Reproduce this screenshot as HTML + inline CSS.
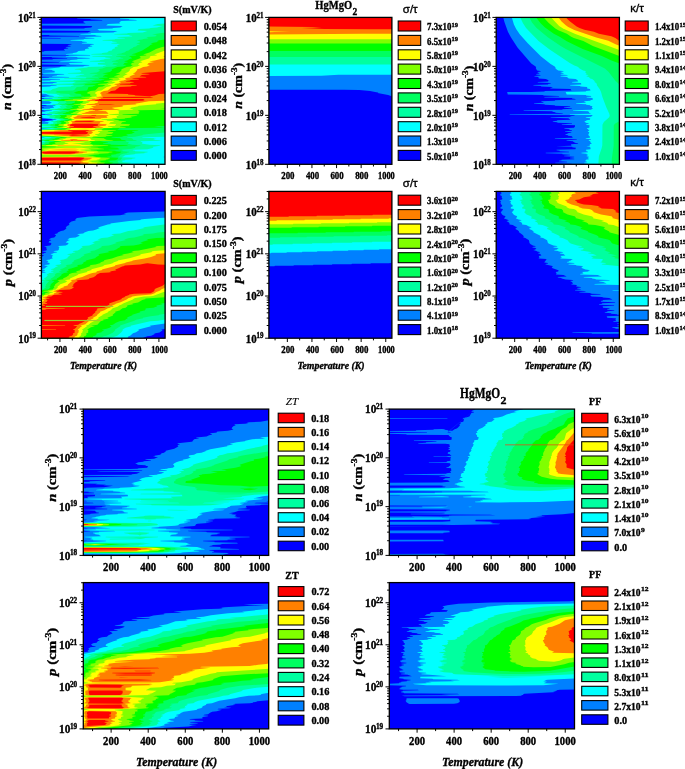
<!DOCTYPE html>
<html><head><meta charset="utf-8"><style>
html,body{margin:0;padding:0;background:#fff;}
svg{display:block;}
text{font-family:'Liberation Serif','DejaVu Serif',serif;font-weight:bold;fill:#000;stroke:#000;stroke-width:0.35px;}
</style></head><body>
<svg width="685" height="769" viewBox="0 0 685 769">
<rect x="41.2" y="17.4" width="123.8" height="146.9" fill="#0000FF"/>
<path fill="#0080FF" d="M41.2 17.4 165 17.4 165 164.3 41.2 164.3 41.2 120.98 48.3 120.68 48.35 120.18 52.38 119.68 52.36 119.18 42.82 118.68 42.45 118.17 41.2 118.11 41.2 114.81 45.33 114.66 44.84 114.16 41.2 114.02 41.2 110.82 43.45 110.65 43.77 110.15 41.2 110.08 41.2 107.86 43.68 107.65 44.01 107.14 41.2 106.72 41.2 106.1 46.74 105.64 46.18 105.14 41.2 105.01 41.2 102.73 41.96 102.63 41.2 102.32 41.2 98.7 44.17 98.62 44.14 98.12 41.2 98 41.2 96.78 45.39 96.62 45.37 96.11 41.2 95.65 41.2 77.7 48.87 77.56 49.11 77.06 41.2 76.84 41.2 74.69 43.05 74.56 43.42 74.05 41.2 74.01 41.2 66.85 60.36 66.53 60.77 66.03 66.15 65.53 66.51 65.03 41.28 64.53 41.79 64.03 41.2 63.97 41.2 62.96 58.67 62.52 59.08 62.02 42.2 61.79 41.2 61.78 41.2 59.83 52.41 59.51 52.99 59.01 66.99 58.51 67.42 58.01 51.52 57.51 52.08 57.01 41.2 56.9 41.2 55.78 64.76 55.61 68.47 55.5 68.8 55 41.2 54.74 41.2 51.81 44.04 51.49 44.41 50.99 64.79 50.49 64.99 49.99 63.8 49.49 64.03 48.99 67.82 48.48 68.32 47.98 65.61 47.48 65.97 46.98 70.4 46.48 70.76 45.98 67.45 45.48 68.2 44.98 71.24 44.47 71.57 43.97 41.2 43.67 41.2 38.58 60.4 38.46 60.9 37.96 41.2 37.84 41.2 36.69 76.79 36.52 78.77 36.45 79.12 35.95 49.18 35.45 49.39 34.95 41.2 34.92 41.2 32.78 87.86 32.44 90.98 30.94 41.2 30.52 41.2 28.71 84.46 28.43 84.69 27.93 91.33 27.43 92.24 25.92 41.2 25.47 41.2 23.84 85.32 23.42 85.31 22.92 83.51 22.41 83.61 20.91 102.14 20.41 102.36 19.91 90.55 19.41 90.59 18.9 77.3 18.4 77.13 17.9 41.2 17.83Z"/>
<path fill="#00FFFF" d="M84.4 17.4 165 17.4 165 156.7 163.61 156.78 163.61 157.28 165 157.32 165 160.76 164.16 160.79 164.15 161.29 165 161.37 165 164.3 41.2 164.3 41.2 137.98 45.8 137.73 41.2 137.16 41.2 128.7 52.02 128.2 41.2 128.06 41.2 126.28 41.61 126.2 41.2 126.18 41.2 123.91 47.92 123.69 48.77 122.19 44.94 121.68 45.19 121.18 52.84 120.68 52.85 120.18 56.4 119.68 56.42 119.18 42.63 117.67 42 117.17 43.24 116.67 41.2 115.98 41.2 115.08 52.12 114.66 51.86 114.16 41.2 113.72 41.2 112.79 41.95 112.66 42 112.16 45.18 111.66 45.47 111.16 51.68 110.65 52.28 110.15 41.2 109.8 41.2 108.95 49.46 108.65 50.28 108.15 53.83 107.65 54.2 107.14 52.84 106.64 52.94 106.14 55.65 105.64 55.34 105.14 41.2 104.65 41.2 104.08 51.13 103.63 49.83 103.13 51.97 102.63 49.1 101.13 41.2 100.96 41.2 98.94 52.54 98.62 52.49 98.12 41.2 97.66 41.2 97.09 53.76 96.62 53.82 96.11 48.62 95.61 48.61 95.11 46.58 94.61 46.7 94.11 41.2 93.77 41.2 86.98 50.42 86.59 50.75 86.09 56.4 85.59 56.77 85.08 41.2 84.81 41.2 83.8 52.61 83.58 53.42 83.08 56.38 82.58 57.1 82.08 41.2 81.82 41.2 80.77 50.23 80.57 50.7 80.07 59.87 79.57 60.17 79.07 41.2 78.58 41.23 78.07 69 77.56 69.23 77.06 52.06 76.56 52.31 76.06 56.84 75.56 57.22 75.06 63.76 74.56 64.45 74.05 42.86 73.55 43.29 73.05 54.13 72.55 55.24 72.05 54.17 71.55 55.12 71.05 51.92 70.54 52.74 70.04 44.49 69.54 45 69.04 59.41 67.54 59.94 67.04 83.38 66.53 83.92 66.03 88.97 65.53 89.46 65.03 69.82 64.53 70.22 64.03 68.63 63.53 69.07 63.02 82.18 62.52 82.59 62.02 60.01 61.52 60.6 61.02 70.01 60.52 70.47 60.02 77.28 59.51 77.56 59.01 89.48 58.51 89.76 58.01 77.11 57.51 77.35 57.01 65.58 56.51 66.03 56.01 89.97 55.5 90.26 55 65.71 54.5 66.06 54 72.69 53.5 73.02 53 76.32 52.5 78.55 50.99 84.83 50.49 85.39 49.99 84.9 49.49 85.48 48.99 88.68 48.48 89.25 47.98 87.62 47.48 88.16 46.98 91.97 46.48 92.53 45.98 89.86 45.48 90.45 44.98 93.53 44.47 94.06 43.97 81.61 43.47 82.16 42.97 86.65 42.47 87.15 41.97 81.79 41.47 82.35 40.96 70.39 40.46 70.88 39.96 83.55 39.46 84.09 38.96 94.09 38.46 94.52 37.96 85 37.45 85.51 36.95 101.03 36.45 101.64 35.95 95.3 35.45 95.75 34.95 80.24 34.45 80.69 33.95 90.75 33.44 91.34 32.94 113.32 32.44 117.49 30.94 98.26 30.44 99.15 29.93 97.33 29.43 98.13 28.93 112.36 28.43 113.13 27.93 120.27 27.43 122.62 25.92 106.2 25.42 107.89 23.92 119.53 23.42 120.19 22.92 119.07 22.41 121.18 20.91 136.25 20.41 136.92 19.91 128.68 19.41 129.29 18.9 119.88 18.4 120.34 17.9Z"/>
<path fill="#00FFA0" d="M157.74 23.92 165 23.53 165 136.87 142.95 137.3 141.82 137.73 142.95 137.84 156.71 138.23 153.52 138.73 155.07 139.23 152.74 139.73 161.41 140.23 159.32 140.74 140.77 141.24 140.55 141.74 142.64 142.24 141.92 143.24 142.54 143.74 149.49 144.75 159.49 145.25 160.45 145.75 152.95 146.75 152.64 147.25 153.72 147.75 147.52 149.26 133.77 149.76 132.44 150.26 135.01 150.76 134.93 151.26 147.62 151.77 147.61 152.27 144.51 152.77 144.38 153.27 135.34 153.77 134.49 154.27 124.87 155.28 124.04 156.28 122.46 156.78 122.51 157.28 135.34 157.78 135.32 158.28 131.91 158.78 131.86 159.29 125.4 159.75 125.08 160.29 122.18 160.79 121.99 161.29 122.78 161.79 122.53 162.29 130.73 162.8 130.59 163.3 127.61 163.8 127.47 164.3 41.2 164.3 41.2 143.78 42.03 143.24 41.71 142.74 42.07 142.24 44.55 141.74 45.09 141.24 41.2 141.02 41.2 139.18 43.75 138.73 43.73 138.23 52.01 137.73 50.59 137.23 41.2 136.92 41.2 129.31 51.73 129 55.38 128.2 41.2 127.88 41.2 127.02 51.22 126.7 51.76 126.2 41.2 125.74 41.2 125.08 42.61 124.19 53.17 123.69 53.48 122.19 51.07 121.68 51.09 121.18 56.88 120.68 56.94 120.18 60.42 119.68 60.55 119.18 54.21 118.68 54.15 118.17 49.64 117.67 49.3 117.17 50.1 116.67 49.67 116.17 47.46 115.67 46.79 115.17 58.49 114.66 58.6 114.16 47.26 113.66 47.08 113.16 49.36 112.66 49.54 112.16 52.87 111.66 53.35 111.16 59.42 110.65 59.91 110.15 46.02 109.65 46.59 109.15 57.27 108.65 57.79 108.15 60.54 107.65 60.74 107.14 59.54 106.64 59.59 106.14 61.81 105.64 61.62 105.14 52.74 104.64 52 104.14 58.3 103.63 57.43 103.13 59.21 102.63 56.84 101.13 41.2 100.75 41.2 99.76 43.33 99.62 43.45 99.12 48.72 98.98 60.65 98.62 60.82 98.12 48.74 97.62 48.78 97.12 63.17 96.62 63.63 96.11 58.5 95.61 58.96 95.11 56.52 94.61 57.2 94.11 47 93.61 47.35 93.11 43.73 92.6 44.02 92.1 42.44 91.6 42.7 91.1 50.61 90.6 52.79 89.1 55.26 88.59 58.93 87.09 71.01 86.59 71.19 86.09 73.68 85.59 73.76 85.08 50.75 84.58 51.56 84.08 72.19 83.58 75.79 82.08 49.35 81.57 50.11 81.07 73.29 80.57 73.98 80.07 80.27 79.57 80.65 79.07 64.08 78.57 64.37 78.07 86.1 77.56 86.3 77.06 75.65 76.56 75.92 76.06 79.61 75.56 79.99 75.06 83.8 74.56 84.51 74.05 67.3 73.55 68.67 73.05 79.75 72.55 81.01 72.05 80.7 71.55 81.8 71.05 79.72 70.54 80.61 70.04 74.39 69.54 75.17 69.04 87.31 67.54 87.9 67.04 102.63 66.53 103.21 66.03 105.67 65.53 106.22 65.03 97.47 64.53 98.37 64.03 97.45 63.53 98.25 63.02 104.74 62.52 105.18 62.02 89.72 61.52 90.25 61.02 99.9 60.52 100.32 60.02 104.16 59.51 104.54 59.01 110.22 58.51 110.61 58.01 105.06 57.51 105.49 57.01 92.23 56.51 92.6 56.01 112 55.5 112.36 55 91.15 54.5 91.59 54 101.83 53.5 102.32 53 107.14 52.5 108.96 50.99 111.91 50.49 112.68 48.99 114.63 48.48 115.17 47.98 114.49 47.48 115.07 46.98 117.5 46.48 118.07 45.98 116.95 45.48 117.55 44.98 120.06 43.97 111.05 43.47 111.74 42.97 116.39 42.47 117.08 41.97 111.85 41.47 112.63 40.96 102.25 40.46 102.96 39.96 114.55 39.46 115.37 38.96 124.39 38.46 125.26 37.96 117.11 37.45 117.93 36.95 131.64 36.45 132.55 35.95 128.94 35.45 130.02 34.95 113.85 34.45 114.94 33.95 126.88 33.44 128.13 32.94 142.76 32.44 147.31 30.94 137.02 30.44 138.31 29.93 137.81 29.43 139.19 28.93 149.24 28.43 150.75 27.93 157.01 27.43 162.75 25.92 152.49 25.42Z"/>
<path fill="#00FF60" d="M161.14 32.94 165 32.78 165 132.42 146.28 134.22 142.75 134.72 142.55 135.22 135.11 136.72 127.41 137.33 126.82 137.73 132.58 138.23 132.11 138.73 133.28 139.23 132.91 139.73 136.67 140.23 136.41 140.74 126.23 141.24 125.9 141.74 128.89 142.24 128.79 142.74 127.73 143.24 128.14 143.74 132.46 144.75 139.64 145.25 140.99 145.75 135.42 146.75 134.92 147.25 135.57 147.75 131.57 148.76 121.69 149.76 121.4 150.26 123.22 150.76 123.2 151.26 129.25 151.77 129.25 152.27 127.06 152.77 126.87 153.27 123.13 153.77 120.46 154.77 119.92 155.28 119.83 156.28 118.3 156.78 118.47 157.28 121.9 157.78 121.89 158.28 120.38 160.29 117.81 160.79 117.44 161.29 118.09 161.79 117.56 162.29 119.58 162.8 116.94 164.3 41.2 164.3 41.2 144.74 44.41 143.74 45.11 142.24 49.74 141.24 41.2 140.81 41.2 140.11 45.99 139.73 46.75 139.23 50.03 138.73 50.29 138.23 56.41 137.73 55.4 137.23 41.2 136.59 41.2 129.76 52.23 129.63 59.11 128.2 42.26 127.7 54.87 126.7 55.15 126.2 50.27 125.69 50.75 124.19 56.83 123.69 57.38 122.19 55.4 121.68 55.46 121.18 60.91 120.68 61.02 120.18 64.57 119.68 64.73 119.18 58.64 118.68 58.73 118.17 54.58 117.67 54.47 117.17 55.5 116.67 55.42 116.17 53.64 115.67 53.4 115.17 64.93 114.66 65.43 114.16 60.25 113.9 54.81 113.66 54.79 113.16 57.34 112.66 57.65 112.16 61.21 111.66 61.65 111.16 66.59 110.65 66.83 110.15 54.84 109.65 55.51 109.15 64.11 108.65 64.31 108.15 66.62 107.65 66.7 107.14 65.52 106.64 65.54 106.14 67.66 105.64 67.57 105.14 59.9 104.64 59.37 104.14 65.11 103.63 64.63 103.13 66.67 102.63 65.44 101.13 45.28 100.63 45.18 100.13 52.16 99.62 52.24 99.12 70.21 98.62 70.59 98.12 57.68 97.62 58.08 97.12 73.85 96.62 74.55 96.11 69.8 95.61 70.66 95.11 68.8 94.61 70.06 94.11 59.22 93.61 60.7 93.11 55.18 92.6 57.05 92.1 55.56 91.6 57.71 91.1 72.81 90.6 74.18 90.1 76.75 87.09 82.56 86.59 82.52 86.09 84.53 85.59 84.46 85.08 72.99 84.58 73.33 84.08 82.99 83.58 88.53 82.08 75 81.57 76.2 81.07 89.63 80.57 90.47 80.07 94.36 79.57 94.7 79.07 85.65 78.57 85.92 78.07 98.13 77.56 98.29 77.06 92.11 76.56 92.37 76.06 94.61 75.56 94.97 75.06 97.24 74.56 97.81 74.05 89.38 73.55 90.75 73.05 96.52 72.55 97.79 72.05 99.54 71.05 99.2 70.54 100.33 70.04 97.95 69.54 99.12 69.04 102.27 68.54 106.13 67.04 113.97 66.53 116.67 65.53 117.3 65.03 112.27 64.53 113.64 63.02 117.68 62.52 118.2 62.02 111.53 61.52 112.11 61.02 115.97 60.52 116.41 60.02 118.76 59.51 119.23 59.01 122.97 58.51 123.49 58.01 120.29 57.51 120.77 57.01 115.93 56.51 116.35 56.01 125.69 55.5 126.15 55 116.85 54.5 117.35 54 121.49 53.5 122.1 53 124.44 52.5 126.39 50.99 128.64 50.49 130.41 48.99 132.89 47.98 132.98 47.48 133.84 46.98 135.84 46.48 136.78 45.98 136.61 45.48 139.44 44.38 139.97 43.97 136.14 43.47 139.74 42.47 140.43 41.97 139.31 41.47 140.05 40.96 136.87 40.46 138.06 39.96 142.3 39.46 143.22 38.96 147.46 38.46 148.62 37.96 146.25 37.45 147.55 36.95 154.88 36.45 156.59 35.95 155.62 35.45 157.28 34.95 152.1 34.45Z"/>
<path fill="#00FF00" d="M164.8 39.46 165 126.04 158.06 126.2 154.25 126.7 164.62 127.2 159.94 127.7 119.56 128.2 117.25 129.71 138.6 130.21 137.56 130.71 132.59 131.21 131.71 131.71 134.96 132.21 131.58 133.72 127.26 134.22 126 134.72 128.06 135.22 126.92 135.72 122.89 136.22 122.24 136.72 111.82 137.23 111.39 137.73 120.69 138.23 120.13 138.73 121.51 139.23 120.87 139.73 125.7 140.23 125.35 140.74 103.33 141.24 99.85 141.74 108.6 142.24 107.21 142.74 102.87 143.24 103.19 143.74 110.4 144.25 111.29 144.75 126.89 145.25 128.1 145.75 110.02 146.75 110.92 147.25 117.79 147.75 117.69 148.26 119.45 148.76 119.08 149.26 117.38 149.42 108.4 149.76 108.75 150.26 115.53 150.76 115.56 151.26 121.16 151.77 121.16 152.27 119.78 152.77 119.72 153.27 116.55 153.77 116.02 154.27 111.39 154.77 110.77 155.28 112.28 156.28 106.91 156.78 108.55 157.28 118.17 157.78 117.49 159.29 115.51 160.29 108.66 160.79 108.13 161.29 110.29 161.79 109.46 162.29 113.46 162.8 109.87 164.3 41.2 164.3 41.2 145 45.17 144.75 45.67 144.25 48.61 143.74 49.22 143.24 48.52 142.74 49.47 142.24 53.73 141.74 54.67 141.24 44.05 140.74 44.59 140.23 51.73 139.73 54.86 138.73 55.07 138.23 60.75 137.75 60.13 137.23 41.2 136.09 41.2 129.92 56.61 129.71 64.98 128.2 53.12 127.7 54.19 127.2 58.04 126.7 58.49 126.2 54.75 125.69 55.08 124.19 60.99 123.69 61.57 122.19 59.42 121.68 59.54 121.18 65.2 120.68 65.31 120.18 68.6 119.68 68.9 119.18 63.16 118.68 63.38 118.17 59.56 117.67 59.69 117.17 60.96 116.67 61.17 116.17 59.81 115.67 59.98 115.17 71.25 114.66 71.94 114.16 62.59 113.66 62.99 113.16 65.62 112.66 65.98 112.16 68.78 111.66 69 111.16 73.1 110.65 73.24 110.15 63.06 109.65 63.39 109.15 70.46 108.65 70.56 108.15 72.77 107.65 72.83 107.14 71.61 106.64 71.63 106.14 73.92 105.64 73.98 105.14 66.47 104.64 66.23 104.14 72.25 103.63 72.21 103.13 74.76 102.63 75.03 101.13 54.32 100.63 54.16 100.13 61.32 99.62 61.54 99.12 81.11 98.62 81.45 98.12 68.53 97.62 69.34 97.12 83.74 96.62 84.29 96.11 80.85 95.61 81.6 95.11 80.39 94.61 81.72 94.11 74.44 93.61 76.45 93.11 73.68 92.6 78.55 91.1 86.55 90.6 87.3 90.1 88.47 87.09 93.17 86.59 93.25 86.09 95.2 85.59 95.43 85.08 84.69 84.58 84.96 84.08 95.22 83.58 101.01 82.08 91.05 81.57 92.66 81.07 101.22 80.57 101.7 80.07 104.19 79.57 104.41 79.07 99.06 78.57 99.26 78.07 107.36 77.56 107.66 77.06 102.82 76.56 102.99 76.06 104.43 75.56 104.82 75.06 108.66 74.05 102.19 73.55 109.91 72.05 112.41 70.04 111.36 69.54 117.38 67.04 123.14 66.53 125.75 65.53 126.44 65.03 122.96 64.53 124.7 63.02 127.42 62.52 127.84 62.02 124.25 61.52 124.9 61.02 127.2 60.52 129.49 59.01 131.74 58.51 132.31 58.01 130.84 57.51 131.43 57.01 129.13 56.51 129.7 56.01 135.72 55.5 136.56 55 131.42 54.34 134.89 53.5 142.23 50.49 148.7 46.48 150.38 44.98 152.96 43.97 150.89 43.47 151.97 42.95 157.46 41.97 156.96 41.47 159.06 40.96 157.22 40.46Z"/>
<path fill="#80FF00" d="M162.31 46.98 165 46.58 165 107.59 164.29 107.65 165 108.16 160.01 108.65 165 108.83 165 109.71 139.33 110.15 137.44 110.65 140.1 111.16 138.47 111.66 139.43 112.16 138.29 112.66 139.16 113.16 138.27 113.66 122.96 114.16 122.2 114.66 137.58 115.17 136.66 115.67 130.56 116.67 132.04 117.17 130.37 117.67 125.07 118.17 124.62 118.68 114.56 119.18 114.2 119.68 118.98 120.18 118.45 120.68 126.17 121.18 125.69 121.68 122.06 122.19 120.86 123.69 130.15 124.19 128.93 125.69 120.24 126.2 119.81 126.7 125.94 127.2 125.38 127.7 103.95 128.2 101.29 129.71 116.15 130.21 115.29 130.71 108.51 131.21 107.41 131.71 113.53 132.21 111.97 133.72 106.53 134.22 106.44 134.72 112.42 135.22 112.27 135.72 105.89 136.22 105.8 136.72 92.7 137.23 91.98 137.73 104.85 138.23 103.58 138.73 106.72 139.23 104.5 139.73 113.7 140.23 111.98 140.74 89.89 141.24 89.49 141.74 91.67 142.24 91.43 142.74 90.37 143.24 90.29 143.74 92.28 144.25 92.45 144.75 107.68 145.25 108.46 145.75 90.47 146.75 90.9 147.25 98.09 147.75 98.71 148.26 103.59 148.76 104.06 149.26 90.79 149.76 91.13 150.26 97 150.76 97.35 151.26 112.41 151.77 112.45 152.27 108.67 152.77 108.65 153.27 99.68 153.77 98.86 154.27 86.97 155.28 96.45 156.28 92.5 156.78 96.77 157.28 109.9 157.78 110 158.28 108.51 158.78 108.41 159.29 105.81 159.79 105.62 160.29 98.52 160.79 98.32 161.29 100.85 161.79 100.47 162.29 105.36 162.8 102.84 164.3 58.74 164.3 41.2 164.3 41.2 155.78 42.42 155.28 41.2 155.14 41.2 150.43 44.11 149.76 41.2 149.59 41.2 147.82 55.24 147.25 56.53 146.75 41.2 145.97 41.2 145.32 52.16 144.75 52.33 144.25 55.52 143.74 55.55 143.24 54.42 142.74 54.99 142.24 60.38 141.74 61.43 141.24 48.43 140.74 49.68 140.23 56.52 139.73 59.53 138.73 59.68 138.23 66.86 137.73 66.18 137.23 56.71 136.72 53.6 136.22 41.2 135.77 41.2 130.08 64.67 129.71 66.26 129.3 67.96 128.2 56.38 127.7 57.35 127.2 63.2 126.7 63.61 126.2 58.21 125.69 58.94 124.19 65.59 123.69 65.98 122.19 63.94 121.68 64.03 121.18 68.96 120.68 69.2 120.18 71.57 119.68 71.81 119.18 67.75 118.68 68.19 118.17 64.54 117.67 64.91 117.17 67.22 116.17 66.2 115.67 66.92 115.17 76.3 114.66 77.16 114.16 70.42 113.66 70.86 113.16 73 112.66 73.25 112.16 75.44 111.66 75.57 111.16 78.57 110.65 78.74 110.15 70.18 109.65 70.33 109.15 76.67 108.65 76.78 108.15 78.74 107.65 78.92 107.14 77.96 106.64 78.15 106.14 80.38 105.64 80.61 105.14 73.51 104.64 73.59 104.14 79.97 103.63 80.23 103.13 82.33 102.63 83.43 101.13 64.47 100.63 64.45 100.13 72.89 99.62 73.34 99.12 88.79 98.62 89.19 98.12 81.07 97.62 81.62 97.12 91.26 96.62 91.81 96.11 89.6 95.61 90.31 95.11 89.73 94.61 90.83 94.11 86.54 93.61 88.12 93.11 86.95 92.6 90.54 91.1 95.15 90.6 98.69 87.09 102.83 86.59 105.61 85.08 97.51 84.58 98.46 84.08 106.31 83.58 108.21 82.58 109.02 82.08 103.51 81.57 104.23 81.07 109.44 80.57 110.02 80.07 112.54 79.57 113.12 79.07 108.83 78.57 109.21 78.07 117.26 77.56 117.99 77.06 113.67 76.56 119.48 74.56 120.08 74.05 115.52 73.55 119.43 72.55 121.81 70.04 121.21 69.54 122 69.04 126.79 67.04 130.53 66.53 132.2 65.53 132.69 65.03 130.65 64.53 131.86 63.02 133.95 62.52 134.55 62.02 132.03 61.52 132.56 61.02 140.95 58.01 139.97 57.51 140.88 57.01 139.33 56.51 140.3 56.01 145.69 55.5 146.76 55 143.09 54.5 149.46 52.5 156.05 48.99Z"/>
<path fill="#FFFF00" d="M163.73 50.99 165 50.78 165 102.8 155.7 103.63 156.35 104.14 138.54 105.64 138.22 106.14 130.71 107.65 131.02 108.15 129.19 108.65 133.63 109.15 132.04 109.65 119.36 110.15 116.96 110.65 119.83 111.16 118.26 111.66 119.22 112.16 118.27 112.66 119.19 113.16 118.64 113.66 109.55 114.16 109.26 114.66 118.76 115.17 118.42 115.67 116.65 116.17 116.38 116.67 117.19 117.17 116.91 117.67 112.44 118.17 112.19 118.68 101.64 119.18 101.3 119.68 107.26 120.18 106.81 120.68 113.92 121.18 113.54 121.68 110.29 122.19 109.06 123.69 116.22 124.19 114.99 125.69 108.16 126.2 107.68 126.7 112.67 127.2 112.02 127.7 95.67 128.2 94 129.71 102.81 130.21 102.07 130.71 98.45 131.21 97.64 131.71 100.34 132.21 98.6 133.72 95.3 134.22 94.86 134.72 97.89 135.22 97.39 135.72 93.26 136.22 92.7 136.72 87.31 137.08 72.78 137.28 57.24 136.03 41.2 135.28 41.2 130.34 60.75 129.99 69.25 129.71 71.56 128.2 61.2 127.7 66.98 126.7 67.19 126.2 63.45 125.69 63.94 124.19 68.65 123.69 69.28 122.19 67.9 121.68 68.06 121.18 71.92 120.68 72.1 120.18 74.38 119.68 74.59 119.18 71.26 118.68 71.63 118.17 69.7 117.67 72.06 116.17 71.88 115.67 72.73 115.17 81.49 114.66 82.23 114.16 76.55 113.66 78.47 112.66 78.73 112.16 80.41 111.66 80.63 111.16 84.21 110.65 84.39 110.15 76.79 109.65 76.92 109.15 82.08 108.65 82.28 108.15 84.2 107.65 84.35 107.14 83.56 106.64 83.77 106.14 85.55 105.64 85.76 105.14 80.89 104.64 81.19 104.14 85.63 103.63 86.04 103.13 88.2 102.63 90.42 101.13 76.89 100.63 77.5 100.13 84.06 99.62 84.67 99.12 95.07 98.62 95.42 98.12 89.69 97.62 90.24 97.12 97.03 96.62 97.4 96.11 96.02 95.61 96.5 95.11 96.21 94.61 96.91 94.11 94.59 93.61 95.61 93.11 95.11 92.6 97.96 91.1 101.51 90.6 106.69 87.09 109.22 86.59 111.04 85.59 111.65 85.08 107.63 84.58 108.29 84.08 112.9 83.58 115.8 82.08 111.47 81.57 112.35 81.07 117.31 80.57 120.85 79.07 118.49 78.57 119.12 78.07 123.95 77.56 124.6 77.06 122.62 76.56 127.77 74.05 124.74 73.55 128.26 72.05 130.05 70.04 129.72 69.54 130.33 69.04 133.7 67.04 137.27 66.53 140.32 65.03 137.84 64.53 139.57 63.02 141.83 62.52 142.5 62.02 140.16 61.52 140.88 61.02 148.86 58.51 149.84 58.01 149.38 57.51 150.61 57.01 149.7 56.51 150.97 56.01 156.12 55.5 157.11 55 154.08 54.5ZM65.69 138.23 72.78 137.77 90.75 138.23 90.04 138.73 91.31 139.23 90.58 139.73 95.26 140.23 94.23 140.74 84.81 141.14 70.77 141.22 53.86 140.74 54.95 140.23 62.64 139.73 63.12 139.23 65.67 138.73ZM64.88 142.24 71.77 141.83 85.22 142.24 83.38 142.74 71.63 143.74 82.14 144.25 80.3 144.75 92.8 145.25 93.2 145.75 83.3 146.28 60.25 146.27 45.94 145.75 46.67 145.25 64.97 144.75 62.87 144.25 68.75 143.74 67.84 143.24 64.52 142.74ZM64.97 147.75 81.5 147.75 88.97 148.76 89.98 149.26 80.13 149.76 80.72 150.26 85.62 150.76 85.5 151.26 98.13 151.77 98.33 152.27 93.95 152.77 93.91 153.27 76.79 154.54 69.27 154.97 45.21 154.73 41.2 154.36 41.2 151.32 49.66 149.76 42.22 149.26 43.2 148.91ZM67.54 156.78 70.27 156.4 100.47 157.78 100.69 158.28 99.28 158.78 99.24 159.29 96.77 159.79 96.69 160.29 88.56 160.79 88.39 161.29 91.68 161.79 91.45 162.29 97.79 162.8 96.13 164.3 83.8 164.3 41.2 164.3 41.2 156.93Z"/>
<path fill="#FF8000" d="M164.46 56.01 165 55.98 165 56.84 164.5 56.77 163.19 56.51ZM160.89 59.01 165 58.58 165 98.29 163.19 98.62 165 98.73 165 100.66 148.98 101.13 135.22 103.63 136.58 104.14 134.93 104.44 123.8 105.14 122.24 105.64 123.13 106.14 121.74 106.64 111.7 107.65 114.6 108.15 111.68 108.65 120.16 109.15 117.89 109.65 100.35 110.15 97.56 110.65 106.64 111.16 106.06 111.66 107.72 112.16 107.26 112.66 108.43 113.16 108.11 113.66 95.33 114.1 81.51 113.66 82.01 113.16 85.27 112.66 85.56 112.16 88.65 111.66 88.63 111.16 94.97 110.65 95.1 110.15 82.35 109.65 82.6 109.15 89.64 108.65 89.63 108.15 93.56 107.65 93.64 107.14 91.33 106.64 91.41 106.14 95.81 105.64 95.95 105.14 86.36 104.64 86.73 104.14 94.51 103.63 94.89 103.13 97.58 102.63 98.04 101.13 86.38 100.63 87.18 100.13 91.91 99.62 92.44 99.12 100.85 98.62 101.03 98.12 96.25 97.62 96.69 97.12 102.38 96.62 102.62 96.11 101.02 95.61 101.38 95.11 101.06 94.61 101.7 94.11 99.67 93.61 100.73 93.11 100.49 92.6 103.78 91.1 107.75 90.6 112.13 87.09 114.94 86.59 116.87 85.59 117.37 85.08 114.18 84.58 114.86 84.08 118.33 83.58 121.2 82.08 118.61 81.57 119.63 81.07 123.47 80.57 126.03 79.57 126.64 79.07 124.91 78.57 125.59 78.07 129.64 77.56 130.88 77.06 129.2 76.56 134.93 74.37 135.28 74.05 132.77 73.55 135.14 72.55 137.35 70.04 136.98 69.54 137.43 69.28 140.03 68.54 143.19 67.04 146.99 66.53 149.08 65.53 149.75 65.03 147.13 64.53 148.68 63.02 154.22 62.02 149.46 61.56 149.96 61.13 154.68 60.52ZM78.19 115.17 94.83 114.72 108.62 115.17 108.41 115.67 106.72 116.17 106.47 116.67 107.44 117.17 107.19 117.67 103.35 118 101.01 118.17 100.77 118.68 90.82 119.01 74.78 118.77 74.06 118.68 74.52 118.17 72.84 117.67 76.77 116.17 76.85 115.67ZM75.75 120.18 90.82 119.94 94.65 120.18 94.63 120.68 103.79 121.18 103.47 121.68 99.99 122.19 99.49 123.69 106.74 124.19 105.57 125.69 99.57 126.2 99.22 126.7 103.62 127.2 102.35 127.72 85.31 128.14 66.42 127.7 66.87 127.2 69.45 126.7 69.7 126.2 67.25 125.69 67.66 124.19 71.77 123.69 72.4 122.19 71.06 121.68 71.25 121.18 75.36 120.68ZM59.66 130.21 85.31 129.77 95.49 130.21 94.89 130.71 92.09 131.21 91.31 131.71 93.17 132.21 91.44 133.72 89.41 134.22 89.01 134.72 90.32 135.22 89.81 135.72 85.52 136.72 80.8 136.77 71.27 136.8 68.68 136.22 54.57 135.22 53.75 134.72 41.2 134.38 41.2 131.41 53.23 131.27 54.12 131.21 54.32 130.71ZM70.21 139.23 73.28 138.93 77.97 139.23 76.36 139.73 88.69 140.23 88.27 140.74 80.29 140.9 60.33 140.74 61.42 140.23 70.4 139.73ZM57.21 145.25 81.8 145.45 79.79 145.79 60.75 145.79 58.15 145.75ZM65.21 148.76 75.28 148.65 79.89 149.26 64.26 149.43 48.84 149.26ZM48.32 150.76 75.28 150.52 77.37 150.76 77.24 151.26 87.24 151.77 87.01 152.27 83.09 152.77 82.55 153.27 79.29 153.48 69.77 154.41 44.71 154.3 41.2 153.53 41.2 151.58 46.61 151.26ZM41.2 157.78 41.2 157.35 78.29 157.33 91.65 157.78 92.04 158.28 90.52 158.78 90.49 159.29 87.74 159.79 87.66 160.29 81.3 160.99 81.13 161.29 83.28 161.79 82.92 162.29 89.24 162.8 86.91 164.3 41.2 164.3Z"/>
<path fill="#FF0000" d="M161.57 71.55 165 71.35 165 93.78 159 94.11 154.56 95.61 149.96 96.23 134.91 95.61 134.77 95.11 127.83 94.61 128.28 94.11 105.56 93.61 109.09 93.11 107.67 92.6 109.61 92.1 111.07 91.1 115.09 90.6 119.48 87.09 131.4 86.59 131.13 86.09 136.8 85.59 136.48 85.08 134.93 85.06 119.76 84.58 120.2 84.08 121.9 83.83 130.01 83.58 130.46 83.08 133.44 82.58 134.12 82.08 125.36 81.57 126.34 81.07 129.98 80.57 130.71 80.07 138.35 79.57 139.18 79.07 131.8 78.57 134.05 78.07 145.58 77.56 146.5 77.06 139.94 76.61 139.62 76.56 140.08 76.06 141.91 75.06 148.13 74.56 150.08 74.05 140.94 73.52 142.62 73.05ZM102.86 97.12 149.46 96.74 153.47 97.23 150.46 97.67 134.93 97.93 103.85 97.67 102.5 97.62ZM99.17 99.12 140.44 98.91 145 99.12 143.2 99.62 144.65 100.13 142.45 100.66 134.43 100.99 101.85 100.94 94.6 100.63 95.08 100.13 98.97 99.62ZM99.14 104.14 115.38 104.15 110.49 104.64 101.85 104.7 99.04 104.64ZM92.96 109.15 102.85 109.17 101.91 109.65 95.33 109.71 92.91 109.65ZM92.52 115.17 96.15 115.17 96.04 115.67 94.33 115.84 90.54 115.67ZM82.28 117.17 90.32 116.79 95.07 117.17 94.98 117.67 93.33 117.74 80.15 117.67ZM74.54 121.18 90.82 121.05 93.62 121.18 93.68 121.68 89.82 122.1 75.78 121.9 74.42 121.68ZM70.61 124.19 75.28 123.76 89.82 123.69 98.37 124.19 97.71 125.69 93.18 126.2 93.14 126.7 96.49 127.2 96.33 127.44 91.32 127.89 69.04 127.7 69.42 127.2 73.98 126.7 74.16 126.2 69.9 125.69ZM68.97 130.21 88.91 130.21 88.54 130.71 85.63 131.21 85.84 131.71 88.04 132.21 87.38 133.72 85.31 134.15 72.78 134.45 58.24 134.02 41.2 133.87 41.2 132 70.31 131.71 73.29 131.21 67.62 130.71ZM68.56 135.22 72.78 134.81 85.31 135.29 72.28 135.81ZM71.04 140.23 73.44 140.23 71.77 140.71ZM42.31 151.77 50.22 151.41 70.27 151.41 79.17 151.77 78.86 152.27 77.29 152.5 75.48 152.77 74.82 153.27 69.77 153.67 45.71 153.66 42.52 153.27 42.69 152.77 41.6 152.27ZM41.2 157.78 80.29 157.61 84.06 157.78 84.44 158.28 83.42 158.78 83.38 159.29 81.51 159.79 81.39 160.29 79.79 160.4 41.2 160.52ZM41.2 162.8 41.2 162.37 74.78 162.51 81.59 162.8 80.85 163.3 77.3 164.3 41.2 164.3Z"/>
<rect x="268.9" y="17.4" width="123.0" height="146.9" fill="#0000FF"/>
<path fill="#0080FF" d="M268.9 17.4 391.9 17.4 391.9 96.34 390.95 96.11 388.14 95.11 377.54 93.11 378.52 92.6 376.4 92.19 370.01 91.1 359.32 90.1 344.4 89.76 268.9 89.76Z"/>
<path fill="#00FFFF" d="M268.9 17.4 391.9 17.4 391.9 74.82 390.9 74.81 338.4 74.69 321.4 75.66 268.9 75.99Z"/>
<path fill="#00FFA0" d="M268.9 17.4 391.9 17.4 391.9 64.43 268.9 64.43Z"/>
<path fill="#00FF60" d="M268.9 17.4 391.9 17.4 391.9 57.09 268.9 57.09Z"/>
<path fill="#00FF00" d="M268.9 17.4 391.9 17.4 391.9 50.99 268.9 50.99Z"/>
<path fill="#80FF00" d="M268.9 17.4 391.9 17.4 391.9 43.53 268.9 43.53Z"/>
<path fill="#FFFF00" d="M268.9 17.4 391.9 17.4 391.9 39.17 268.9 39.17Z"/>
<path fill="#FF8000" d="M268.9 17.4 391.9 17.4 391.9 33.79 362.4 33.79 268.9 34.61 268.9 32.46 275.03 32.44 268.9 32.29 268.9 31.83 290.55 31.44 268.9 30.89Z"/>
<path fill="#FF0000" d="M268.9 17.4 391.9 17.4 391.9 29.26 371.9 29.26 324.25 28.93 301.48 27.93 321.61 27.43 312.85 26.93 268.9 26.54Z"/>
<rect x="496.2" y="17.4" width="123.2" height="146.9" fill="#0000FF"/>
<path fill="#0080FF" d="M503.3 17.4 619.4 17.4 619.4 164.3 571.57 164.3 571.57 163.8 570.82 163.75 555.23 163.3 555.23 162.8 567 162.29 567 161.79 559.01 161.29 559.01 160.79 561.62 160.29 561.62 159.79 574.28 159.29 574.28 158.78 569.96 158.28 569.96 157.78 574.19 157.28 574.2 156.78 564.12 156.28 564.12 155.78 569.89 155.28 569.89 154.77 562.42 154.27 562.42 153.77 545.76 153.27 545.76 152.77 568.97 152.27 568.97 151.77 559.65 151.26 559.65 150.76 556.58 150.26 556.58 149.76 575.39 149.26 575.92 147.75 572.28 147.25 572.29 146.75 556.07 146.25 571.42 145.75 571 144.25 578.13 143.74 578.08 143.24 574.61 142.74 574.45 142.24 573.25 141.74 572.98 141.24 566.9 140.74 566.24 140.23 576.87 139.73 576.62 139.23 555.22 138.73 554.65 138.23 572.7 137.73 571.99 136.22 568.09 135.72 567.91 135.22 565.33 134.72 565.37 134.22 567.53 133.72 567.79 133.22 571.19 132.71 571.46 132.21 564.82 131.71 565.31 131.21 571.87 130.71 572.2 130.21 569.11 129.71 569.58 129.2 564.06 128.7 564.63 128.2 573.95 127.7 574.86 126.7 575.08 125.19 561.92 124.69 561.66 124.19 572.15 123.69 571.94 123.19 557.68 122.69 557.11 122.19 553.14 121.68 552.48 121.18 557.47 120.68 556.8 120.18 570.55 119.68 568.34 118.17 550.9 117.67 550.52 117.17 551.29 117.16 570.44 116.67 570.36 116.17 574.58 115.67 574.59 115.17 509.73 114.66 509.72 114.16 562.74 113.66 562.72 113.16 555.39 112.66 555.37 112.16 552.48 111.66 552.46 111.16 523.67 110.65 523.65 110.15 562.43 109.65 562.41 109.15 571.82 108.65 571.83 108.15 564.03 107.65 564.01 107.14 570.2 106.64 570.18 106.14 554.94 105.64 554.83 105.14 544.75 104.64 544.61 104.14 534.23 103.63 533.9 103.13 543.61 102.63 543.41 102.13 541.38 101.63 541.17 101.13 555.02 100.63 554.79 100.13 575.56 99.62 575.48 99.12 572.04 98.62 571.94 98.12 544.48 97.62 544.26 97.12 559.23 96.62 559.02 96.11 543.49 95.61 543.25 95.11 531.26 94.74 507.77 94.61 507.15 92.1 531.26 91.94 544.8 91.6 544.51 91.1 571.52 90.6 570.5 89.1 550.58 88.59 550.23 88.09 552.53 87.59 552.18 87.09 541.22 86.59 540.92 86.09 533.47 85.59 533.41 85.08 548.32 84.58 547.85 84.08 550.97 83.58 550.36 83.08 537.74 82.58 537.79 82.08 548.33 81.57 547.75 81.07 548.98 80.57 545.87 79.07 538.68 78.57 538.47 77.06 534.29 76.56 534.48 76.06 540.61 75.56 540.34 75.06 536.18 74.56 536.18 74.05 539.44 73.55 539.15 73.05 537.67 72.55 537.46 72.05 540.92 71.55 540.38 71.05 537.03 70.54 535.76 68.04 536.19 67.54 535.61 66.53 531.26 63.38 517.49 47.48 511.02 37.45 508.02 31.94 504.43 21.91Z"/>
<path fill="#00FFFF" d="M511.83 17.4 619.4 17.4 619.4 164.3 588.11 164.3 588.11 163.8 584.22 163.3 584.22 162.8 587.04 162.29 587.04 161.79 585.26 161.29 585.26 160.79 585.91 160.29 585.91 159.79 588.85 159.29 588.85 158.78 587.69 158.28 587.71 157.78 588.88 157.28 588.91 156.78 586.62 156.28 586.68 155.78 587.87 155.28 587.92 154.77 586.52 154.27 586.6 153.77 581.4 153.27 581.49 152.77 588.03 152.27 588.11 151.77 586.41 151.26 586.51 150.76 585.81 150.26 585.91 149.76 590.34 149.26 590.71 147.75 589.86 147.25 589.93 146.75 586.35 146.25 589.82 145.75 589.8 144.25 591.6 143.74 591.58 143.24 590.66 142.74 590.2 141.24 588.83 140.74 588.67 140.23 591.11 139.73 591.02 139.23 585.86 138.73 585.62 138.23 589.93 137.73 589.69 136.22 588.86 135.72 588.3 134.72 589.34 132.21 587.87 131.71 587.87 131.21 589.2 130.71 589.2 130.21 588.26 129.71 588.26 129.2 586.92 128.7 586.94 128.2 589.32 127.7 589.56 125.19 586.06 124.69 586.1 124.19 588.76 123.69 588.82 123.19 585.52 122.69 585.56 122.19 584.55 121.68 584.56 121.18 586.33 120.68 586.39 120.18 589.95 119.68 590.24 118.17 585.76 117.67 585.83 117.17 590.85 116.73 592.41 115.67 592.49 115.17 591.86 115.1 569.84 114.66 569.85 114.16 590.49 113.66 590.61 113.16 589 112.66 589.14 112.16 588.36 111.66 588.5 111.16 573.03 110.65 573.14 110.15 590.85 109.7 592.65 108.65 592.67 108.15 591.75 107.65 592.47 106.14 590.12 105.64 590.11 105.14 586.14 104.64 586.11 104.14 576.22 103.63 576.01 103.13 585.69 102.63 585.63 102.13 584.33 101.63 584.24 101.13 590.46 100.63 590.44 100.13 593 99.62 592.44 98.12 586.7 97.62 586.6 97.12 590.85 96.72 591.19 96.62 591.1 96.11 586.14 95.61 585.97 95.11 566.7 94.61 565.6 92.1 586.1 91.6 585.78 91.1 590.59 90.6 589.87 89.1 587.27 88.59 587.01 88.09 587.37 87.59 586.95 87.09 580.78 86.59 579.83 86.09 570.63 85.59 569.76 85.08 581.69 84.58 580.8 84.08 581.41 83.58 580.59 83.08 572.41 82.58 571.72 82.08 578.36 81.57 577.74 81.07 577.86 80.57 575.75 79.07 568.76 78.57 566.94 77.06 560.76 76.56 560.36 76.06 567.96 75.56 567.04 75.06 560.97 74.56 560.39 74.05 564.2 73.55 560.19 72.05 563.96 71.55 562.84 71.05 558.29 70.54 556.65 69.54 555.13 68.04 555.66 67.54 554.73 66.53 550.59 64.03 540.77 56.14 527.75 43.29 519.74 34.34 516.14 28.93 513.92 24.42Z"/>
<path fill="#00FFA0" d="M520.27 17.4 619.4 17.4 619.4 164.3 601.87 164.3 598.72 164.3 598.43 162.8 598.89 156.28 601.65 148.26 602.3 145.25 602.45 124.69 603.87 121.91 609.18 117.17 609.73 115.67 609.31 113.66 606.38 107.6 602.41 97.12 601.03 92.1 599.6 89.1 596.7 85.08 597 84.58 596.17 83.08 594.32 82.08 594.88 81.57 594.03 80.57 592.13 79.07 590.15 78.57 588.82 77.06 586.79 76.56 586.4 76.06 588.45 75.56 588.05 75.06 585.99 74.56 585.6 74.05 586.78 73.55 584.78 72.05 586.08 71.55 585.46 71.05 583.11 70.54 578.79 68.04 578.81 67.54 577.14 66.53 574.37 65.53 569.82 63.09 549.29 49.37 538.56 40.96 526.04 27.93 522.85 22.92Z"/>
<path fill="#00FF60" d="M529.49 17.4 619.4 17.4 619.4 84.58 615.53 81.07 608.67 72.05 604.9 68.54 565.81 49.05 560.3 45.78 547.78 37.29 536.59 27.93 531.97 22.41ZM618.36 121.68 619.4 121.22 619.4 164.3 613.39 164.3 611.77 164.3 611.77 159.29 613.65 145.75 613.77 125.19 614.91 123.69Z"/>
<path fill="#00FF00" d="M536.13 17.4 619.4 17.4 619.4 63.53 610.89 60.25 601.87 55.91 582.7 48.99 566.81 41.13 560.07 36.95 553.79 33.68 545.03 27.43 540.85 23.42Z"/>
<path fill="#80FF00" d="M543.61 17.4 619.4 17.4 619.4 56.01 592.86 45.92 583.34 41.1 573.83 37.97 570.82 36.45 566.81 33.73 558.3 30.36 555.3 28.46 548.79 22.91Z"/>
<path fill="#FFFF00" d="M551.14 17.4 619.4 17.4 619.4 49.99 575.33 34.1 563.03 28.43 559.13 25.92Z"/>
<path fill="#FF8000" d="M558.6 17.4 619.4 17.4 619.4 45.48 618.9 45.6 616.03 44.47 608.38 40.7 596.26 37.45 574.33 29.88 568.21 26.93 565.81 25.34 561.58 21.41Z"/>
<path fill="#FF0000" d="M566.19 17.4 619.4 17.4 619.4 40.96 615.39 38.04 611.39 36.26 598.87 33.7 593.86 31.67 584.34 29.76 579.53 27.93 576.62 26.42 570.04 21.41 567.32 19Z"/>
<rect x="41.4" y="191.4" width="123.7" height="146.8" fill="#0000FF"/>
<path fill="#0080FF" d="M164.25 211.44 165.1 211.26 165.1 328.64 161.07 329.68 162.69 330.18 159.59 332.39 155.43 333.19 154.25 333.69 154.39 334.19 151.18 335.69 147.13 336.2 143.56 337.7 140.93 338.2 41.4 338.2 41.4 319.16 41.4 258.29 42.06 258.04 41.4 257.81 41.4 257.23 44.07 255.03 41.4 254.77 41.4 253.81 43.95 253.53 44.21 253.03 46 252.52 46.19 252.02 42.3 251.52 42.6 251.02 46.32 250.52 46.52 250.02 46.87 249.02 46.25 248.52 46.37 247.01 44.23 246.51 44.4 246.15 50.13 245.51 51.11 244.51 51.3 243.01 48.5 242.5 49.37 241 50.9 240.5 51.31 240 48.84 239.5 51.11 238 54.25 237.49 55.68 235.99 56.01 234.99 54.56 234.49 54.93 233.99 57.27 233.49 57.88 232.48 58.76 231.98 60.98 230.98 63.61 230.48 65.2 229.48 66.62 227.97 65.62 227.47 67.09 225.97 69.09 224.97 69.02 224.47 69.87 223.97 68.7 223.47 71.45 221.56 75.39 220.46 75.84 219.96 75.11 219.46 76.96 217.91 89.41 216.45 120.03 215.17 126.3 213.95 123.65 213.45 128.04 212.51Z"/>
<path fill="#00FFFF" d="M158.16 217.95 165.1 217.63 165.1 323.45 151.08 325.4 149.89 325.67 151.04 326.18 139.46 329.18 138.24 329.68 139.04 330.18 136.07 332.19 133 333.19 130.17 335.69 128.42 336.2 127.92 337.7 125.54 338.2 41.4 338.2 41.4 312.15 41.4 273.01 45.39 272.57 45.6 272.06 42.48 271.56 42.75 271.06 44.95 270.56 45.15 270.06 42.2 269.56 42.36 269.06 44.72 268.56 46.16 267.05 47.43 266.55 47.67 266.05 44.47 265.55 44.64 265.05 49.22 264.55 49.72 263.05 47.23 262.55 48.45 261.04 46.12 260.54 46.72 260.04 50.01 259.54 50.42 259.04 52.49 258.54 52.78 258.04 51.92 257.54 52.74 255.03 50.65 254.53 50.97 254.03 53.11 253.53 53.69 253.03 56.64 252.52 57.17 252.02 53.36 251.52 54.03 251.02 58.02 250.52 59.14 249.02 58.77 248.52 59.51 247.01 58.2 246.51 58.66 246.01 65.77 245.51 67.73 244.51 68.67 243.01 65.66 242.5 67.41 241 69.85 240 67.44 239.5 69.75 238 75.67 237.49 78.99 235.99 79.12 235.49 80.08 234.99 77.17 234.49 78.12 233.99 83.17 233.49 84.48 232.48 88.45 230.98 93.13 230.48 96.25 229.48 99.84 227.97 97.81 227.47 107.85 224.47 111.31 223.97 109.91 223.47 129.24 220.96 140.82 219.96 140.49 219.46 144.71 218.96Z"/>
<path fill="#00FFA0" d="M164.1 224.47 165.1 224.4 165.1 319.47 158.12 320.66 150.08 321.27 130.54 325.67 131.14 326.18 125.54 327.67 123.02 329.18 122.53 329.68 122.81 330.18 121.38 332.19 117.26 335.69 111.6 337.7 108.21 338.2 41.4 338.2 41.4 305.13 41.4 285.29 41.7 285.09 41.4 284.96 41.4 283.94 43.72 281.08 41.4 280.82 41.4 279.92 44.9 279.58 45.36 279.08 43.65 278.58 44.13 278.08 45.8 277.58 47.13 276.07 47.89 275.07 46.77 274.57 47.23 274.07 48.76 273.57 49.15 273.07 53.28 272.57 53.56 272.06 50.66 271.56 51.03 271.06 53.31 270.56 53.64 270.06 50.83 269.56 51.19 269.06 53.8 268.56 55.9 267.05 57.36 266.55 57.88 266.05 55.31 265.55 55.81 265.05 60.15 264.55 60.72 264.05 61.46 263.05 59.65 262.55 61.42 261.04 59.46 260.54 60.09 260.04 63.62 259.54 67.91 258.04 67.28 257.54 70.41 255.03 67.11 254.53 67.94 254.03 71.71 253.53 72.41 253.03 74.89 252.52 75.66 252.02 72.54 251.52 73.31 251.02 77.67 250.52 80.48 249.02 80.53 248.52 83.04 247.01 81.33 246.51 82.36 246.01 89.19 245.51 93.02 244.01 94.88 243.01 92.02 242.5 95.97 241 100.67 240 97.48 239.5 101.85 238 107.66 237.49 112.21 235.99 114.39 234.99 111.22 234.49 112.51 234.08 120.08 233.49 128.21 230.98 133.42 230.48 144.56 227.97 142.92 227.47 145.53 226.97Z"/>
<path fill="#00FF60" d="M163.09 231.98 165.1 231.81 165.1 313.73 159.18 314.65 158.7 315.15 150.58 316.18 142.88 317.66 143.19 318.16 136.16 319.66 134.34 320.66 120.87 325.17 119.97 325.67 120.28 326.18 114.8 329.68 115.23 330.18 112.74 332.69 106.34 335.69 103.79 336.2 101.15 337.7 98.6 338.2 41.4 338.2 41.4 317.66 41.4 289.73 43.04 289.6 46.28 287.1 44.83 286.59 46.56 285.09 45.87 284.59 49.25 281.08 45.98 280.58 46.59 280.08 50.99 279.58 51.65 279.08 50.53 278.58 52.86 277.58 54.42 276.22 55.41 275.07 54.72 274.57 55.19 274.07 56.91 273.07 60.38 272.57 60.89 272.06 58.71 271.56 62.05 270.06 59.87 269.56 60.47 269.06 62.88 268.56 66.48 266.55 67.18 266.05 65.65 265.55 66.39 265.05 70.31 264.55 73.01 263.05 71.95 262.55 74.47 261.04 73.51 260.54 80.67 258.04 80.65 257.54 84.84 255.03 83.23 254.53 90.54 252.52 91.6 252.02 89.91 251.52 90.98 251.02 94.52 250.52 98 249.02 101.83 247.01 101.16 246.51 102.43 246.01 108.88 245.51 112.4 244.51 116.82 243.01 115.07 242.5 126.06 240 124 239.5 129.15 238 134.49 237.49 144.16 234.99 142.57 234.49 145.06 233.99 153.06 233.49 157.89 232.48Z"/>
<path fill="#00FF00" d="M156.31 238 165.1 237.67 165.1 302.89 160.5 303.63 162.88 304.13 156.59 305.49 156.21 305.63 157.38 306.13 153.4 307.64 146.57 308.14 145.28 308.64 146.1 309.14 144.7 309.64 145.28 310.14 140.06 311.48 139.61 311.65 140.35 312.15 132.29 314.65 132.4 315.15 127.54 317.36 127.17 317.66 127.79 318.16 125.9 319.16 125.04 320.22 119.53 321.35 115.95 322.67 112.93 324.67 110.3 325.17 109.67 325.67 111.55 326.18 111.08 326.68 109.65 327.68 106.6 328.68 101.64 329.68 104.23 330.18 101.6 331.69 101.57 332.19 97.05 333.19 96.24 333.69 96.74 334.19 95.12 335.69 93.01 336.2 92.83 337.7 89.87 338.2 41.4 338.2 41.4 335.19 41.4 292.89 43.27 292.61 44.09 292.11 41.4 291.92 41.4 290.64 42.79 290.1 48.31 289.6 48.85 289.1 50.73 287.1 49.49 286.59 51 285.09 50.42 284.59 54.66 281.08 51.79 280.58 52.61 280.08 56.7 279.58 57.36 279.08 56.66 278.58 58.62 277.58 61.73 275.07 61.27 274.57 62.01 274.07 64.13 273.07 67.43 272.57 67.93 272.06 66.2 271.56 69.27 270.06 67.71 269.56 68.33 269.06 71.16 268.56 77.42 266.55 78.42 266.05 77 265.55 77.99 265.05 81.59 264.55 83.7 263.05 83.06 262.55 86.55 261.04 85.8 260.54 94.99 258.32 95.57 258.04 95.59 257.54 99.62 255.03 98.23 254.53 99.24 254.03 110.29 252.02 107.6 251.52 109.11 251.02 113.84 250.52 117.16 249.02 117.44 248.52 120.39 247.01 119.73 246.51 121.03 246.08 133.58 245.51 138.96 244.51 143.08 243.01 140.22 242.5 148.55 240 146.51 239.5 148.57 238.9Z"/>
<path fill="#80FF00" d="M157.95 246.01 165.1 245.86 165.1 296.45 163.84 296.62 165.1 296.93 165.1 297.23 145.07 298.61 145.77 299.12 142.29 300.12 138.06 302.5 133.77 303.13 132.08 303.63 133.06 304.13 127.72 305.13 127.11 305.63 127.37 306.13 125.59 307.64 122.54 308.14 120.36 309.64 120.2 310.14 115.07 311.65 115.65 312.15 112.63 314.65 113.07 315.15 112.58 315.65 107.2 317.66 108.81 318.16 107.7 318.66 102.94 319.66 103.76 320.16 100.56 321.17 97.43 324.67 90.93 325.67 94.88 326.18 90.93 327.18 87.65 329.18 87.28 329.68 88.51 330.18 88.02 331.69 88.3 332.19 87.98 332.69 86.5 333.19 86.14 333.69 86.63 334.19 85.77 335.69 84.08 336.2 83.83 337.7 81.97 338.2 41.4 338.2 41.4 337.2 41.4 294.95 44.91 294.61 45.63 294.11 44.63 293.61 45.41 293.14 49.11 292.11 43 291.6 43.89 291.1 47.76 290.6 48.46 290.1 52.61 289.6 54.55 287.1 53.66 286.59 55.34 285.09 54.94 284.59 59.74 281.08 57.48 280.58 58.28 280.08 63.44 279.26 63.78 279.08 62.83 278.58 66.34 277.08 69.16 275.07 68.8 274.57 69.54 274.07 72.16 273.07 76.44 272.57 77.51 272.06 75.61 271.56 81.14 270.06 79.52 269.56 83.73 268.56 89.28 266.55 90.53 266.05 89.71 265.55 91.09 265.05 95.54 264.55 100.57 263.05 100.29 262.55 104.27 261.04 103.85 260.54 104.92 260.04 111.9 258.54 117.47 256.53 123.8 255.03 121.9 254.53 128 253.53 133.85 252.02 131.59 251.52 133.14 251.02 138.73 250.52 156.22 247.01 155.13 246.51Z"/>
<path fill="#FFFF00" d="M161.11 250.52 165.1 250.25 165.1 291.92 163.57 292.11 153.58 295.72 150.58 296.22 144.07 296.49 135.37 298.12 133.94 298.62 132.9 299.62 122.55 303.63 122.26 304.13 119.58 305.13 117.45 306.64 112.73 308.14 110.78 310.14 108.02 311.65 108.01 312.22 102.44 314.65 102.45 315.15 98.77 317.16 98.22 317.66 98.72 318.16 96.39 319.66 96.48 320.16 95.9 320.66 93.75 321.17 90.48 322.94 88.58 324.67 85.92 325.67 86.98 326.18 81.85 329.68 83.01 330.18 82.42 331.69 82.61 332.19 81.24 333.19 80.99 333.69 81.31 334.19 80.74 335.69 79.61 336.2 79.26 337.7 76.83 338.2 41.4 338.2 41.4 333.69 41.4 298.64 42.17 298.12 41.4 298.04 41.4 296.8 43.24 296.62 44.59 295.11 48.77 294.61 49.86 294.11 49.09 293.61 52.66 292.61 53.27 292.11 48.76 291.6 49.58 291.1 52.45 290.6 52.89 290.1 55.71 289.6 58.03 287.1 57.41 286.59 59.85 285.09 59.63 284.59 65.44 282.52 67.41 281.08 64.85 280.58 65.95 280.08 69.49 279.58 70.29 279.08 69.95 278.56 77.81 275.07 77.88 274.57 79.13 274.07 87.47 272.06 86.62 271.56 91.74 270.06 91.05 269.56 92.3 269.06 102.22 266.55 103.73 266.05 103.53 265.55 105.04 265.05 110.37 264.05 113.23 263.05 113.36 262.55 117.81 261.04 117.92 260.54 130.47 258.04 140.83 255.03 140 254.53 141.75 254.03 150.2 252.52 152.18 252.02 151.5 251.52 153.84 251.02Z"/>
<path fill="#FF8000" d="M162.06 253.53 165.1 253.14 165.1 287.71 161.03 289.6 160.95 290.1 159.08 291.1 156.27 292.11 154.58 293.3 151.08 294.51 137.05 295.75 132.37 296.62 130.83 297.62 128.68 298.12 126.6 299.62 120.59 302.13 115.63 303.63 115.36 304.13 112.68 305.13 110.04 307.64 107.83 308.14 104.39 310.14 100.05 311.65 100.28 312.15 97.49 314.38 96.76 315.65 93.07 317.66 93.55 318.16 90.51 319.66 90.53 320.16 88.63 321.17 85.27 324.17 80.33 325.67 82.15 326.18 80.36 327.18 79.04 328.68 78.05 329.18 77.82 329.68 78.77 330.18 78.45 332.69 77.56 333.19 77.59 334.19 76.81 335.69 75.2 336.2 74.08 337.7 71.4 338.2 41.4 338.2 41.4 329.68 41.4 303.73 42.39 303.63 42.85 303.13 41.4 302.88 41.4 301.95 42.81 301.63 44.06 300.12 42.12 299.62 42.65 299.12 45.48 298.62 45.85 298.12 42.43 297.62 43.01 297.12 46.77 296.62 48.37 295.11 53.34 294.61 54.29 294.11 53.51 293.61 56.23 292.61 56.66 292.11 53.25 291.6 53.74 291.1 55.64 290.6 56.05 290.1 58.85 289.6 61.43 288.03 64.47 287.1 63.09 286.59 65.94 286.07 67.94 285.15 67.86 284.59 72.19 281.08 70.71 280.58 71.57 280.08 75.05 279.58 76.36 279.08 76.43 278.58 82.28 277.08 89.07 274.07 92.36 273.07 95.71 272.57 96.8 272.06 96.47 271.56 96.99 271.36 102.3 270.06 101.86 269.56 113.49 266.55 115.02 266.05 114.85 265.55 116.45 265.05 125.15 263.05 125.74 262.55 132.29 261.04 132.62 260.54 144.62 258.54 150.97 257.03 156.48 255.03 155.22 254.53 156.55 254.03Z"/>
<path fill="#FF0000" d="M145.37 263.55 147.57 263.33 158.09 264.42 165.1 264.68 165.1 283.86 162.12 286.09 155.73 288.6 154.43 289.6 154.74 290.1 153.73 291.6 150.58 293.19 134.05 293.86 129.16 294.61 129.11 295.11 124.68 296.62 125 297.12 122.27 298.12 121.61 298.62 121.63 299.12 120.66 299.62 109.66 303.13 109.07 303.63 109.61 304.13 109.14 304.63 107.22 305.63 107.38 306.13 104.47 307.64 98.1 308.14 96.93 308.64 97.38 309.14 96.62 309.64 96.89 310.14 95.03 311.65 95.49 312.31 92.5 314.65 92.66 315.15 92.01 315.65 88.08 317.16 87.6 317.66 88.4 318.16 87.04 319.16 86.6 320.66 84.48 321.17 81.97 322.83 79.34 323.67 78.27 324.67 73.73 325.17 73.49 325.67 77.27 326.18 74.88 328.68 73.27 329.18 73.08 329.68 74.85 330.18 74.57 331.69 74.89 332.19 74.57 332.69 73.23 333.19 72.9 333.69 73.25 334.19 72.06 335.69 69.55 336.2 68.89 337.7 65.19 338.2 41.4 337.81 41.4 329.87 56.12 329.68 56.08 329.18 41.4 328.89 41.4 325.91 59.43 325.74 65.02 325.67 65.14 325.17 41.4 324.9 41.4 309.82 45.35 309.64 45.71 309.14 48.41 308.96 65.06 308.64 64.21 308.14 41.4 307.76 41.4 306.07 44.87 305.63 45.11 305.13 42.89 304.63 43.32 304.13 47.08 303.63 47.29 303.13 44.99 302.63 45.35 302.13 46.81 301.63 47.6 300.12 46.03 299.62 46.36 299.12 49.18 298.62 49.76 298.12 46.19 297.62 46.66 297.12 51.25 296.62 53.34 295.11 61.37 294.61 61.7 294.11 58.34 293.61 58.83 293.11 62.37 292.61 62.51 292.11 56.65 291.6 57.02 291.1 59.74 290.1 69.74 289.6 71.95 288.69 74.11 287.1 71.95 286.59 73.74 285.09 73.04 284.59 75.34 282.59 77.96 281.08 76.4 280.58 77.46 280.18 87.04 279.58 89.25 279.08 88.84 278.58 93.48 277.26 95.49 276.02 96.86 274.57 99.99 273.11 108.69 272.57 111.29 272.06 109.72 271.56 115.52 270.46 116.45 270.06 114.97 269.56 118.01 268.56 122.03 266.38 124.29 266.05 124.52 265.55 140.28 264.55Z"/>
<rect x="268.9" y="191.4" width="123.0" height="146.8" fill="#0000FF"/>
<path fill="#0080FF" d="M268.9 191.4 391.9 191.4 391.9 262.8 388.9 263.3 370.9 263.3 370.4 263.8 351.9 263.8 351.4 264.3 332.4 264.3 331.9 264.8 313.4 264.8 312.9 265.3 293.9 265.3 293.4 265.8 274.9 265.8 274.4 266.3 268.9 266.3Z"/>
<path fill="#00FFFF" d="M268.9 191.4 391.9 191.4 391.9 249.27 387.9 249.27 379.4 249.27 378.9 249.77 363.9 249.77 363.4 250.27 348.4 250.27 347.9 250.77 332.9 250.77 332.4 251.27 317.4 251.27 316.9 251.77 302.4 251.77 301.9 252.27 286.9 252.27 286.4 252.78 271.4 252.78 270.9 253.28 268.9 253.28Z"/>
<path fill="#00FFA0" d="M268.9 191.4 391.9 191.4 391.9 241.25 391.4 241.75 388.9 241.75 372.4 241.75 371.9 242.25 352.4 242.25 351.9 242.75 332.4 242.75 331.9 243.26 312.4 243.26 311.9 243.76 292.9 243.76 292.4 244.26 272.9 244.26 272.4 244.76 268.9 244.76Z"/>
<path fill="#00FF60" d="M268.9 191.4 391.9 191.4 391.9 235.24 389.4 235.24 387.4 235.24 386.9 235.74 360.4 235.74 359.9 236.24 333.9 236.24 333.4 236.74 306.9 236.74 306.4 237.24 280.4 237.24 279.9 237.74 268.9 237.74Z"/>
<path fill="#00FF00" d="M268.9 191.4 391.9 191.4 391.9 231.23 389.4 231.23 381.9 231.23 381.4 231.73 353.9 231.73 353.4 232.23 325.9 232.23 325.4 232.73 297.9 232.73 297.4 233.24 269.9 233.24 268.9 233.74Z"/>
<path fill="#80FF00" d="M268.9 191.4 391.9 191.4 391.9 225.72 389.9 225.72 372.4 225.72 371.9 226.22 345.4 226.22 344.9 226.72 318.9 226.72 318.4 227.22 291.9 227.22 291.4 227.72 268.9 227.72Z"/>
<path fill="#FFFF00" d="M268.9 191.4 391.9 191.4 391.9 222.21 389.9 222.21 377.4 222.21 376.9 222.71 349.4 222.71 348.9 223.22 321.4 223.22 320.9 223.72 293.4 223.72 292.9 224.22 268.9 224.22Z"/>
<path fill="#FF8000" d="M268.9 191.4 391.9 191.4 391.9 218.2 389.4 218.2 388.4 218.71 360.9 218.71 360.4 219.21 332.9 219.21 332.4 219.71 304.9 219.71 304.4 220.21 276.9 220.21 276.4 220.71 268.9 220.71Z"/>
<path fill="#FF0000" d="M268.9 191.4 391.9 191.4 391.9 214.7 389.9 214.7 372.9 214.7 372.4 215.2 344.9 215.2 344.4 215.7 316.9 215.7 316.4 216.2 288.9 216.2 288.4 216.7 268.9 216.7Z"/>
<rect x="496.2" y="191.4" width="123.2" height="146.8" fill="#0000FF"/>
<path fill="#0080FF" d="M500.41 191.4 619.4 191.4 619.4 314.78 617.36 314.65 616.91 314.15 611.25 313.65 611.03 313.15 605.02 312.65 604.57 312.15 607.54 311.65 607.11 311.14 614.49 310.64 614.12 310.14 607.45 309.64 606.89 309.14 609.73 308.64 609.28 308.14 603.1 307.64 602.59 306.13 614.3 305.63 613.89 305.13 599.17 304.63 598.85 304.13 602.26 303.63 601.98 303.13 615.34 302.63 614.92 302.13 601.17 301.63 600.76 301.12 603.09 300.62 602.73 300.12 612.59 299.62 609.12 298.12 603.04 297.62 602.2 297.12 591.51 296.62 590.19 295.11 601.37 294.52 599.6 294.11 591.86 293.77 589.8 293.11 580.17 292.61 578.74 292.11 586.21 291.6 584.44 291.1 575.34 290.6 574.73 290.1 580.99 289.6 580.27 289.1 577.36 288.6 576.89 288.1 581 287.6 580.7 287.1 576.4 286.59 576.07 286.09 576.96 285.59 576.66 285.09 571.63 284.59 571.2 284.09 573.2 283.59 571.94 282.09 569.99 281.08 573.35 280.58 572.68 280.08 565.58 279.58 561.64 278.58 561.25 278.08 557.92 277.58 557.7 277.08 566.71 276.57 563.46 275.07 556.23 274.57 555.82 274.07 556.77 273.57 555.62 272.06 558.61 271.56 557.99 271.06 559.03 270.56 552.06 268.06 552.16 267.56 551.48 267.05 553.04 266.55 552.4 266.05 545.74 264.55 545.39 264.05 548.21 263.55 547.85 263.05 544.65 262.55 544.15 262.04 545.39 261.54 544.84 261.04 546.16 260.54 545.58 260.04 546.73 259.54 546.12 259.04 538.9 258.54 538.62 258.04 539.57 257.54 538.73 256.03 541.42 255.53 540.25 254.03 538.39 253.53 538 253.03 540.06 252.52 539.66 252.02 537.15 251.52 536.62 251.02 533.26 250.08 535.78 249.52 535.12 249.02 536.47 248.52 535.84 248.02 532.63 247.51 532.31 247.01 535.76 246.51 535.21 246.01 532.61 245.51 532.31 245.01 530.99 244.51 529.43 243.01 529.35 241.5 528.9 241 529.14 240.5 528.64 240 525.36 238 523.56 237.49 523.17 236.99 523.92 236.49 522.79 234.99 518.72 231.98 519.21 231.48 517.73 230.15 515.44 228.98 515.93 228.48 515.43 227.97 517.27 227.47 516.72 226.97 515.17 226.47 512.81 224.97 509.74 224.47 509.25 223.97 509.67 223.47 508.96 222.46 506.44 220.96 508.82 220.46 508.32 219.96 504.15 218.46 503.83 217.95 505.24 217.45 504.89 216.95 505.57 216.45 505.22 215.95 503.49 215.45 502.05 214.45 500.68 211.94 501.74 211.44 501.56 210.94 502.52 210.44 502.39 209.94 502.94 209.44 502.88 208.94 500.28 208.43 500.62 206.93 502.04 206.43 502.1 204.93 501.02 204.43 500.47 202.42 501 200.92 499.87 200.42 499.87 199.92 502.13 199.42 502.25 198.41 502.25 197.91 501.56 197.41 501.89 195.91 500.46 195.41 500.28 193.91 501.54 193.4 501.54 192.9ZM606.68 316.15 619.4 315.76 619.4 322 615.89 321.81 613.53 321.67 613.05 321.17 616.23 320.66 615.39 319.16 616.08 318.66 615.56 318.16 607.3 317.66ZM616.98 323.17 619.4 322.98 619.4 323.67 617.11 323.67ZM617.2 325.17 619.4 325.08 619.4 325.67 617.33 325.67ZM612.8 327.18 619.4 326.84 619.4 328.79 618.4 328.77 615.39 328.68 615.63 328.18 611.83 327.68ZM572.34 332.19 619.4 332.01 619.4 333.69 592.08 333.69 591.56 333.19 572.55 332.69Z"/>
<path fill="#00FFFF" d="M509.96 191.4 619.4 191.4 619.4 284.94 594.98 284.59 594.1 284.09 606.72 283.59 603.26 282.09 599.81 281.58 598.84 281.08 610.15 280.58 608.74 280.08 595.93 279.58 595.39 279.08 592.15 278.58 591.75 278.08 583.89 277.58 583.73 277.08 602.01 276.57 599.37 275.72 597.79 275.07 580.69 274.57 579.81 274.07 583.71 273.57 582.53 273.07 583.12 272.57 581.92 272.06 588.88 271.56 587.99 271.06 589.96 270.56 589.03 270.06 585.49 269.56 581.69 268.06 581.95 267.56 581.11 267.05 583.19 266.55 582.37 266.05 576.5 265.55 575.87 265.05 568.94 264.55 568.29 264.05 574.64 263.55 573.97 263.05 567.36 262.55 566.68 262.04 569.54 261.54 568.79 261.04 571.46 260.54 570.69 260.04 572.71 259.54 571.91 259.04 560.71 258.54 560.22 258.04 561.95 257.54 560.42 256.03 565.38 255.53 563.36 254.03 560.18 253.53 559.62 253.03 563.11 252.52 562.51 252.02 558.7 251.52 558.09 251.02 554.62 250.52 554.08 250.02 557.53 249.52 556.85 249.02 558.62 248.52 557.89 248.02 553.78 247.51 553.2 247.01 557.59 246.51 556.82 246.01 553.38 245.51 548.51 243.51 547.44 242 547.7 241.5 547.09 241 547.38 240.5 546.74 240 543.01 238 540.6 237.49 540 236.99 541.01 236.49 539.9 235.49 533.82 232.48 533.04 231.98 533.79 231.48 531.61 229.98 529.21 228.98 529.75 228.48 529.13 227.97 531.53 227.47 530.86 226.97 528.89 226.47 526.27 224.97 522.35 224.47 521.71 223.97 522.33 223.47 521.49 222.46 518.61 220.96 521.61 220.46 520.98 219.96 518.5 219.46 516.16 218.46 515.77 217.95 517 217.45 516.61 216.95 517.23 216.45 516.85 215.95 515.12 215.45 513.57 214.45 511.72 211.94 512.96 211.44 512.71 210.94 513.71 210.44 513.5 209.94 514.04 209.44 513.89 208.94 510.67 208.43 510.99 206.93 512.63 206.43 512.6 205.43 512.55 204.93 511.28 204.43 510.73 203.42 510.39 201.92 511.06 201.42 511.03 200.92 509.43 200.42 509.41 199.92 512.19 199.42 512.26 198.41 512.22 197.91 511.49 197.41 511.75 195.91 510.07 195.41 509.79 193.91 511.33 193.4 511.33 192.9ZM611.79 290.1 619.4 290 619.4 290.6 613.61 290.6Z"/>
<path fill="#00FFA0" d="M519.76 191.4 619.4 191.4 619.4 266.52 618.05 266.05 602.26 264.55 601.63 264.05 606.11 263.55 605.25 263.05 600.84 262.55 600.38 262.04 601.96 261.54 601.47 261.04 602.67 260.54 602.18 260.04 602.94 259.54 602.45 259.04 595.36 258.65 592.25 258.54 591.41 258.04 593.58 257.54 590.76 256.03 596.81 255.53 592.97 254.03 588.82 253.53 587.84 253.03 591.39 252.52 590.31 252.02 581.14 250.52 580.32 250.02 583.63 249.52 582.73 249.02 584.15 248.52 583.22 248.02 578.89 247.51 577.96 247.01 582.15 246.51 581.17 246.01 577.31 245.51 570.71 243.51 568.74 242 568.76 241.5 567.87 241 567.94 240.5 567.05 240 562.55 238 559.79 237.49 559.03 236.99 560.05 236.49 558.71 235.49 552.03 232.48 551.21 231.98 551.97 231.48 549.62 229.98 546.98 228.98 547.47 228.48 546.67 227.97 548.99 227.47 542.46 224.97 538.04 224.47 537.37 223.97 538.06 223.47 537.22 222.46 534.53 220.96 537.25 220.46 533.72 218.96 531.38 218.46 530.7 217.95 532.04 217.45 531.28 216.95 531.73 216.45 526.52 214.45 524.04 211.94 525.05 211.44 524.72 210.94 525.47 210.44 525.32 208.94 522.25 208.43 522.07 207.93 522.45 207.43 522.3 206.93 523.8 206.43 523.49 204.93 522.19 204.43 521.51 203.42 520.99 201.92 521.61 201.42 521.53 200.92 519.83 200.42 519.75 199.92 522.49 199.42 522.35 197.91 521.58 197.41 521.69 195.91 519.97 195.41 519.61 193.91 521.14 193.4 521.13 192.9ZM617.94 267.05 619.4 266.59 619.4 268.06 619.23 267.56ZM618.28 274.07 619.4 273.93 619.4 274.57Z"/>
<path fill="#00FF60" d="M529.56 191.4 619.4 191.4 619.4 258.65 615.59 258.54 613.9 258.04 615.69 257.54 610.96 256.03 616.99 255.53 608.59 253.53 607.99 253.03 610.25 252.52 609.53 252.02 607.08 251.52 604.25 250.02 605.93 249.52 605.43 249.02 606.16 248.52 605.6 248.02 601.24 247.01 604.75 246.51 604.38 246.26 599.66 245.51 592.44 243.51 587.39 240 582.11 238 579.11 237.49 578.13 236.99 578.91 236.49 576.2 234.99 569.99 232.48 569.15 231.98 569.72 231.48 567.36 229.98 564.82 228.98 565.15 228.48 564.27 227.97 566.27 227.47 558.7 224.97 554.1 224.47 553.2 223.97 553.63 223.47 552.35 222.46 549.07 220.96 551.57 220.46 545.34 218.46 544.59 217.95 545.66 217.45 544.85 216.95 545.15 216.45 539.21 214.45 535.12 211.94 536.03 211.44 535.42 210.94 536.11 210.44 535.63 209.94 535.93 209.44 535.6 208.94 532.33 208.43 532.33 206.93 533.81 206.43 533.52 204.93 532.24 204.43 531.57 203.42 531.04 201.92 531.64 201.42 531.55 200.92 529.89 200.42 529.79 199.92 532.49 199.42 532.29 197.91 531.48 197.41 531.55 195.91 529.81 195.41 529.42 193.91 530.94 193.4 530.93 192.9Z"/>
<path fill="#00FF00" d="M539.36 191.4 619.4 191.4 619.4 245.54 612.45 243.51 610.93 242 611 241.5 610.12 241 610.18 240.5 607.88 239.61 598.81 237.49 597.85 236.99 598.74 236.49 596.11 234.99 587.6 231.98 588.31 231.48 586 230.48 580.77 228.98 581.14 228.48 580.02 227.97 582.71 227.47 575.23 224.97 570.65 224.47 569.68 223.97 570.1 223.47 568.56 222.46 564.23 220.96 567.17 220.46 559.06 218.46 558.26 217.95 559.31 217.45 558.54 216.95 558.9 216.45 558.15 215.95 553.22 214.45 548.62 211.94 549.65 211.44 548.76 210.94 549.44 210.44 548.6 209.94 548.68 209.44 547.94 208.94 543.79 208.43 543.44 207.93 543.34 206.93 544.51 206.43 543.83 204.93 542.78 204.43 542.16 203.42 541.58 201.92 542.07 201.42 541.96 200.92 540.28 200.42 540.13 199.92 542.61 199.42 542.52 198.41 542.41 197.91 541.65 197.41 541.6 195.91 539.72 195.41 539.24 193.91 540.82 193.4 540.8 192.9Z"/>
<path fill="#80FF00" d="M550.17 191.4 619.4 191.4 619.4 234.98 610.1 232.48 608.98 231.98 609.46 231.48 607.88 230.64 604.14 228.98 604.43 228.48 603.36 227.97 605.34 227.47 604.43 226.97 595.28 224.97 589 224.47 587.73 223.97 588.25 223.47 586.42 222.46 581.81 220.96 585.01 220.46 575.1 217.95 576.29 217.45 575.07 216.95 575.3 216.45 567.6 214.45 562.72 211.94 563.57 211.44 562.73 210.94 563.2 210.44 561.46 208.94 557.17 208.43 556.17 207.93 554.72 206.93 555.51 206.43 549.76 203.42 548.74 201.92 549.06 200.92 547.94 200.42 547.96 199.92 550.11 199.42 550.63 197.91 550.22 197.41 551.1 195.91 549.71 195.41 549.75 194.41 549.87 193.91 551.45 193.4 551.48 192.9Z"/>
<path fill="#FFFF00" d="M558.22 191.4 619.4 191.4 619.4 229.29 618.19 227.97 619.39 227.47 618.71 226.97 613.39 225.1 608.75 224.47 607.73 223.97 607.99 223.47 606.26 222.46 601.09 220.96 604.18 220.46 594 218.46 592.69 217.95 593.74 217.45 592.38 216.95 592.47 216.45 583.69 214.45 577.83 212.28 576.99 211.94 577.63 211.44 576.39 210.94 576.64 210.44 575.04 209.44 573.84 208.94 569.15 208.43 566.35 206.93 566.83 206.43 558.76 203.42 556.7 201.92 556.9 200.92 555.63 200.42 555.68 199.92 558.19 199.42 558.77 197.91 558.29 197.41 559.25 195.91 557.84 195.41 557.99 193.91 559.74 193.4 559.79 192.9 558.9 192.4 558.9 191.9Z"/>
<path fill="#FF8000" d="M573.31 191.4 619.4 191.4 619.4 220.01 612.01 217.95 613.33 217.45 611.83 216.95 612.01 216.45 611.39 216.26 601.08 214.45 594.67 212.44 593.18 211.94 593.91 211.44 592.4 210.94 592.7 210.44 590.65 209.44 588.99 208.94 582.55 208.43 578.56 206.93 578.88 206.43 571.49 204.43 567.07 202.42 566.54 201.92 566.68 200.92 565.16 200.42 565.28 199.92 568.28 199.42 569.8 197.91 569.65 197.41 572.36 195.91 570.9 195.41 572.46 193.91 575.55 193.4 575.81 192.9ZM617.94 220.96 619.4 220.61 619.4 221.46 619.4 221.73 618.9 221.56Z"/>
<path fill="#FF0000" d="M594.47 191.4 619.4 191.4 619.4 213.21 615.09 211.94 616.66 211.44 614.91 210.94 616.13 210.44 614.22 209.94 614.3 209.44 612.32 208.94 601.72 208.43 599.87 207.61 597.75 206.93 599.45 206.43 597.87 206.08 591.17 204.93 583.84 204.44 580.04 203.42 577.31 202.42 576.5 201.92 576.81 201.42 576.58 200.92 575.01 200.42 575.23 199.92 579.18 199.42 583.84 197.19 592.31 195.91 589.72 195.41 591.52 194.91 593.21 193.91 598.12 193.4 598.49 192.9 596.18 192.4 596.18 191.9Z"/>
<rect x="83.3" y="409.1" width="185.4" height="146.3" fill="#0000FF"/>
<path fill="#0080FF" d="M267.59 420.62 268.7 420.43 268.7 500.78 266.24 501.29 268.7 501.42 268.7 502.46 255.93 502.79 254.22 503.29 268.7 503.71 268.7 504.41 261.59 504.8 260 505.3 246.72 505.8 245.82 506.3 246.31 506.8 245.34 507.3 247.25 507.8 246.29 508.3 238.7 508.8 237.53 509.31 250.13 509.81 249.26 510.31 238.72 510.81 234.31 512.31 228.72 513.31 233.07 513.81 231.15 514.32 236.77 514.82 234.99 515.32 236.08 515.82 234.03 516.32 237.03 516.82 235.19 517.32 240.41 517.82 239.48 518.32 214.46 518.83 214.35 519.33 208.25 519.83 208.25 520.33 212.89 520.83 212.89 521.33 206.01 521.83 205.99 522.33 211.01 522.83 197.51 523.84 195.92 524.34 195.61 525.34 194.54 525.95 184.36 526.84 184.14 527.34 179.74 527.84 179.95 528.34 190.86 528.85 191.53 529.35 232.45 529.85 232.65 530.35 187.72 530.85 188.61 531.35 206.28 531.85 206.83 532.35 219.78 532.85 219.92 533.35 217.34 533.86 217.47 534.36 211.37 534.86 211.49 535.36 210.22 535.86 210.35 536.36 249.39 536.86 249.6 537.36 229.35 537.86 229.71 538.37 235.35 538.87 235.52 539.37 227.55 539.87 227.57 540.37 203.18 540.87 203.18 541.37 214.52 541.87 214.52 542.37 237.08 542.87 237.9 543.38 220.05 543.88 222.03 544.38 212.43 544.88 212.44 545.38 209.45 545.88 209.54 546.38 220.54 546.88 220.2 548.39 238.89 548.89 238.89 549.39 209.37 549.89 209.37 550.39 214.08 550.89 214.13 551.39 212.28 551.89 211.93 552.39 228.34 552.89 228.3 553.4 226.66 553.9 222.54 554.4 225.06 554.9 216.56 555.4 83.3 555.4 83.3 541.44 87.61 540.87 83.3 540.71 83.3 531.78 90.3 531.35 89.54 530.85 83.3 530.7 83.3 528.6 88.31 528.34 83.3 527.62 83.3 520.5 85.8 520.33 86.92 519.83 83.3 519.55 83.3 517.82 83.3 514.75 90.19 514.32 90.54 513.81 98.67 513.31 99.12 512.81 96.03 512.31 96.37 511.81 94.97 511.31 95.27 510.81 84.18 510.31 84.22 509.81 107.08 509.31 107.41 508.8 95.2 508.3 95.43 507.8 101.83 507.3 102.09 506.8 105.67 506.3 105.79 505.8 83.3 505.38 83.3 503.53 93.76 503.29 92.75 502.79 83.3 502.57 83.3 501.4 87.28 501.29 85.96 500.79 83.3 500.71 83.3 498.35 88.42 498.28 87.3 497.28 87.3 496.78 94.75 496.28 95.19 494.78 83.3 494.56 83.3 493.48 93.98 493.27 94.24 492.77 88.4 492.27 88.8 491.77 83.3 491.43 83.3 488.31 85.55 488.26 86.38 487.76 104.04 487.26 113.07 485.76 103.24 485.26 106.28 484.76 95.02 484.25 97.84 483.75 83.3 483.43 83.3 482.04 89.48 481.75 89.82 481.25 104.73 480.75 105.51 480.25 83.3 480.03 83.3 477.2 127.51 476.74 130.04 476.24 83.3 475.85 83.3 475.12 131.46 474.73 131.92 474.23 136.84 473.73 140.17 472.23 129.9 471.85 96.49 471.73 100.54 471.23 136.92 470.89 141.68 470.73 142.57 470.23 83.3 469.75 83.3 469.2 130.4 468.89 137.4 468.72 138.78 468.22 147.13 467.72 148.18 466.22 145.41 465.72 145.81 465.22 137.01 464.71 137.79 464.21 135.05 463.71 138.48 462.21 143.37 461.71 143.72 461.21 150.6 460.71 151.21 460.2 150.95 460.16 144.85 459.7 146.45 459.2 154.13 458.7 158.03 457.2 152.9 456.7 155.45 456.2 154.37 455.7 160.26 454.69 161.64 453.19 164.14 452.69 165.02 451.69 166.1 451.19 165.72 450.69 174.23 448.68 177.82 446.68 178.45 446.18 177.49 445.68 178 445.09 180.09 444.17 177.25 443.67 178 443.17 191.69 441.67 192.76 441.17 192.76 440.66 194.17 439.16 199.46 438.16 196.04 437.77 195.77 437.66 196.04 437.49 206.57 436.45 209.17 435.15 211.65 434.65 212.13 434.15 210.08 433.65 210.52 433.15 215.37 432.65 217.22 432.15 216.74 431.65 218.09 431.43 227.98 430.64 232.56 429.64 233.44 429.14 231.26 428.64 232.24 428.14 231.86 427.64 233.28 426.13 235.8 425.13 234.46 424.63 234.72 424.13 245.09 423.63 247.88 423.13 247.03 422.63 249.16 422.32 260.51 421.63Z"/>
<path fill="#00FFFF" d="M262.32 437.16 268.7 436.67 268.7 495.6 262.85 496.28 253.43 498.28 263.38 498.78 261.32 499.28 246.27 500.79 244.82 501.29 248.12 501.79 246.79 502.29 240.72 502.79 239.53 503.29 244.25 503.79 239.65 505.3 231.14 505.8 229.96 506.3 229.77 506.8 226.68 507.3 228.25 507.8 225.51 508.3 214.55 508.8 212.24 509.31 224.86 509.81 222.9 510.31 214.68 510.81 198.89 513.31 202.62 513.81 199.94 514.32 202.99 514.82 200.4 515.32 197.99 516.32 198.17 516.82 196.96 517.32 197.6 517.82 196.98 518.32 186.26 519.83 186.26 520.33 190.34 520.83 190.34 521.33 184.21 521.83 184.2 522.33 188.53 522.83 180.59 523.84 179.04 524.34 178.24 525.34 175.14 525.84 159.2 526.84 158.51 527.34 151.64 527.84 151.43 528.34 166.3 528.85 166.27 529.35 179.97 529.85 180.35 530.35 157.97 530.85 157.93 531.35 169.01 531.85 169.01 532.35 177.89 532.85 178.21 533.35 176.37 533.86 176.55 534.36 171.27 534.86 171.29 535.36 169.99 535.86 169.99 536.36 190.51 536.86 190.66 537.36 182.07 537.86 182.13 538.37 184.62 538.87 184.66 539.37 180.94 539.87 180.94 540.37 160.56 540.87 160.56 541.37 174.19 541.87 174.19 542.37 185.76 542.87 189.06 543.38 186.46 543.88 191.9 544.38 186.32 544.88 186.42 545.38 179.11 545.88 181.11 546.38 197.05 547.11 200.7 547.88 201.09 548.39 204.46 548.89 204.46 549.39 194.45 549.89 193.41 550.39 199.72 550.89 198.11 551.39 180.32 552.39 182.94 552.89 168.98 553.59 120.38 553.83 83.3 553.49 83.3 542.48 105.77 541.37 106.09 540.87 93.07 540.37 93.3 539.87 90.32 539.37 90.31 538.87 92.25 538.37 92.2 537.86 84.66 537.36 84.65 536.86 100.66 536.36 100.51 535.86 99.28 535.36 99.12 534.86 95.23 534.36 95.03 533.86 93.14 533.35 92.8 532.85 99.26 532.35 98.73 531.85 115.42 531.35 113.74 530.85 98.83 530.68 85.05 530.35 83.88 529.85 96.33 529.35 94.91 528.85 110.91 528.34 90.53 526.84 83.3 526.74 83.3 522.64 94.68 522.33 98.18 521.83 92.99 521.33 95.07 520.83 106.46 520.33 109.96 519.83 99.33 519.5 97.19 519.33 98.15 518.83 91.18 518.32 91.91 517.82 95.26 517.32 96.01 516.82 99.44 516.32 100.39 515.82 105.18 515.32 106.13 514.82 117.49 514.32 117.92 513.81 127.77 513.31 127.89 512.81 124.07 512.31 124.21 511.81 122.56 511.31 122.71 510.81 112.1 510.31 112.43 509.81 136.74 509.31 136.69 508.8 122.02 508.3 122.11 507.8 126.88 507.3 126.91 506.8 129.52 506.3 129.52 505.8 109.84 505.3 109.81 504.8 104.9 504.3 104.33 503.79 121.43 503.29 121.14 502.79 104.95 502.29 103.72 501.79 118.39 501.29 117.8 500.79 102.62 500.29 101.6 499.79 85.19 499.28 84.82 498.78 122.28 498.28 120.97 496.78 128.11 496.28 127.54 494.78 100.43 494.27 101.12 493.77 125.25 493.27 125.1 492.77 119.71 492.27 119.83 491.77 112.94 491.27 113.41 490.77 95.58 490.27 96.84 489.77 102.41 489.26 103.98 488.76 118.79 488.26 120.24 487.76 130.75 487.26 138.42 486.24 139.79 485.76 132.89 485.26 135.13 484.76 132.08 484.25 134.18 483.75 131.18 483.25 141.11 480.75 141.95 480.25 139.08 479.74 141.85 478.24 145.79 477.24 151.91 476.74 153.21 476.24 148.35 475.74 149.64 475.24 156.78 474.73 157.78 474.23 161.1 473.73 163.39 472.73 164.24 472.23 158.45 471.73 159.29 471.23 166.22 470.73 167.17 470.23 160.11 469.72 161.06 469.22 167.02 468.72 168.06 468.22 172.9 467.72 174.56 466.22 173.75 465.72 174.37 465.22 172.91 464.71 174 463.62 176.28 462.21 179.09 461.21 183.7 460.2 182.58 459.7 187.65 458.7 190.99 457.2 188.18 456.7 189.33 456.2 188.74 455.7 189.91 455.19 194.02 454.69 196.84 453.19 201.42 452.69 205.54 451.19 205.74 450.69 210.35 449.18 227.45 446.18 226.97 445.68 233.11 444.17 229.59 443.67 236.89 442.17 244.88 441.17 245.29 440.66 252.21 439.16 262.34 438.66 265.3 438.16 260.18 437.66Z"/>
<path fill="#00FFA0" d="M266.89 444.67 268.7 444.34 268.7 494.3 254.54 494.78 242.11 496.28 241.91 496.78 240.14 497.14 222.5 498.28 244.4 498.78 242.93 499.28 234.58 499.79 232.66 500.29 214.58 500.9 212.84 501.29 230.26 501.79 228.31 502.29 204.52 502.79 202.35 503.29 224.61 503.79 210.5 505.3 190.03 505.64 151.69 505.3 151.13 504.8 136.05 504.3 135.63 503.79 179.69 503.29 178.11 502.79 140.59 502.29 139.71 501.79 169.49 501.29 167.52 500.79 148.44 500.48 141.06 500.29 140.59 499.79 124.32 499.28 124.61 498.78 173.15 498.28 171.06 497.28 171.09 496.78 182.41 496.28 181.92 494.78 140.32 494.27 141.04 493.77 180.01 493.28 180.32 493.27 180.33 492.77 173.37 492.27 173.68 491.77 163.32 491.27 163.87 490.77 130.4 490.23 131.88 489.77 143.18 489.26 145.78 488.76 163.79 488.26 162.98 487.76 169.91 487.26 168.16 486.76 168.04 486.26 166.75 485.76 162.53 485.26 162.13 484.76 159.94 484.25 159.82 483.75 157.24 483.25 157.28 482.75 158.76 481.25 160.7 480.25 159.07 479.74 162.2 478.24 171.79 476.24 169.72 475.74 171.22 475.24 176.01 474.73 179.21 473.73 181.71 472.23 179.24 471.73 179.51 471.54 183.55 470.73 184.3 470.23 181.39 469.72 182.17 469.22 188.89 467.72 193.26 465.22 192.95 464.71 195.84 463.71 214.63 458.7 217.84 457.2 216.85 456.7 219.58 455.19 222.75 454.69 227.56 453.19 232.49 452.69 240.07 451.19 246.94 449.18 262.29 446.18 262.56 445.68ZM167.41 509.81 188.53 509.9 186.98 510.31 180.01 510.52 167.79 510.31ZM145.01 515.82 149.94 515.39 160.97 515.63 164.53 515.82 163.78 516.32 171 516.82 169.66 517.32 174.38 517.82 173.55 518.32 156.46 518.81 155.77 518.83 155.82 519.33 149.94 519.47 144.42 519.33 145.16 518.83 126.57 518.32 127.36 517.82 143.71 516.32ZM148.22 520.83 151.28 520.83 151.28 521.33 147.94 521.33ZM94.98 522.83 150.95 522.95 156.88 523.84 157.77 524.34 157.83 524.84 157.07 525.34 145.39 526.34 129.9 526.85 83.3 526.5 83.3 522.94ZM104.15 529.85 139.92 529.42 154.67 529.85 154.6 530.35 129.9 530.61 107.22 530.35ZM138.98 531.85 140.03 531.85 139.92 532.18ZM123.99 532.85 140.42 532.37 149.21 532.85 149.11 533.35 147.44 533.73 146.89 533.86 146.69 534.36 141.28 534.86 139.92 535.45 138.17 534.86 129.3 534.36 128.35 533.86 124.71 533.35ZM105.83 536.86 139.92 536.45 158.16 536.86 157.75 537.36 140.57 538.37 145.43 538.87 143.93 539.04 133.41 539.37 109.86 539.44 109.48 539.37 109.86 538.9 110.36 538.83 139.28 538.37 133.49 537.86 109.86 537.62 105.45 537.36ZM99.29 542.87 142.93 542.87 151.25 543.38 139.92 543.75 146.09 544.38 139.92 544.68 138.38 545.38 136.41 545.57 124.39 546.22 110.64 546.38 170.49 546.87 185.52 547.63 187.68 547.88 188.32 548.39 191.03 549 190.44 549.39 175.5 550.05 174.35 550.39 175.98 550.89 173.89 551.39 161.97 552.82 120.88 553.21 83.3 553.04 83.3 546.39 86.13 546.38 83.3 546.35 83.3 543.06Z"/>
<path fill="#00FF60" d="M266.31 451.69 268.7 451.21 268.7 491.56 249.66 492.68 219.09 492.41 208.13 491.27 206.45 490.77 197.12 490.27 196.41 489.77 196.7 489.26 194.82 488.76 197.88 488.26 194.86 487.76 195.96 487.26 184.7 485.76 180.98 485.26 174.32 483.25 173.78 482.25 174.4 481.25 175.89 480.25 175.34 479.74 178.34 478.24 185.43 476.24 184.83 475.74 186.02 475.26 189.11 474.73 191.43 473.73 193.48 472.23 192.37 471.73 196.48 470.23 195.38 469.72 196.53 469.22 206.11 467.72 211.79 466.22 212.31 465.72 214.13 465.22 214.25 464.71 226.95 460.71 229.36 459.2 238.32 457.2 237.73 456.7 241.21 455.7ZM214.98 493.77 239.64 493.5 247.65 493.8 239.64 494.29 220.1 494.2ZM83.3 523.33 99.84 523.07 126.39 523.58 137.19 524.34 137.58 524.84 136.92 525.17 124.89 526.05 83.3 526.28ZM92.74 543.38 113.87 543.54 127.4 544.13 130.35 544.38 120.88 545.39 95.33 545.86 83.3 545.65 83.3 543.55ZM83.3 546.88 136.92 546.75 162.97 547.07 174.82 547.88 175.59 548.39 178.04 548.89 175 549.43 170.28 549.89 169.09 550.39 169.87 550.89 168.03 551.39 158.96 552.21 120.88 552.81 83.3 552.68Z"/>
<path fill="#00FF00" d="M267.72 456.2 268.7 455.91 268.7 486.03 250.16 486.69 240.51 485.76 220.75 485.26 203.78 483.75 186.52 483.07 185.59 482.75 185.35 482.25 186.02 481.12 192.8 480.25 190.84 479.74 195.4 478.24 199.88 476.74 200.1 476.24 198.47 475.74 199.55 474.97 201.48 474.73 202.42 474.23 209.56 473.73 217.82 472.23 210.63 471.73 214.13 471.23 224.67 470.73 226.92 470.23 221.19 469.72 235.3 467.72 241.19 466.22 239.6 465.72 241.65 465.22 239.48 464.71 250.81 461.21 253.49 460.71 254.34 460.2 253.5 459.7 254.4 459.2 258.82 458.7 265.99 457.2 264.59 456.7ZM246.42 487.76 254.2 487.76 250.16 488.07ZM239.33 488.76 250.16 488.34 258.18 488.87 249.66 490.27 243.89 489.77 243.82 489.26ZM83.3 523.33 115.76 523.84 121.09 524.34 121.58 524.84 120.88 525.1 105.35 525.95 83.3 526.13ZM85.75 543.88 105.85 543.83 119.41 544.38 116.37 544.78 102.84 545.44 88.81 545.44 83.3 545.18 83.3 543.98ZM83.3 547.38 83.3 546.97 158.96 547.27 169.1 547.88 171.01 548.89 170.21 549.39 167.48 549.65 164.99 549.89 163.76 550.39 164.51 550.89 162.2 551.39 153.68 551.89 120.38 552.44 83.3 552.36Z"/>
<path fill="#80FF00" d="M83.3 523.84 83.3 523.48 105.3 523.84 108.83 524.34 109.15 524.84 108.35 525.22 98.83 525.83 83.3 525.97ZM83.9 544.38 95.33 543.9 108.35 544.45 94.82 545.3 86.68 544.88ZM83.3 547.38 136.41 547.22 156.46 547.52 163.47 547.91 165.79 548.89 165.02 549.39 161.97 549.68 157.96 550.39 159.1 550.89 158.46 550.98 142.43 551.84 83.3 552.13Z"/>
<path fill="#FFFF00" d="M83.3 523.84 97.82 523.84 102.69 524.34 103.12 524.84 102.84 524.94 98.33 525.51 83.3 525.81ZM90.52 544.38 100.34 544.41 94.82 544.94ZM83.3 547.38 150.95 547.69 156.85 547.88 159.27 548.39 160.55 548.89 159.81 549.39 156.96 549.57 150.78 549.89 148.3 550.39 149.68 550.89 140.42 551.52 83.3 551.89Z"/>
<path fill="#FF8000" d="M83.3 523.84 95.33 524.23 96.53 524.34 97.09 524.84 96.83 524.91 95.11 525.34 83.3 525.59ZM83.3 547.88 83.3 547.6 146.16 547.88 152.78 548.89 151.49 549.39 147.44 549.57 139.5 549.89 136.39 550.39 139.8 550.89 129.56 551.39 83.3 551.61Z"/>
<path fill="#FF0000" d="M83.3 524.34 87.8 524.34 88.81 524.85 83.3 525.37ZM83.3 547.88 136.41 548.29 141.43 549.01 140.47 549.39 136.41 549.52 83.3 549.84ZM83.3 550.89 83.3 550.5 122.1 550.89 83.3 551.22Z"/>
<rect x="389.3" y="409.1" width="185.2" height="146.3" fill="#0000FF"/>
<path fill="#0080FF" d="M474.88 409.6 475.16 409.1 574.5 409.1 574.5 513.08 562.66 514.32 542.03 515.32 541.61 515.82 535.78 516.32 545.39 516.82 528.36 518.32 531.5 518.83 528.92 519.33 476.06 519.83 474.7 520.33 476.14 520.83 475.19 521.33 491.63 521.83 490.14 522.33 493 522.83 491.54 523.33 500.41 523.84 498.62 524.34 452.37 525.1 442.36 524.7 389.3 524.72 389.3 521.69 442.36 521.69 450.36 521.33 450.11 520.83 450.5 520.33 450.22 519.83 446.86 519.78 389.3 519.74 389.3 516.46 443.36 516.42 449.21 516.32 448.88 515.82 452.37 515.46 495.86 515.32 489.86 514.82 410.9 514.32 410.63 513.81 441.86 513.61 444.77 513.31 444.43 512.81 442.36 512.75 389.3 512.61 389.3 511.57 446.34 511.31 446.04 510.81 449.98 510.31 449.76 509.81 444.86 509.55 389.3 509.31 389.3 506.5 427.84 506.43 446.53 506.3 446.48 505.8 443.86 505.72 389.3 505.56 389.3 495.3 399.53 495.28 400.34 494.78 389.3 494.76 389.3 492.46 441.86 492.28 442.24 492.27 441.96 491.77 389.3 491.28 389.3 490.84 389.7 490.77 389.3 490.77 389.3 487.64 439.85 487.45 444.7 487.26 445.99 486.76 442.14 486.26 443.04 485.76 439.85 485.57 389.3 485.41 389.3 482.75 441.36 482.49 449.45 481.75 449.44 481.25 448.4 480.75 448.47 480.25 442.58 479.74 445.35 478.24 449.36 477.89 450.07 477.74 450.25 477.24 446.36 476.81 438.62 476.74 441.86 475.88 444.86 475.85 445.63 475.24 403.6 474.73 404.73 474.23 445.36 473.81 446.33 473.73 446.46 473.23 450.98 472.73 451.02 472.23 450.24 471.73 450.27 471.23 451.34 470.73 451.01 468.22 446.34 467.72 446.34 467.22 448.94 466.72 448.94 466.22 449.99 465.72 450.74 464.21 449.97 463.71 449.97 463.21 445.36 462.79 428.86 462.71 428.86 462.21 445.36 461.95 447.03 461.71 447.03 461.21 450.48 460.71 450.42 458.2 451.08 457.7 450.87 457.14 445.86 456.73 433.56 456.7 433.56 456.2 446.36 456.15 451.21 455.7 451.21 455.19 450.06 454.69 450.06 454.19 447.7 453.69 447.96 452.19 450.08 451.69 450.46 450.69 450.46 450.18 448.37 449.68 448.37 449.18 449.82 448.68 449.82 448.18 448.46 447.68 448.46 447.18 450.08 446.68 449.58 445.68 449.48 444.17 445.36 443.85 418.31 443.67 418.31 443.17 426.06 442.67 426.06 442.17 436.43 441.67 436.43 441.17 413.93 440.66 413.94 440.16 449.87 439.91 451.54 439.66 451.75 437.16 449.67 436.66 449.94 436.16 448.54 435.65 449.15 435.15 448.36 435.1 406.25 434.65 406.68 434.15 389.3 433.83 389.3 433.05 426.65 432.65 427.19 432.15 389.3 431.72 389.3 431.05 415.83 430.64 416.31 430.14 433.28 429.64 433.88 429.14 441.86 429.06 444.54 429.14 444.75 429.64 447.86 430.14 448.19 430.64 452.37 430.84 454.62 429.14 456.29 428.64 457.8 427.64 460.07 425.13 459.26 424.63 460.86 423.13 460.25 422.63 460.78 422.13 463.17 421.63 463.6 421.12 463.82 419.62 464.24 419.12 462.56 418.62 463.01 418.12 465.93 417.62 469.39 416.4 471.38 413.11 473.62 412.61 474.31 412.11 471.33 411.61 471.67 411.1 474.88 409.6 447.49 432.15 448.27 432.65 449.85 432.65 451.4 432.15 447.86 432.13ZM389.3 418.12 441.86 417.92 447.37 418.12 447.46 418.62 389.3 418.66ZM389.3 526.84 448.76 526.84 389.3 527.1ZM389.3 530.85 389.3 530.58 443.36 530.61 449.39 530.85 449.22 531.35 449.91 531.85 449.77 532.35 443.47 532.85 443.24 533.35 389.3 533.37ZM389.3 539.87 442.36 539.84 443.2 539.87 443.09 540.37 443.79 540.87 443.69 541.37 389.3 541.43ZM389.3 553.9 442.36 553.84 444.7 553.9 444.7 554.4 450.12 554.9 450.12 555.4 389.3 555.4Z"/>
<path fill="#00FFFF" d="M522.45 409.6 523.55 409.1 574.5 409.1 574.5 500.42 540.46 502.02 499.92 502.46 475.54 502.29 474.71 501.79 481.43 501.29 479.69 500.79 483.36 500.29 481.88 499.79 492.24 499.28 490.66 498.78 485.19 498.28 484.07 497.78 463.46 497.28 462.99 496.78 471.55 496.28 470.92 495.78 485.8 495.28 485.06 494.78 389.3 494.42 389.3 493.46 423.84 493.36 434.9 493.27 434.8 492.77 488.7 492.27 487.79 491.77 473.69 491.27 470.8 490.77 401.36 490.27 404.47 489.77 389.3 489.48 389.3 488.75 448.86 488.36 465.06 487.26 464.28 486.76 459.43 486.26 459.51 485.76 456.83 485.26 457.07 484.76 454.49 484.25 454.94 483.75 457.39 483.25 457.87 482.67 463.25 481.75 462.81 481.25 461.08 480.75 460.92 480.25 459.28 479.74 460.12 478.24 462.24 477.74 462.4 477.24 460.48 476.74 461.06 475.24 460.75 474.73 461.66 473.23 463.56 472.73 463.77 472.23 463.24 471.73 463.48 471.23 464.76 470.73 464.98 470.23 464.71 469.72 465.24 468.22 463.91 467.72 466.61 464.21 466.5 463.21 465.53 462.71 465.73 462.21 466.47 461.21 467.69 460.71 468.48 458.2 469.18 457.7 469.35 457.2 467.74 456.7 467.9 456.2 470.05 455.7 470.23 455.19 469.47 454.69 469.65 454.19 469.1 453.69 469.72 452.19 470.63 451.69 471.27 450.69 471.47 450.18 470.82 449.68 471.73 448.68 471.89 447.18 472.75 446.68 473.71 444.17 472.59 443.67 474.45 441.17 474.11 440.66 474.37 440.16 478 439.66 478.21 439.16 478.73 437.16 477.02 436.66 477.02 435.15 476.2 434.65 476.35 434.15 475.82 433.65 475.98 433.15 477.27 432.65 477.44 432.15 476.57 431.65 476.76 431.15 477.73 430.64 478.84 429.14 482.38 427.64 485.82 425.13 485.03 424.63 487.51 423.13 486.94 422.63 487.87 422.13 491.48 421.63 493.85 420.12 493.99 419.62 495.02 419.12 492.7 418.62 493.72 418.12 498.12 417.62 502.36 416.62 506.55 414.61 511.59 413.11 516.93 412.11 513.85 411.61 515.26 411.1ZM419.45 496.78 441.86 496.36 448.75 496.78 448.63 497.28 447.86 497.31 418.77 497.28ZM422.15 506.8 445.86 506.78 447.51 506.8 447.36 507.07 441.86 507.53 422.34 507.3ZM468.22 506.8 472.07 506.8 469.89 507.22ZM411.32 516.82 442.36 516.98 441.86 517.34 414.83 517.33ZM389.3 518.83 389.3 518.5 441.86 518.47 449.07 518.83 448.9 519.33 389.3 519.45Z"/>
<path fill="#00FFA0" d="M561.35 409.6 563.78 409.1 574.5 409.1 574.5 488.19 551.9 490.27 539.96 490.96 519.94 490.56 514.35 490.27 505.37 488.76 506.36 488.26 489.86 486.26 488.81 485.76 485.12 485.26 484.96 484.76 479.56 484.25 479.9 483.82 484.26 483.25 484.3 482.75 488.93 481.75 487.37 480.75 487.17 480.25 485.61 479.74 485.77 478.24 487.59 477.74 487.59 477.24 485.33 476.74 485.37 475.24 484.52 474.73 485.38 473.23 487.1 472.73 486.71 471.23 487.82 470.73 488 470.23 487.79 469.72 488.21 468.22 486.84 467.72 488.97 464.21 488.78 463.21 487.84 462.71 487.95 462.21 488.54 461.21 489.67 460.71 490.37 458.2 491.21 457.2 489.56 456.7 489.74 456.2 491.83 455.7 492 455.19 491.39 454.69 491.58 454.19 491.13 453.69 491.84 452.19 492.72 451.69 493.81 450.18 493.3 449.68 493.62 449.18 494.43 448.68 494.93 447.18 496.01 446.18 496.97 444.17 496.16 443.67 498.3 441.17 498.15 440.66 498.52 440.16 501.78 439.66 503.3 437.16 501.94 436.66 502.5 435.15 501.91 434.65 502.25 434.15 501.92 433.65 504.28 432.15 503.57 431.65 504.02 431.15 507.51 429.14 511.73 427.64 516.26 425.13 515.7 424.63 518.88 423.13 518.4 422.63 524.4 421.12 526.23 419.62 527.45 419.12 525.23 418.62 525.95 418.35 531.11 417.62 542.47 414.43 554.48 412.56 555.63 412.11 554.39 411.61 558.68 410.1Z"/>
<path fill="#00FF60" d="M574.37 411.1 574.5 486.83 539.96 487.28 514.86 486.26 509.43 485.59 503.48 484.25 503.18 483.75 505.06 483.25 504.75 482.75 507.89 481.75 505.93 480.25 504.44 479.74 504.26 478.24 505.69 477.74 505.6 477.24 503.75 476.74 503.63 475.24 502.98 474.73 502.96 474.23 503.54 473.73 503.53 473.23 504.86 472.73 504.59 471.23 505.48 470.73 505.64 470.23 505.9 468.22 504.87 467.72 506.67 464.21 506.57 463.21 505.87 462.71 505.98 462.21 506.49 461.21 507.42 460.71 508.17 458.2 508.97 457.2 507.66 456.7 507.85 456.2 509.67 455.7 509.87 455.19 509.37 454.69 509.59 454.19 509.24 453.69 509.47 453.19 511.48 450.69 511.76 450.18 511.39 449.68 512.39 448.68 513.03 447.18 513.86 446.68 515.74 444.17 515.2 443.67 518.08 441.17 518.7 440.16 521.63 439.66 523.97 437.16 523.07 436.66 524.37 435.15 524.17 434.65 524.84 433.65 527.99 432.15 527.78 431.65 528.6 431.15 533.53 429.14 546.7 425.13 546.75 424.63 548.9 423.13 548.57 422.63 549.07 422.13 551.22 421.63 552.79 419.62 553.67 419.12 552.12 418.62 556.76 417.62 563.99 414.18 570.84 412.11 571.02 411.61Z"/>
<path fill="#00FF00" d="M572.37 417.12 574.5 416.64 574.5 484.75 544.16 484.25 537.55 483.75 537.63 483.25 534.08 482.75 534.01 482.25 535.72 481.75 527.38 480.75 523.06 479.74 521.37 478.24 522.44 477.83 522.15 477.24 519.47 476.74 517.52 474.73 517.68 473.23 519.22 472.73 518.72 471.23 519.79 470.73 519.9 470.23 519.6 469.72 519.9 468.22 518.71 467.72 518.83 467.22 521.15 464.21 521.19 463.21 520.43 462.71 520.69 462.21 521.52 461.21 522.67 460.71 523.87 458.2 524.79 457.2 523.58 456.7 523.83 456.2 525.7 455.7 525.96 455.19 525.46 454.69 525.74 454.19 525.43 453.69 526.41 452.19 528.16 450.69 528.51 450.18 528.2 449.68 532.73 444.17 532.3 443.67 535.86 440.16 538.41 439.66 540.96 437.16 540.45 436.66 543.33 433.65 546.77 432.15 547.01 431.65 548.12 431.15 554.98 428.81 557.98 426.99 563 425.13 564.38 423.63 564.8 422.13 567.53 419.12 567.27 418.62Z"/>
<path fill="#80FF00" d="M573.01 422.13 574.5 421.86 574.5 480.2 557.48 479.46 550.47 478.64 541.64 476.74 538.98 475.24 537.49 474.23 537.54 473.23 538.67 472.73 538.35 471.23 539.1 470.23 539.15 468.22 538.19 467.72 539.76 464.21 539.32 462.21 539.82 461.21 540.65 460.71 541.72 458.2 542.63 457.2 541.47 456.7 541.73 456.2 543.29 455.7 543.07 453.69 543.52 452.19 544.7 450.18 544.45 449.68 544.71 449.18 546.6 446.68 547.82 444.17 547.43 443.67 547.73 443.17 550.05 440.16 552.38 439.66 555.56 437.16 555.3 436.66 557.89 433.65 559.3 432.65 560.24 431.15 562.52 429.14 566.49 426.94 568.49 424.29Z"/>
<path fill="#FFFF00" d="M574.33 427.64 574.5 477.53 556.98 476.81 550.47 474.95 549.19 474.23 548.79 473.23 549.47 472.73 549.12 471.23 549.49 470.73 549.26 468.22 548.68 467.72 548.7 467.22 549.44 464.21 549.21 462.21 551.18 457.2 550.67 456.7 551.69 455.7 551.85 453.69 552.54 452.19 554.42 449.68 556.3 448.18 557.45 446.68 559.05 443.17 562.15 440.66 564.3 439.66 566.22 433.15 571.39 429.14Z"/>
<path fill="#FF8000" d="M573.55 433.15 574.5 432.78 574.5 475.26 561.49 474.08 557.48 473.33 558.23 472.73 556.65 471.73 556.39 471.23 556.68 470.73 555.62 468.22 554.9 467.72 555.79 464.21 555.43 462.21 556.29 460.71 557.06 457.2 556.54 456.7 556.63 456.2 557.37 455.7 557.52 453.69 564.67 444.17 566.81 440.16 567.87 439.66Z"/>
<path fill="#FF0000" d="M573.5 440.16 574.5 439.93 574.5 469.74 566.99 467.85 566.48 467.22 566.63 464.21 565.19 462.21 565.26 461.21 565.88 460.71 565.56 458.2 565.89 457.2 564.77 456.7 564.76 456.2 565.95 455.7 565.94 455.19 565.34 454.69 565.1 453.69 566.56 450.69 567.2 447.18Z"/>
<rect x="83.3" y="582.6" width="185.4" height="146.3" fill="#0000FF"/>
<path fill="#0080FF" d="M249.27 604.14 268.7 603.74 268.7 700.32 257.23 701.34 256.36 701.84 252.63 702.35 253.25 702.85 249.72 703.35 235.43 703.85 232.69 704.35 235.74 704.85 226.09 706.35 226.9 706.85 223.74 707.36 231.4 707.86 229.04 708.36 218.05 708.86 217.5 709.36 221.99 709.86 216.69 711.36 212.15 711.87 210.03 712.87 208.08 714.37 204.02 714.87 203.38 715.37 208.22 715.87 207.83 716.37 202.67 716.88 202.2 717.38 202.7 717.88 202.28 718.38 189.89 718.88 189.57 719.38 190.03 719.48 195.29 719.88 194.3 720.38 203.42 720.88 202.74 721.38 190.53 722.03 190.03 722.4 198.49 722.89 196.82 723.39 190.03 723.93 189.06 724.39 189.53 724.46 196.87 724.89 192.45 725.39 188.75 726.39 164.48 727.87 158.87 728.9 83.3 728.9 83.3 717.38 83.3 652.22 87.63 651.74 88.51 651.24 87.59 650.74 89.36 649.24 88.23 648.74 90.44 647.23 94.86 646.73 96.11 646.23 91.53 645.73 92.38 645.23 90.88 644.73 93.03 643.22 96.6 642.72 97.71 641.22 99.26 640.72 99.7 640.22 97.52 639.72 98.68 638.21 102.08 637.21 106.97 636.71 108.48 635.21 112.82 633.2 111.04 632.7 112.2 632.2 109.25 631.7 110.21 631.2 117.08 630.7 117.95 630.2 113.69 629.7 114.45 629.2 119.51 628.69 123.88 627.19 123.64 626.69 125.22 626.19 114.52 625.69 115.46 625.19 120.1 624.69 123.25 623.18 122.5 622.68 124.98 621.18 136.2 620.68 137.65 620.18 131.28 619.68 132.66 619.17 148.45 618.67 150.37 618.17 135.81 617.67 137.83 617.17 149.02 616.67 153.45 615.59 164.48 614.21 163.35 613.66 165.85 613.16 178.21 612.66 181.97 612.16 173.29 611.66 177.5 611.13 202.56 609.35 219.09 608.74 222.65 608.15 221.22 607.65 224.57 607.15 264.89 605.15 243.57 604.65Z"/>
<path fill="#00FFFF" d="M264.96 609.15 268.7 608.92 268.7 692.84 260.48 694.33 261.5 694.83 258.78 695.33 248.67 695.83 239.14 697.24 235.12 698.34 219.09 700.84 211.99 703.35 207.09 703.85 205.74 704.35 206.47 704.85 202.67 706.35 202.56 706.85 201.38 707.36 202.72 707.86 196.4 709.36 197.67 709.86 183.66 711.87 181.3 712.87 179.16 714.37 176.55 714.87 175.99 715.37 178.48 715.87 178.06 716.37 175.1 716.88 174.43 718.38 169.02 718.88 168.47 719.38 170.69 719.88 170.09 720.38 174 720.88 173.37 721.38 167.99 721.89 166.88 722.39 170.13 722.89 164.48 724.09 163.86 724.39 165.72 724.89 159.7 726.39 138.77 728.9 83.3 728.9 83.3 726.39 83.3 657.03 83.79 656.75 83.3 656.03 85.39 655.25 83.3 655.02 83.3 653.99 94.23 651.74 95.37 651.24 94.82 650.66 99.29 649.24 98.65 648.74 103.17 647.23 107.28 646.73 108.02 646.23 105.24 645.73 106.06 645.23 105.68 644.73 107 643.73 113.48 641.22 117.2 640.22 116.28 639.72 120.07 638.21 123.69 637.21 128.55 636.71 131.4 635.54 139.7 633.2 139.4 632.7 141.25 632.2 140.46 631.7 147.53 630.7 148.88 630.2 147.09 629.7 148.49 629.2 152.72 628.69 163.03 626.19 158.64 625.69 167.09 624.19 175.5 621.2 184.48 620.68 187.67 620.18 185.75 619.68 189.05 619.17 199.68 618.67 201.53 618.17 195.93 617.67 197.05 617.31 203.5 616.67 210.98 615.17 228.14 613.16 244.63 612.16 241.99 611.66Z"/>
<path fill="#00FFA0" d="M265.02 614.67 268.7 614.31 268.7 686.65 256.31 687.82 241.34 690.32 243.15 690.82 229.57 694.33 229.76 694.83 228.07 695.33 223.02 695.83 219.68 696.83 198.4 700.84 194.45 702.35 194.48 702.85 193.16 703.35 187.51 703.85 186.46 704.35 188.03 704.85 184.82 706.35 185.13 706.85 184.06 707.36 185.96 707.86 184.93 708.36 180.42 708.86 179.05 709.36 180.86 709.86 178.79 710.36 168.57 711.87 165.77 712.87 163.49 714.37 161.62 714.87 161.29 715.37 163.02 715.87 162.74 716.37 160.86 716.88 160.57 718.38 157.69 718.88 157.51 719.38 158.7 719.88 158.48 720.38 160.45 720.88 160.16 721.38 157.79 721.89 157.45 722.39 158.85 722.89 156.5 724.39 157.48 724.89 153.95 725.77 134.64 727.9 130 728.9 83.3 728.9 83.3 727.4 83.3 659.22 85.85 657.75 88.86 656.75 88.31 656.22 91.48 655.25 87 654.75 93.39 653.24 106.68 651.24 106.52 650.74 113.28 649.24 112.54 648.74 114.12 648.23 118.09 647.23 123.3 646.73 124.29 646.23 120.8 645.73 121.92 645.23 121.49 644.73 124.87 643.22 136.36 640.22 135.7 639.72 140.75 638.21 149.98 636.71 160.3 633.2 160.47 632.7 162.16 632.2 162.12 631.7 163.91 631.2 169.68 630.7 172.14 630.2 171.07 629.7 178.41 628.69 184.96 627.19 188.06 626.19 185.7 625.69 187.63 625.19 208.29 621.18 214.54 620.68 216.86 620.18 216.44 619.68 218.87 619.17 236.03 618.17 229.36 617.67 245.19 616.67Z"/>
<path fill="#00FF60" d="M262.98 619.17 268.7 618.99 268.7 683.29 268.43 683.31 268.7 683.99 240.26 685.81 227.8 687.82 218.91 690.32 220.24 690.82 207.85 694.33 208.16 694.83 206.39 695.33 201 695.83 186.97 698.84 178.7 701.34 178.87 701.84 177.86 702.35 178.58 702.85 177.65 703.35 171.05 703.85 170.05 704.35 172.7 704.85 169.41 706.35 170.19 706.85 169.07 707.36 171.94 707.86 170.79 708.36 164.48 709.02 163.59 709.36 166.1 709.86 160.33 711.36 156.73 711.87 155.24 712.87 154.07 714.37 152.14 714.87 151.95 715.37 154.14 715.87 153.98 716.37 151.93 716.88 151.99 718.38 148.66 718.88 148.55 719.38 150.16 719.88 150.03 720.38 152.48 720.88 152.28 721.38 149.65 721.89 149.4 722.39 151.27 722.89 149 724.39 150.23 724.89 144.35 725.89 125.84 727.9 122.33 728.9 99.33 728.9 83.3 728.9 83.3 662.04 83.79 661.76 83.3 661.61 83.3 660.73 85.26 659.76 88.25 659.26 91.79 657.75 95.72 656.75 95.15 656.25 98.48 655.25 93.82 654.75 95.27 654.25 110.44 652.24 121.82 651.24 122.39 650.74 129.52 649.24 129.17 648.74 134.38 647.23 139.02 646.73 140.24 646.23 137.48 645.73 138.76 645.23 138.69 644.73 142.85 643.22 155.1 640.22 154.6 639.72 159.18 638.21 163.07 637.21 167.92 636.71 173.03 635.21 182.63 633.2 183.42 632.7 186.24 632.2 186.67 631.7 194.49 630.7 196.13 630.2 195.24 629.7 196.92 629.2 212.75 626.19 210.87 625.69 238.24 621.68 253.3 620.68 257.96 620.18 258 619.68Z"/>
<path fill="#00FF00" d="M265.88 623.18 268.7 622.81 268.7 676.91 249.72 679.3 253.93 679.8 250.36 680.3 242.52 680.8 231.49 682.3 223.29 682.81 220.77 683.31 224.26 683.81 221.6 684.31 221.4 684.81 212.78 685.81 206 687.31 201.38 687.82 192.54 690.08 191.75 690.32 195.09 690.82 186.28 694.33 187.28 694.83 185.82 695.33 176.62 696.33 177.07 696.83 174.89 697.34 175.03 697.84 170.24 698.84 166.44 700.34 163.72 700.84 163.04 701.34 163.54 701.84 162.92 702.35 163.86 702.85 163.24 703.35 157.9 703.85 157.23 704.35 159.46 704.85 156.95 706.35 157.72 706.85 156.85 707.36 159.55 707.86 158.6 708.36 153.4 708.86 151.96 709.36 154.52 709.86 149.75 711.36 146.03 711.87 144.67 714.37 142.9 714.87 142.83 715.37 145.11 715.87 145.03 716.37 143 716.88 143.12 718.38 139.32 718.88 139.17 719.38 141.1 719.88 140.9 720.38 143.77 720.88 143.59 721.38 140.44 721.89 140.19 722.39 142.57 722.89 142.28 723.39 140.16 724.39 141.68 724.89 134.96 725.89 123.54 726.9 117.56 727.9 115.37 728.9 97.83 728.9 83.3 728.9 83.3 672.32 84.08 671.78 83.3 671.53 83.3 670.72 85.33 670.28 85.67 669.78 84.63 669.28 84.96 668.78 83.3 668.59 83.3 667.59 87.32 667.27 87.66 666.77 83.3 666.36 83.3 665.63 84.97 665.27 85.34 664.77 84.31 664.27 84.74 663.77 87.65 663.27 88.21 662.76 88.32 662.26 89.11 661.76 87.81 661.18 91.09 659.76 95.17 659.26 98.84 657.75 101.66 657.25 102.73 656.75 102.18 656.25 106.07 655.25 101.4 654.75 103.42 654.25 133.05 651.74 146.85 649.24 146.69 648.74 153.6 647.23 158.89 646.73 160.11 646.23 157.1 645.73 158.44 645.23 158.3 644.73 162.23 643.22 173.88 640.72 175.55 640.22 174.53 639.72 183.62 637.21 190.83 636.71 202.06 634.35 205.77 633.2 205.65 632.7 207.1 632.2 206.84 631.7 208.31 631.2 216.86 630.2 215.71 629.7 218.82 629.2 225.71 628.69 245.95 626.19 243.77 625.69Z"/>
<path fill="#80FF00" d="M264.28 628.19 268.7 627.74 268.7 673.19 245.95 674.29 221.12 676.29 212.6 679.3 213.87 679.8 212.42 680.3 202.41 682.3 196.96 682.81 194.91 683.31 197.08 683.81 195.06 684.31 194.67 684.81 185.89 685.81 181.23 687.31 176.9 687.82 172.3 690.32 176.33 690.82 171.79 693.33 168.81 694.33 170.4 694.83 168.3 695.33 155.86 695.83 153.01 696.33 157.24 696.83 156.88 697.34 158.92 697.84 158.44 698.34 156.38 698.84 155.15 700.34 152.63 700.84 152.06 701.34 153.07 701.84 152.39 702.35 153.82 702.85 153.06 703.35 145.59 703.85 144.86 704.35 148.23 704.85 145.5 706.35 146.63 706.85 145.73 707.36 149.05 707.86 147.79 708.36 134.04 709.36 138.32 709.86 136.92 710.86 137.88 711.36 134.7 711.87 135.08 712.37 134.71 714.37 131.81 714.87 131.77 715.37 135.77 715.87 135.7 716.37 132.28 716.88 132.62 718.38 126.78 718.88 126.66 719.38 129.52 719.88 129.37 720.38 133.96 720.88 133.76 721.38 129.13 721.89 128.92 722.39 132.57 722.89 132.31 723.39 129.64 724.39 132.13 724.89 101.84 728.37 100.69 728.9 83.3 728.9 83.3 677.32 85.58 676.29 85.94 675.79 84 675.29 86.04 673.79 84.9 673.29 85.26 672.78 88.91 672.28 89.4 671.78 87.87 671.28 88.29 670.78 91.11 670.28 91.59 669.78 90.22 669.28 90.68 668.78 85.99 668.28 86.32 667.77 93.87 667.27 94.32 666.77 87.68 666.27 88.08 665.77 90.82 665.27 91.35 664.77 89.99 664.27 90.59 663.77 94.5 663.27 96.42 661.76 94.7 661.26 98.61 659.76 102.88 659.26 106.63 657.75 109.7 657.25 111.23 656.75 110.37 656.25 117.49 655.25 110.14 654.75 158.85 651.24 169.72 649.24 169.68 648.74 176.11 647.23 181.3 646.73 182.93 646.23 180.44 645.73 182.18 645.23 182.4 644.73 187.46 643.22 203.08 640.22 201.73 639.72 215.78 637.21 222.37 636.71 233.66 633.2 233.28 632.7 235.26 632.2 234.8 631.7 248.83 630.2 247.76 629.7 251.97 629.2Z"/>
<path fill="#FFFF00" d="M265.48 632.7 268.7 632.21 268.7 668.81 216.15 672.28 216.67 672.78 210.67 673.79 205.77 675.29 200.72 676.29 200.08 676.79 191.89 679.3 193.68 679.8 192.17 680.3 181.3 682.3 173.51 682.81 171.8 683.31 176.58 683.81 174.76 684.31 175.55 684.81 173.84 685.31 166.86 685.81 160.97 687.31 150.53 687.82 145.69 690.32 156.6 690.82 152.02 693.33 147.47 694.33 150.82 694.83 149.44 694.97 119.88 695.81 83.3 695.53 83.3 690.45 84.23 690.32 84.23 687.82 83.3 687.62 83.3 683.71 87.5 683.31 88.14 682.81 84.42 682.3 84.81 681.8 83.3 681.34 83.66 680.8 83.3 680.72 83.3 679.68 86.46 679.3 87.4 677.8 89.21 676.79 91.43 676.29 91.87 675.79 89.39 675.29 92.05 673.79 90.62 673.29 91.12 672.78 95.8 672.28 96.49 671.78 94.66 671.28 95.25 670.78 98.76 670.28 99.35 669.78 97.71 669.28 98.28 668.78 92.39 668.28 92.85 667.77 102.16 667.27 102.74 666.77 94.74 666.27 95.29 665.77 98.74 665.27 99.43 664.77 97.82 664.27 98.6 663.77 103.36 663.27 105.48 661.76 103.41 661.26 107.42 659.76 112.63 659.26 119.56 657.75 125.71 657.25 128.02 656.75 125.84 656.25 134.61 655.25 125.48 654.75 146.97 653.24 164.98 652.71 184.58 651.24 185.47 650.74 192.56 649.24 192.93 648.74 194.78 648.23 206.02 646.23 204.8 645.73 208.08 644.73 231.14 640.22 230.44 639.72 237.28 638.21 243.08 637.21 249.9 636.71 265.16 633.2ZM86.05 696.83 120.38 696.57 143.44 697.84 144.34 698.34 141.92 698.84 140.93 700.34 138.08 700.84 137.76 701.34 139.44 701.84 139.01 702.35 141.2 702.85 140.66 703.35 132.74 703.85 132.42 704.35 135.75 704.85 133.63 706.35 135.06 706.85 134.26 707.36 138.01 707.86 135.82 708.36 114.66 709.86 115.3 710.36 123.89 711.35 121.85 711.87 122.59 712.37 122.37 714.37 120.72 714.87 120.69 715.37 123.55 715.87 123.51 716.37 120.94 716.88 121.14 718.38 117.97 718.88 117.81 719.38 119.33 719.88 119.18 720.38 122.21 720.88 122.1 721.38 118.77 721.89 118.49 722.39 121.25 722.89 121.04 723.39 118.48 724.39 121.3 724.89 110.33 726.39 99.33 726.9 94.64 727.9 93.56 728.9 83.3 728.9 83.3 719.61 83.91 719.38 83.91 718.88 83.3 718.76 83.3 710.29 89.31 709.36 83.3 708.83 83.3 704.51 84.23 704.35 84.23 703.85 83.3 703.75 83.3 697.15Z"/>
<path fill="#FF8000" d="M267.62 638.21 268.7 638.09 268.7 663.06 267.02 663.27 268.7 663.79 258.29 664.77 249.66 666.09 201.5 666.77 200.18 667.27 210.79 667.77 192.79 669.78 191.92 670.28 195.51 670.78 185.2 672.28 190.73 672.78 183.01 673.79 181.08 674.29 181.35 674.79 179.77 675.29 174.12 675.79 173.11 676.29 174.65 676.79 173.68 677.29 174.01 677.8 170.59 679.3 174.17 679.8 172.9 680.3 160 682.3 149.44 682.57 100.84 682.62 91.6 682.3 92.15 681.8 89.46 681.3 90.01 680.8 87.54 680.3 87.9 679.8 93.67 679.3 94.44 677.8 96.47 677.29 96.92 676.79 100.01 676.29 100.33 675.79 96.68 675.29 100.12 673.79 98.32 673.29 99.01 672.78 105.16 672.28 105.92 671.78 103.67 671.28 104.32 670.78 108 670.28 108.45 669.78 106.71 669.28 107.25 668.78 100.88 668.28 101.48 667.77 111.1 667.27 111.84 666.77 110.36 666.67 103.9 666.27 104.64 665.77 108.44 665.27 109.35 664.77 107.77 664.27 108.76 663.77 115.87 662.86 134.45 661.76 115.87 661.44 114.35 661.26 115.37 660.97 132.5 659.76 149.55 659.26 149.94 658.71 155.23 658.26 155.86 657.75 177.24 657.25 177.09 656.75 161.06 656.25 165.96 655.75 180.97 655.25 148.22 654.75 189.57 653.75 204.22 652.74 213.61 651.24 212.08 650.92 211.69 650.74 212.08 650.61 221.81 649.24 221.27 648.74 231.9 647.23 239.47 646.73 241.15 646.23 237.27 645.73 239.03 645.23 238.91 644.73 242.83 643.22 262.69 640.33 263.22 640.22 261.07 639.72ZM87.53 683.81 100.34 683.46 152.09 683.81 148.59 684.31 152.74 684.81 149.66 685.31 132.27 685.81 131.98 686.31 131.15 686.81 131.06 687.31 125.6 687.82 125.6 690.32 131.88 690.82 130.69 693.33 129.02 694.33 129.84 694.83 119.88 695.46 88.31 695.39 84.73 694.83 85.87 694.33 85.32 693.33 85.34 690.82 87.86 690.32 87.87 687.82 86.19 687.31 86.19 685.81 83.31 685.31ZM88.64 697.34 119.88 697.17 130.05 697.84 131.6 698.34 130.13 698.84 129.72 700.34 127.94 700.84 127.87 701.34 129.13 701.84 129.01 702.35 130.59 702.85 130.4 703.35 125.27 703.85 125.21 704.35 127.9 704.85 127.2 706.35 128.29 706.85 128.01 707.36 130.04 707.86 128.48 708.36 118.88 708.88 90.82 708.87 83.3 708.39 83.3 707.63 84.89 707.36 84.85 706.85 86.05 706.35 85.87 704.85 87.86 704.35 87.86 703.85 84.31 703.35 84.31 702.85 85.6 702.35 85.6 701.84 86.49 701.34 86.49 700.84 85.39 700.34 85.21 698.84 84.16 698.34 84.84 697.84ZM88.18 710.86 107.85 710.89 115.49 711.36 116.8 712.37 116.84 713.37 116.72 714.37 115.2 714.87 115.13 715.37 117.2 715.87 117.12 716.37 115.19 716.88 115.09 718.38 111.3 718.88 110.95 719.38 112.58 719.88 112.19 720.38 115.2 720.88 114.85 721.38 110.92 721.89 110.34 722.39 112.97 722.89 110.17 723.89 109.44 724.39 111.17 724.89 106.85 725.74 90.28 726.9 83.3 727.89 83.3 724.74 84.94 724.39 84.35 722.89 85.74 722.39 85.74 721.89 84.14 721.38 84.14 720.88 85.83 720.38 85.83 719.88 86.58 719.38 86.58 718.88 84.94 718.38 85.17 716.88 83.91 716.37 83.91 715.87 85.4 715.37 85.4 714.87 84.39 714.37 84.36 712.37 84.89 711.87 84.63 711.36Z"/>
<path fill="#FF0000" d="M118.49 666.27 124.89 666.01 134.05 666.27ZM111.01 667.77 149.94 667.63 157.59 667.77 159.46 668.29 124.89 668.66 111.86 668.39 110.41 668.28ZM134.19 670.78 149.94 670.75 150.51 670.78 150.44 671.2 135.74 671.28ZM112.52 672.78 149.94 672.55 155.1 672.78 154.84 673.29 149.44 673.75 125.39 673.73 112.14 673.29ZM115.78 674.79 125.39 674.41 149.44 674.41 152.18 674.79 151.95 675.14 149.44 675.41 120.38 675.4 115.54 675.29ZM118.31 677.8 128.91 677.8 120.88 678.09ZM98.84 679.8 139.42 679.48 151.95 679.94 150.33 680.3 139.92 680.6 105.35 680.6 98.7 680.3ZM88.74 684.81 95.33 684.49 119.88 684.7 124.15 685.31 121.38 685.94 121.81 686.31 121.65 687.31 119.88 687.64 90.82 687.53 89.42 687.31 89.28 686.31 89.67 685.81 87.66 685.31ZM88.75 690.82 90.82 690.52 120.38 690.49 122.62 690.82 122.64 693.33 121.59 694.33 121.32 694.83 119.38 694.94 89.81 694.94 89.06 694.83 89.32 694.33 88.74 693.33ZM88.89 697.84 121.84 697.84 123.65 698.34 122.74 698.84 122.55 700.34 121.29 700.84 121.28 701.34 122.29 701.84 122.27 702.35 123.63 702.85 123.59 703.35 119.38 703.77 89.31 703.58 87.99 703.35 87.99 702.85 88.95 702.35 88.95 701.84 89.71 701.34 89.71 700.84 88.79 700.34 88.66 698.84 87.98 698.34ZM89.16 704.85 119.88 704.5 121.88 704.85 121.61 706.35 122.76 706.85 122.61 707.36 124.6 707.86 122.38 708.37 87.78 708.36 86.51 707.86 88.44 707.36 88.39 706.85 89.29 706.35ZM88.84 711.36 108.86 711.7 111.05 712.37 111.18 712.87 110.97 714.37 109.18 714.87 109.07 715.37 111.38 715.87 111.23 716.37 109.04 716.88 108.81 718.38 107.35 718.55 87.81 718.53 87.31 718.38 87.51 716.88 86.62 716.37 86.62 715.87 87.71 715.37 87.71 714.87 86.93 714.37 86.95 712.37ZM88.36 719.88 105.33 719.88 105.05 720.38 108.65 720.88 108.36 721.38 104.81 721.89 104.39 722.39 107.11 722.89 105.16 724.39 105.85 724.71 106.19 724.89 104.85 725.11 87.64 725.89 86.24 724.89 87.43 724.39 86.9 722.89 88.18 722.39 88.18 721.89 86.77 721.38 86.77 720.88 88.37 720.38Z"/>
<rect x="389.3" y="582.6" width="185.2" height="146.3" fill="#0000FF"/>
<path fill="#0080FF" d="M573.74 600.64 574.5 600.54 574.5 686.2 574.01 686.31 574.5 686.37 574.5 689.46 559.76 689.82 556.31 690.32 557.02 690.82 552.78 691.32 556.08 691.82 552.98 692.18 524.42 693.83 522.82 694.33 523.77 694.83 521.31 695.33 521.44 695.83 515.94 696.11 404.82 696.27 401.8 695.83 405.32 695.54 450.42 695.33 441.14 694.83 459.27 694.33 457.34 693.83 452.87 693.73 404.03 693.33 403.79 692.83 400.99 692.33 400.93 691.82 402.87 691.32 402.81 690.81 418.75 690.32 417.95 689.82 403.32 689.7 399.6 689.32 399.08 688.82 400.46 688.32 400.11 687.82 401.8 687.31 401.62 686.81 406.24 686.31 405.79 685.81 389.3 685.33 389.3 683.64 399.13 683.31 399.04 682.81 401.29 682.3 401.26 681.8 406.93 681.3 406.78 680.8 410.61 680.3 410.42 679.8 409.32 679.72 403.56 679.3 403.52 678.8 399.07 678.3 399.63 676.79 411.86 676.29 407.73 674.79 400.91 674.29 400.92 673.79 404.96 673.29 404.92 672.78 400.03 672.28 400.03 671.78 399.21 671.28 399.21 670.78 403.32 670.28 403.32 669.78 401.61 669.28 401.62 668.78 399.98 668.28 400 667.77 399.06 667.27 399.1 666.77 401.43 666.27 401.5 665.77 403.88 665.27 403.95 664.77 401.36 664.27 401.46 663.77 406.39 663.27 406.46 662.76 400.93 662.26 401.04 661.76 399.97 661.26 400.07 660.76 402.09 660.26 402.18 659.76 405.9 659.26 405.98 658.76 402.63 658.26 402.73 657.75 401.56 657.25 402.86 655.75 405.5 655.25 402.61 654.75 403.8 653.24 400.95 652.74 401.09 652.24 404.73 651.74 404.85 651.24 404.24 650.74 404.36 650.24 403.13 649.74 403.26 649.24 404.24 648.74 404.7 647.23 403.66 646.73 403.77 646.23 402.41 645.73 402.54 645.23 404.71 644.73 404.79 643.22 403.83 642.72 403.5 641.22 402.38 640.72 402.22 640.22 407.41 639.72 407.54 639.22 410.03 638.72 410.31 638.21 406.83 637.71 406.95 637.21 412.7 636.71 413.1 636.21 409.76 635.71 410.05 635.21 421.16 634.71 421.47 634.21 417.13 633.7 417.4 633.2 411.55 632.7 411.81 632.2 406.52 631.7 407.05 631.2 409.11 630.7 409.43 630.2 415.66 629.7 416.04 629.2 408.56 628.69 408.78 628.19 406.82 627.79 401.37 627.69 402.26 627.19 421.54 626.69 421.99 626.19 420.92 625.69 421.38 625.19 418.54 624.69 418.97 624.19 425.01 623.68 427.88 622.18 423.5 621.68 424.21 621.18 418.3 620.68 418.66 620.18 430.34 619.68 430.93 619.17 419.05 618.67 419.66 618.17 429.64 617.67 430.11 617.17 433.67 616.67 434.32 616.17 424.59 615.67 426.76 614.16 429.9 613.66 430.96 612.16 446.51 611.66 447.9 610.16 441.2 609.66 443.23 608.65 444.3 607.15 442.46 606.65 443.02 606.15 447.26 605.15 458.58 603.64 491.41 602.48 569.49 601.18ZM406.93 698.34 457.09 698.34 458.72 698.84 459.2 699.84 459.02 700.34 460.07 700.84 459.28 702.35 457.37 703.27 453.87 703.86 409.82 704.02 408.82 703.8 406.55 702.35 405.51 700.84 406.45 700.34 406.36 698.84Z"/>
<path fill="#00FFFF" d="M564.56 603.64 574.5 603.43 574.5 678.59 547.81 679.8 544.1 680.3 546.33 680.8 542.9 681.3 547.4 681.8 543.98 682.3 546.58 682.81 543.15 683.31 558.59 683.81 543.41 685.31 499.92 685.56 426.34 685.31 414.53 684.31 412.86 683.81 426.89 683.31 425.13 682.81 431.82 682.3 428.16 681.8 454.32 681.3 450.48 680.8 460.06 680.3 457.06 679.8 433.23 679.3 432.38 678.8 420.18 678.3 420.46 676.79 446.58 676.29 429.84 674.64 421.47 674.29 421.3 673.79 426.5 673.29 425.95 672.78 419.46 672.28 419.35 671.78 417.95 671.28 417.88 670.78 423.08 670.28 423.04 669.78 421.22 669.28 421.22 668.78 418.95 668.28 418.95 667.77 417.44 667.27 417.44 666.77 420.73 666.27 420.74 665.77 423.32 665.27 423.33 664.77 420.26 664.27 420.26 663.77 425.89 663.27 425.93 662.76 419.22 662.26 419.23 661.76 417.67 661.26 417.69 660.76 420.2 660.26 420.2 659.76 424.86 659.26 424.9 658.76 420.45 658.26 420.49 657.75 418.91 657.25 418.99 656.75 420.26 656.25 420.36 655.75 423.91 655.25 419.95 654.75 420.08 654.25 421.25 653.75 421.41 653.24 417.44 652.74 417.6 652.24 422.65 651.74 422.79 651.24 421.94 650.74 422.09 650.24 420.35 649.74 420.51 649.24 421.88 648.74 422.52 647.23 421.06 646.73 421.24 646.23 419.18 645.73 419.37 645.23 422.68 644.73 422.97 643.22 421.56 642.72 421.19 641.22 419.3 640.72 419.13 640.22 427.56 639.72 427.85 639.22 431.43 638.72 431.96 638.21 427.03 637.71 427.31 637.21 435.55 636.71 436.11 636.21 431.9 635.71 432.39 635.21 442.93 634.71 443.2 634.21 440.37 633.7 440.65 633.2 434.35 632.7 434.69 632.2 425.34 631.7 425.67 631.2 429.44 630.7 429.79 630.2 439.44 629.7 439.84 629.2 427.56 628.69 427.98 628.19 424.04 627.69 424.48 627.19 444.74 626.69 445.17 626.19 444.65 625.69 445.11 625.19 442.52 624.69 443.12 624.19 447.7 623.68 449.69 622.18 447.77 621.68 448.46 621.18 442.61 620.68 443.39 620.18 452.18 619.68 452.75 619.17 444.23 618.67 445.21 618.17 453.4 617.67 456.06 616.17 450.06 615.67 457.47 613.66 460.64 612.16 468.21 611.66 474 610.16 471.47 609.66 485.97 607.15 486.79 606.65 502.92 605.19 513.43 604.72Z"/>
<path fill="#00FFA0" d="M566.34 605.65 574.5 605.38 574.5 674.26 539.96 675.76 503.42 676.01 455.34 674.29 452.16 673.79 453.61 673.29 451.37 672.78 443.93 672.28 439.86 671.28 439.11 670.78 443.88 670.28 443.52 669.78 441.73 669.28 441.72 668.78 439.43 668.28 439.48 667.77 437.93 667.27 438 666.77 441.6 666.27 441.72 665.77 444.21 665.27 444.35 664.77 441.63 664.27 441.79 663.77 446.36 663.31 446.85 662.76 441.09 662.26 441.25 661.76 439.46 661.26 439.61 660.76 442.88 660.26 443.03 659.76 446.87 659.26 446.98 658.76 443.63 658.26 443.74 657.75 441.84 657.25 441.95 656.75 443.55 656.25 443.65 655.75 446.59 655.25 443.07 654.75 443.18 654.25 444.38 653.75 444.48 653.24 439.37 652.74 439.49 652.24 445.6 651.74 445.73 651.24 444.85 650.74 445 650.24 442.94 649.74 443.12 649.24 444.81 648.74 445.81 647.23 444.1 646.73 444.48 646.23 441.79 645.73 442.24 645.23 446.88 644.73 448.27 643.22 447.31 642.72 448.63 641.22 447.15 640.72 447.71 640.22 454.85 639.72 457.44 638.21 456.77 637.71 457.33 637.21 459.53 636.71 460.89 635.21 463.15 634.71 463.97 633.2 463.45 632.7 463.98 632.2 462.84 631.7 465.39 630.2 468.47 629.2 467.17 628.69 469.26 627.19 472.12 626.69 475.54 624.19 481.51 622.18 483.77 621.18 483.73 620.68 484.97 620.18 487.26 619.68 488.15 619.17 487.33 618.67 488.21 618.17 494.75 616.17 493.62 615.67 499.39 614.16 509.99 612.16 514.99 611.66 521.67 610.16 520.61 609.66 531.45 608.03 543.97 606.59ZM487.86 676.79 503.42 676.51 542.47 676.81 502.92 677.56Z"/>
<path fill="#00FF60" d="M573.28 608.15 574.5 608.08 574.5 670.78 562.04 672.28 539.96 673.67 522.94 674.05 496.88 673.79 471.64 672.28 464.46 671.28 462.39 670.78 464.12 670.28 460.83 668.28 460.89 667.77 460.05 667.27 460.14 666.77 460.88 666.6 462.21 666.27 462.33 665.77 463.76 665.27 463.88 664.77 462.49 664.27 462.65 663.77 465.24 663.27 465.35 662.76 462.54 662.26 462.71 661.76 461.93 661.26 462.1 660.76 463.68 660.26 463.81 659.76 465.6 659.26 465.69 658.76 464.24 658.26 464.34 657.75 463.59 657.25 464.51 655.75 465.83 655.25 464.39 654.75 465.17 653.24 463.1 652.74 463.24 652.24 465.88 651.74 465.93 650.24 465.2 649.74 467.18 647.23 466.81 646.73 467.21 646.23 466.6 645.73 467.11 645.23 468.94 644.73 473.49 640.22 475.52 639.72 477.11 638.72 478.33 637.21 483.21 634.71 484.85 632.2 484.6 631.7 486.58 630.2 488.78 629.2 488.44 628.69 490.6 627.19 492.96 626.69 497.65 624.19 510.46 619.68 512.89 618.17 522.52 615.17 539.12 612.16 554.3 610.16 555.33 609.66Z"/>
<path fill="#00FF00" d="M571.59 611.66 574.5 611.37 574.5 666.58 549.97 670.86 523.44 671.66 510.93 671.41 495.15 670.78 494.3 670.28 485.55 669.28 482.63 667.27 482.43 666.77 483.64 666.27 483.47 665.77 484.39 665.27 484.25 664.77 483.4 664.48 482.8 664.27 482.68 663.77 484.97 663.27 484.87 662.76 481.98 662.26 481.34 661.26 481.3 660.76 482.16 660.26 482.14 659.76 483.95 659.26 483.95 658.76 482.23 658.26 482.27 657.75 481.71 657.25 482.43 655.75 483.85 655.25 482.43 654.75 483.31 653.24 481.89 652.74 482.06 652.24 484.08 651.74 484.18 650.24 483.68 649.74 485.2 647.23 484.87 646.73 485.23 646.23 484.78 645.73 485.19 645.23 486.89 644.73 490.09 640.22 491.6 639.72 493.3 638.21 493.36 637.71 495.53 636.71 496.93 635.21 499.42 634.21 500.87 632.2 500.65 631.7 503.98 629.7 504.55 629.2 504.23 628.69 505.32 627.69 509.93 626.51 520.52 622.18 523.44 620.43 529.15 619.17 529.81 618.67 542.97 616.24 543.92 615.67 550.26 614.16 562.49 612.38Z"/>
<path fill="#80FF00" d="M570.1 614.16 574.5 613.77 574.5 662.04 569.04 662.76 564.31 664.27 550.47 667.01 533.46 667.24 523.14 666.77 523.04 666.27 520.93 665.77 520.64 665.27 514.89 663.77 516.62 663.27 515.68 662.76 511.78 662.26 511.19 661.76 509.55 660.76 510.56 660.26 510.39 659.76 511.97 659.26 511.88 658.76 510.35 658.26 510.35 657.75 509.53 657.25 510.13 655.75 511.19 655.25 509.82 654.75 510.26 653.24 508.26 652.74 508.28 652.24 510.53 651.74 510.16 650.24 509.31 649.74 510.16 647.23 509.56 646.73 509.73 646.23 508.91 645.73 509.13 645.23 510.68 644.73 512.6 640.22 514.5 639.72 515.58 638.72 516.09 637.21 519.87 634.71 520.7 633.2 521.02 632.2 520.76 631.7 521.16 631.2 524.59 629.2 524.35 628.69 526.46 627.19 528.09 626.69 531.71 624.19 534.51 623.18 546.41 619.68 549.54 618.17 558.77 615.67Z"/>
<path fill="#FFFF00" d="M573.16 616.17 574.5 615.97 574.5 657.47 564.68 658.76 562.61 659.26 562.29 659.76 559.59 660.76 553.98 661.87 538.55 660.76 538.28 660.26 535.65 659.76 537.54 659.26 532.52 658.26 530.73 657.25 529.95 655.97 529.74 655.75 530.48 655.25 528.52 654.75 527.68 653.24 525.62 652.74 525.37 652.24 526.97 651.74 525.27 649.74 525.62 647.23 524.54 645.73 524.55 645.23 525.42 644.73 525.11 640.22 525.97 639.72 526.4 637.71 531.73 634.21 532.87 632.2 532.76 631.7 535.17 629.7 536.28 627.69 543.49 624.69 550.82 622.18 559.48 618.43 564.49 617.27Z"/>
<path fill="#FF8000" d="M571.56 618.67 574.5 618.18 574.5 653.24 553.26 652.74 551.98 652.24 554.36 651.74 548.73 649.74 548.08 648.23 547.46 647.23 544.47 645.34 545.47 644.73 543.94 642.72 542.82 640.22 544.06 639.72 544.4 638.21 543.86 637.71 544.02 637.21 544.99 636.71 545.11 635.21 546.49 634.71 546.28 632.2 545.71 631.7 547.71 629.2 547.11 628.69 547.58 627.69 548.47 627.19 551.99 626.69 559.66 623.68 564.99 620.31Z"/>
<path fill="#FF0000" d="M572.67 627.19 574.5 626.95 574.5 643.36 570 640.72 569.55 640.22 570 640.07 571.21 639.72 570.23 638.21 568.67 637.21 569.21 636.71 568.16 635.21 569.35 634.71 569.42 634.21 568.78 632.7 569.07 632.2 568.38 631.7 570.03 630.2 572.36 629.2 571.32 628.69Z"/>
<rect x="45.8" y="305.8" width="67.5" height="1.2" fill="#A8C828"/>
<rect x="44.4" y="319.9" width="56.6" height="1.2" fill="#A8C828"/>
<rect x="505" y="444.4" width="69.5" height="0.9" fill="#F04010" opacity="0.8"/>
<path d="M47.39 164.30v2.2M59.77 164.30v3.8M72.15 164.30v2.2M84.53 164.30v3.8M96.91 164.30v2.2M109.29 164.30v3.8M121.67 164.30v2.2M134.05 164.30v3.8M146.43 164.30v2.2M158.81 164.30v3.8M41.20 164.30h-3.8M41.20 149.56h-2.2M41.20 140.94h-2.2M41.20 134.82h-2.2M41.20 130.07h-2.2M41.20 126.20h-2.2M41.20 122.92h-2.2M41.20 120.08h-2.2M41.20 117.57h-2.2M41.20 115.33h-3.8M41.20 100.59h-2.2M41.20 91.97h-2.2M41.20 85.85h-2.2M41.20 81.11h-2.2M41.20 77.23h-2.2M41.20 73.95h-2.2M41.20 71.11h-2.2M41.20 68.61h-2.2M41.20 66.37h-3.8M41.20 51.63h-2.2M41.20 43.00h-2.2M41.20 36.89h-2.2M41.20 32.14h-2.2M41.20 28.26h-2.2M41.20 24.99h-2.2M41.20 22.15h-2.2M41.20 19.64h-2.2M41.20 17.40h-3.8" stroke="#000" stroke-width="1" fill="none"/>
<rect x="41.20" y="17.40" width="123.80" height="146.90" fill="none" stroke="#000" stroke-width="1.3"/>
<path d="M275.05 164.30v2.2M287.35 164.30v3.8M299.65 164.30v2.2M311.95 164.30v3.8M324.25 164.30v2.2M336.55 164.30v3.8M348.85 164.30v2.2M361.15 164.30v3.8M373.45 164.30v2.2M385.75 164.30v3.8M268.90 164.30h-3.8M268.90 149.56h-2.2M268.90 140.94h-2.2M268.90 134.82h-2.2M268.90 130.07h-2.2M268.90 126.20h-2.2M268.90 122.92h-2.2M268.90 120.08h-2.2M268.90 117.57h-2.2M268.90 115.33h-3.8M268.90 100.59h-2.2M268.90 91.97h-2.2M268.90 85.85h-2.2M268.90 81.11h-2.2M268.90 77.23h-2.2M268.90 73.95h-2.2M268.90 71.11h-2.2M268.90 68.61h-2.2M268.90 66.37h-3.8M268.90 51.63h-2.2M268.90 43.00h-2.2M268.90 36.89h-2.2M268.90 32.14h-2.2M268.90 28.26h-2.2M268.90 24.99h-2.2M268.90 22.15h-2.2M268.90 19.64h-2.2M268.90 17.40h-3.8" stroke="#000" stroke-width="1" fill="none"/>
<rect x="268.90" y="17.40" width="123.00" height="146.90" fill="none" stroke="#000" stroke-width="1.3"/>
<path d="M502.36 164.30v2.2M514.68 164.30v3.8M527.00 164.30v2.2M539.32 164.30v3.8M551.64 164.30v2.2M563.96 164.30v3.8M576.28 164.30v2.2M588.60 164.30v3.8M600.92 164.30v2.2M613.24 164.30v3.8M496.20 164.30h-3.8M496.20 149.56h-2.2M496.20 140.94h-2.2M496.20 134.82h-2.2M496.20 130.07h-2.2M496.20 126.20h-2.2M496.20 122.92h-2.2M496.20 120.08h-2.2M496.20 117.57h-2.2M496.20 115.33h-3.8M496.20 100.59h-2.2M496.20 91.97h-2.2M496.20 85.85h-2.2M496.20 81.11h-2.2M496.20 77.23h-2.2M496.20 73.95h-2.2M496.20 71.11h-2.2M496.20 68.61h-2.2M496.20 66.37h-3.8M496.20 51.63h-2.2M496.20 43.00h-2.2M496.20 36.89h-2.2M496.20 32.14h-2.2M496.20 28.26h-2.2M496.20 24.99h-2.2M496.20 22.15h-2.2M496.20 19.64h-2.2M496.20 17.40h-3.8" stroke="#000" stroke-width="1" fill="none"/>
<rect x="496.20" y="17.40" width="123.20" height="146.90" fill="none" stroke="#000" stroke-width="1.3"/>
<path d="M47.59 338.20v2.2M59.95 338.20v3.8M72.32 338.20v2.2M84.69 338.20v3.8M97.06 338.20v2.2M109.44 338.20v3.8M121.81 338.20v2.2M134.17 338.20v3.8M146.54 338.20v2.2M158.91 338.20v3.8M41.40 338.20h-3.8M41.40 325.50h-2.2M41.40 318.07h-2.2M41.40 312.80h-2.2M41.40 308.71h-2.2M41.40 305.37h-2.2M41.40 302.55h-2.2M41.40 300.10h-2.2M41.40 297.95h-2.2M41.40 296.02h-3.8M41.40 283.32h-2.2M41.40 275.89h-2.2M41.40 270.62h-2.2M41.40 266.53h-2.2M41.40 263.19h-2.2M41.40 260.37h-2.2M41.40 257.92h-2.2M41.40 255.76h-2.2M41.40 253.83h-3.8M41.40 241.13h-2.2M41.40 233.71h-2.2M41.40 228.43h-2.2M41.40 224.35h-2.2M41.40 221.01h-2.2M41.40 218.18h-2.2M41.40 215.74h-2.2M41.40 213.58h-2.2M41.40 211.65h-3.8M41.40 198.95h-2.2M41.40 191.52h-2.2" stroke="#000" stroke-width="1" fill="none"/>
<rect x="41.40" y="191.40" width="123.70" height="146.80" fill="none" stroke="#000" stroke-width="1.3"/>
<path d="M275.05 338.20v2.2M287.35 338.20v3.8M299.65 338.20v2.2M311.95 338.20v3.8M324.25 338.20v2.2M336.55 338.20v3.8M348.85 338.20v2.2M361.15 338.20v3.8M373.45 338.20v2.2M385.75 338.20v3.8M268.90 338.20h-3.8M268.90 325.50h-2.2M268.90 318.07h-2.2M268.90 312.80h-2.2M268.90 308.71h-2.2M268.90 305.37h-2.2M268.90 302.55h-2.2M268.90 300.10h-2.2M268.90 297.95h-2.2M268.90 296.02h-3.8M268.90 283.32h-2.2M268.90 275.89h-2.2M268.90 270.62h-2.2M268.90 266.53h-2.2M268.90 263.19h-2.2M268.90 260.37h-2.2M268.90 257.92h-2.2M268.90 255.76h-2.2M268.90 253.83h-3.8M268.90 241.13h-2.2M268.90 233.71h-2.2M268.90 228.43h-2.2M268.90 224.35h-2.2M268.90 221.01h-2.2M268.90 218.18h-2.2M268.90 215.74h-2.2M268.90 213.58h-2.2M268.90 211.65h-3.8M268.90 198.95h-2.2M268.90 191.52h-2.2" stroke="#000" stroke-width="1" fill="none"/>
<rect x="268.90" y="191.40" width="123.00" height="146.80" fill="none" stroke="#000" stroke-width="1.3"/>
<path d="M502.36 338.20v2.2M514.68 338.20v3.8M527.00 338.20v2.2M539.32 338.20v3.8M551.64 338.20v2.2M563.96 338.20v3.8M576.28 338.20v2.2M588.60 338.20v3.8M600.92 338.20v2.2M613.24 338.20v3.8M496.20 338.20h-3.8M496.20 325.50h-2.2M496.20 318.07h-2.2M496.20 312.80h-2.2M496.20 308.71h-2.2M496.20 305.37h-2.2M496.20 302.55h-2.2M496.20 300.10h-2.2M496.20 297.95h-2.2M496.20 296.02h-3.8M496.20 283.32h-2.2M496.20 275.89h-2.2M496.20 270.62h-2.2M496.20 266.53h-2.2M496.20 263.19h-2.2M496.20 260.37h-2.2M496.20 257.92h-2.2M496.20 255.76h-2.2M496.20 253.83h-3.8M496.20 241.13h-2.2M496.20 233.71h-2.2M496.20 228.43h-2.2M496.20 224.35h-2.2M496.20 221.01h-2.2M496.20 218.18h-2.2M496.20 215.74h-2.2M496.20 213.58h-2.2M496.20 211.65h-3.8M496.20 198.95h-2.2M496.20 191.52h-2.2" stroke="#000" stroke-width="1" fill="none"/>
<rect x="496.20" y="191.40" width="123.20" height="146.80" fill="none" stroke="#000" stroke-width="1.3"/>
<path d="M92.57 555.40v2.2M111.11 555.40v3.8M129.65 555.40v2.2M148.19 555.40v3.8M166.73 555.40v2.2M185.27 555.40v3.8M203.81 555.40v2.2M222.35 555.40v3.8M240.89 555.40v2.2M259.43 555.40v3.8M83.30 555.40h-3.8M83.30 540.72h-2.2M83.30 532.13h-2.2M83.30 526.04h-2.2M83.30 521.31h-2.2M83.30 517.45h-2.2M83.30 514.19h-2.2M83.30 511.36h-2.2M83.30 508.86h-2.2M83.30 506.63h-3.8M83.30 491.95h-2.2M83.30 483.37h-2.2M83.30 477.27h-2.2M83.30 472.55h-2.2M83.30 468.69h-2.2M83.30 465.42h-2.2M83.30 462.59h-2.2M83.30 460.10h-2.2M83.30 457.87h-3.8M83.30 443.19h-2.2M83.30 434.60h-2.2M83.30 428.51h-2.2M83.30 423.78h-2.2M83.30 419.92h-2.2M83.30 416.65h-2.2M83.30 413.83h-2.2M83.30 411.33h-2.2M83.30 409.10h-3.8" stroke="#000" stroke-width="1" fill="none"/>
<rect x="83.30" y="409.10" width="185.40" height="146.30" fill="none" stroke="#000" stroke-width="1.3"/>
<path d="M398.56 555.40v2.2M417.08 555.40v3.8M435.60 555.40v2.2M454.12 555.40v3.8M472.64 555.40v2.2M491.16 555.40v3.8M509.68 555.40v2.2M528.20 555.40v3.8M546.72 555.40v2.2M565.24 555.40v3.8M389.30 555.40h-3.8M389.30 540.72h-2.2M389.30 532.13h-2.2M389.30 526.04h-2.2M389.30 521.31h-2.2M389.30 517.45h-2.2M389.30 514.19h-2.2M389.30 511.36h-2.2M389.30 508.86h-2.2M389.30 506.63h-3.8M389.30 491.95h-2.2M389.30 483.37h-2.2M389.30 477.27h-2.2M389.30 472.55h-2.2M389.30 468.69h-2.2M389.30 465.42h-2.2M389.30 462.59h-2.2M389.30 460.10h-2.2M389.30 457.87h-3.8M389.30 443.19h-2.2M389.30 434.60h-2.2M389.30 428.51h-2.2M389.30 423.78h-2.2M389.30 419.92h-2.2M389.30 416.65h-2.2M389.30 413.83h-2.2M389.30 411.33h-2.2M389.30 409.10h-3.8" stroke="#000" stroke-width="1" fill="none"/>
<rect x="389.30" y="409.10" width="185.20" height="146.30" fill="none" stroke="#000" stroke-width="1.3"/>
<path d="M92.57 728.90v2.2M111.11 728.90v3.8M129.65 728.90v2.2M148.19 728.90v3.8M166.73 728.90v2.2M185.27 728.90v3.8M203.81 728.90v2.2M222.35 728.90v3.8M240.89 728.90v2.2M259.43 728.90v3.8M83.30 728.90h-3.8M83.30 716.24h-2.2M83.30 708.84h-2.2M83.30 703.59h-2.2M83.30 699.52h-2.2M83.30 696.19h-2.2M83.30 693.37h-2.2M83.30 690.93h-2.2M83.30 688.78h-2.2M83.30 686.86h-3.8M83.30 674.20h-2.2M83.30 666.80h-2.2M83.30 661.55h-2.2M83.30 657.47h-2.2M83.30 654.15h-2.2M83.30 651.33h-2.2M83.30 648.89h-2.2M83.30 646.74h-2.2M83.30 644.82h-3.8M83.30 632.16h-2.2M83.30 624.76h-2.2M83.30 619.51h-2.2M83.30 615.43h-2.2M83.30 612.11h-2.2M83.30 609.29h-2.2M83.30 606.85h-2.2M83.30 604.70h-2.2M83.30 602.78h-3.8M83.30 590.12h-2.2M83.30 582.72h-2.2" stroke="#000" stroke-width="1" fill="none"/>
<rect x="83.30" y="582.60" width="185.40" height="146.30" fill="none" stroke="#000" stroke-width="1.3"/>
<path d="M398.56 728.90v2.2M417.08 728.90v3.8M435.60 728.90v2.2M454.12 728.90v3.8M472.64 728.90v2.2M491.16 728.90v3.8M509.68 728.90v2.2M528.20 728.90v3.8M546.72 728.90v2.2M565.24 728.90v3.8M389.30 728.90h-3.8M389.30 716.24h-2.2M389.30 708.84h-2.2M389.30 703.59h-2.2M389.30 699.52h-2.2M389.30 696.19h-2.2M389.30 693.37h-2.2M389.30 690.93h-2.2M389.30 688.78h-2.2M389.30 686.86h-3.8M389.30 674.20h-2.2M389.30 666.80h-2.2M389.30 661.55h-2.2M389.30 657.47h-2.2M389.30 654.15h-2.2M389.30 651.33h-2.2M389.30 648.89h-2.2M389.30 646.74h-2.2M389.30 644.82h-3.8M389.30 632.16h-2.2M389.30 624.76h-2.2M389.30 619.51h-2.2M389.30 615.43h-2.2M389.30 612.11h-2.2M389.30 609.29h-2.2M389.30 606.85h-2.2M389.30 604.70h-2.2M389.30 602.78h-3.8M389.30 590.12h-2.2M389.30 582.72h-2.2" stroke="#000" stroke-width="1" fill="none"/>
<rect x="389.30" y="582.60" width="185.20" height="146.30" fill="none" stroke="#000" stroke-width="1.3"/>
<rect x="171.2" y="21.1" width="25.1" height="9.8" fill="#FF0000" stroke="#000" stroke-width="1.1"/>
<rect x="171.2" y="35.5" width="25.1" height="9.8" fill="#FF8000" stroke="#000" stroke-width="1.1"/>
<rect x="171.2" y="49.9" width="25.1" height="9.8" fill="#FFFF00" stroke="#000" stroke-width="1.1"/>
<rect x="171.2" y="64.2" width="25.1" height="9.8" fill="#80FF00" stroke="#000" stroke-width="1.1"/>
<rect x="171.2" y="78.6" width="25.1" height="9.8" fill="#00FF00" stroke="#000" stroke-width="1.1"/>
<rect x="171.2" y="93.0" width="25.1" height="9.8" fill="#00FF60" stroke="#000" stroke-width="1.1"/>
<rect x="171.2" y="107.4" width="25.1" height="9.8" fill="#00FFA0" stroke="#000" stroke-width="1.1"/>
<rect x="171.2" y="121.8" width="25.1" height="9.8" fill="#00FFFF" stroke="#000" stroke-width="1.1"/>
<rect x="171.2" y="136.1" width="25.1" height="9.8" fill="#0080FF" stroke="#000" stroke-width="1.1"/>
<rect x="171.2" y="150.5" width="25.1" height="9.8" fill="#0000FF" stroke="#000" stroke-width="1.1"/>
<rect x="398.2" y="21.0" width="22.5" height="10.0" fill="#FF0000" stroke="#000" stroke-width="1.1"/>
<rect x="398.2" y="35.4" width="22.5" height="10.0" fill="#FF8000" stroke="#000" stroke-width="1.1"/>
<rect x="398.2" y="49.8" width="22.5" height="10.0" fill="#FFFF00" stroke="#000" stroke-width="1.1"/>
<rect x="398.2" y="64.1" width="22.5" height="10.0" fill="#80FF00" stroke="#000" stroke-width="1.1"/>
<rect x="398.2" y="78.5" width="22.5" height="10.0" fill="#00FF00" stroke="#000" stroke-width="1.1"/>
<rect x="398.2" y="92.9" width="22.5" height="10.0" fill="#00FF60" stroke="#000" stroke-width="1.1"/>
<rect x="398.2" y="107.3" width="22.5" height="10.0" fill="#00FFA0" stroke="#000" stroke-width="1.1"/>
<rect x="398.2" y="121.7" width="22.5" height="10.0" fill="#00FFFF" stroke="#000" stroke-width="1.1"/>
<rect x="398.2" y="136.0" width="22.5" height="10.0" fill="#0080FF" stroke="#000" stroke-width="1.1"/>
<rect x="398.2" y="150.4" width="22.5" height="10.0" fill="#0000FF" stroke="#000" stroke-width="1.1"/>
<rect x="625.2" y="21.0" width="23.0" height="10.0" fill="#FF0000" stroke="#000" stroke-width="1.1"/>
<rect x="625.2" y="35.4" width="23.0" height="10.0" fill="#FF8000" stroke="#000" stroke-width="1.1"/>
<rect x="625.2" y="49.8" width="23.0" height="10.0" fill="#FFFF00" stroke="#000" stroke-width="1.1"/>
<rect x="625.2" y="64.1" width="23.0" height="10.0" fill="#80FF00" stroke="#000" stroke-width="1.1"/>
<rect x="625.2" y="78.5" width="23.0" height="10.0" fill="#00FF00" stroke="#000" stroke-width="1.1"/>
<rect x="625.2" y="92.9" width="23.0" height="10.0" fill="#00FF60" stroke="#000" stroke-width="1.1"/>
<rect x="625.2" y="107.3" width="23.0" height="10.0" fill="#00FFA0" stroke="#000" stroke-width="1.1"/>
<rect x="625.2" y="121.7" width="23.0" height="10.0" fill="#00FFFF" stroke="#000" stroke-width="1.1"/>
<rect x="625.2" y="136.0" width="23.0" height="10.0" fill="#0080FF" stroke="#000" stroke-width="1.1"/>
<rect x="625.2" y="150.4" width="23.0" height="10.0" fill="#0000FF" stroke="#000" stroke-width="1.1"/>
<rect x="278.2" y="413.2" width="26.0" height="9.5" fill="#FF0000" stroke="#000" stroke-width="1.1"/>
<rect x="278.2" y="427.4" width="26.0" height="9.5" fill="#FF8000" stroke="#000" stroke-width="1.1"/>
<rect x="278.2" y="441.6" width="26.0" height="9.5" fill="#FFFF00" stroke="#000" stroke-width="1.1"/>
<rect x="278.2" y="455.9" width="26.0" height="9.5" fill="#80FF00" stroke="#000" stroke-width="1.1"/>
<rect x="278.2" y="470.1" width="26.0" height="9.5" fill="#00FF00" stroke="#000" stroke-width="1.1"/>
<rect x="278.2" y="484.3" width="26.0" height="9.5" fill="#00FF60" stroke="#000" stroke-width="1.1"/>
<rect x="278.2" y="498.5" width="26.0" height="9.5" fill="#00FFA0" stroke="#000" stroke-width="1.1"/>
<rect x="278.2" y="512.7" width="26.0" height="9.5" fill="#00FFFF" stroke="#000" stroke-width="1.1"/>
<rect x="278.2" y="527.0" width="26.0" height="9.5" fill="#0080FF" stroke="#000" stroke-width="1.1"/>
<rect x="278.2" y="541.2" width="26.0" height="9.5" fill="#0000FF" stroke="#000" stroke-width="1.1"/>
<rect x="581.7" y="413.3" width="26.2" height="9.5" fill="#FF0000" stroke="#000" stroke-width="1.1"/>
<rect x="581.7" y="427.5" width="26.2" height="9.5" fill="#FF8000" stroke="#000" stroke-width="1.1"/>
<rect x="581.7" y="441.7" width="26.2" height="9.5" fill="#FFFF00" stroke="#000" stroke-width="1.1"/>
<rect x="581.7" y="456.0" width="26.2" height="9.5" fill="#80FF00" stroke="#000" stroke-width="1.1"/>
<rect x="581.7" y="470.2" width="26.2" height="9.5" fill="#00FF00" stroke="#000" stroke-width="1.1"/>
<rect x="581.7" y="484.4" width="26.2" height="9.5" fill="#00FF60" stroke="#000" stroke-width="1.1"/>
<rect x="581.7" y="498.6" width="26.2" height="9.5" fill="#00FFA0" stroke="#000" stroke-width="1.1"/>
<rect x="581.7" y="512.8" width="26.2" height="9.5" fill="#00FFFF" stroke="#000" stroke-width="1.1"/>
<rect x="581.7" y="527.1" width="26.2" height="9.5" fill="#0080FF" stroke="#000" stroke-width="1.1"/>
<rect x="581.7" y="541.3" width="26.2" height="9.5" fill="#0000FF" stroke="#000" stroke-width="1.1"/>
<rect x="171.2" y="195.4" width="25.1" height="9.8" fill="#FF0000" stroke="#000" stroke-width="1.1"/>
<rect x="171.2" y="209.8" width="25.1" height="9.8" fill="#FF8000" stroke="#000" stroke-width="1.1"/>
<rect x="171.2" y="224.2" width="25.1" height="9.8" fill="#FFFF00" stroke="#000" stroke-width="1.1"/>
<rect x="171.2" y="238.5" width="25.1" height="9.8" fill="#80FF00" stroke="#000" stroke-width="1.1"/>
<rect x="171.2" y="252.9" width="25.1" height="9.8" fill="#00FF00" stroke="#000" stroke-width="1.1"/>
<rect x="171.2" y="267.3" width="25.1" height="9.8" fill="#00FF60" stroke="#000" stroke-width="1.1"/>
<rect x="171.2" y="281.7" width="25.1" height="9.8" fill="#00FFA0" stroke="#000" stroke-width="1.1"/>
<rect x="171.2" y="296.1" width="25.1" height="9.8" fill="#00FFFF" stroke="#000" stroke-width="1.1"/>
<rect x="171.2" y="310.4" width="25.1" height="9.8" fill="#0080FF" stroke="#000" stroke-width="1.1"/>
<rect x="171.2" y="324.8" width="25.1" height="9.8" fill="#0000FF" stroke="#000" stroke-width="1.1"/>
<rect x="398.2" y="195.2" width="22.5" height="10.0" fill="#FF0000" stroke="#000" stroke-width="1.1"/>
<rect x="398.2" y="209.6" width="22.5" height="10.0" fill="#FF8000" stroke="#000" stroke-width="1.1"/>
<rect x="398.2" y="224.0" width="22.5" height="10.0" fill="#FFFF00" stroke="#000" stroke-width="1.1"/>
<rect x="398.2" y="238.3" width="22.5" height="10.0" fill="#80FF00" stroke="#000" stroke-width="1.1"/>
<rect x="398.2" y="252.7" width="22.5" height="10.0" fill="#00FF00" stroke="#000" stroke-width="1.1"/>
<rect x="398.2" y="267.1" width="22.5" height="10.0" fill="#00FF60" stroke="#000" stroke-width="1.1"/>
<rect x="398.2" y="281.5" width="22.5" height="10.0" fill="#00FFA0" stroke="#000" stroke-width="1.1"/>
<rect x="398.2" y="295.9" width="22.5" height="10.0" fill="#00FFFF" stroke="#000" stroke-width="1.1"/>
<rect x="398.2" y="310.2" width="22.5" height="10.0" fill="#0080FF" stroke="#000" stroke-width="1.1"/>
<rect x="398.2" y="324.6" width="22.5" height="10.0" fill="#0000FF" stroke="#000" stroke-width="1.1"/>
<rect x="625.2" y="195.2" width="23.0" height="10.0" fill="#FF0000" stroke="#000" stroke-width="1.1"/>
<rect x="625.2" y="209.6" width="23.0" height="10.0" fill="#FF8000" stroke="#000" stroke-width="1.1"/>
<rect x="625.2" y="224.0" width="23.0" height="10.0" fill="#FFFF00" stroke="#000" stroke-width="1.1"/>
<rect x="625.2" y="238.3" width="23.0" height="10.0" fill="#80FF00" stroke="#000" stroke-width="1.1"/>
<rect x="625.2" y="252.7" width="23.0" height="10.0" fill="#00FF00" stroke="#000" stroke-width="1.1"/>
<rect x="625.2" y="267.1" width="23.0" height="10.0" fill="#00FF60" stroke="#000" stroke-width="1.1"/>
<rect x="625.2" y="281.5" width="23.0" height="10.0" fill="#00FFA0" stroke="#000" stroke-width="1.1"/>
<rect x="625.2" y="295.9" width="23.0" height="10.0" fill="#00FFFF" stroke="#000" stroke-width="1.1"/>
<rect x="625.2" y="310.2" width="23.0" height="10.0" fill="#0080FF" stroke="#000" stroke-width="1.1"/>
<rect x="625.2" y="324.6" width="23.0" height="10.0" fill="#0000FF" stroke="#000" stroke-width="1.1"/>
<rect x="278.2" y="586.6" width="25.7" height="9.8" fill="#FF0000" stroke="#000" stroke-width="1.1"/>
<rect x="278.2" y="600.9" width="25.7" height="9.8" fill="#FF8000" stroke="#000" stroke-width="1.1"/>
<rect x="278.2" y="615.2" width="25.7" height="9.8" fill="#FFFF00" stroke="#000" stroke-width="1.1"/>
<rect x="278.2" y="629.5" width="25.7" height="9.8" fill="#80FF00" stroke="#000" stroke-width="1.1"/>
<rect x="278.2" y="643.8" width="25.7" height="9.8" fill="#00FF00" stroke="#000" stroke-width="1.1"/>
<rect x="278.2" y="658.1" width="25.7" height="9.8" fill="#00FF60" stroke="#000" stroke-width="1.1"/>
<rect x="278.2" y="672.4" width="25.7" height="9.8" fill="#00FFA0" stroke="#000" stroke-width="1.1"/>
<rect x="278.2" y="686.7" width="25.7" height="9.8" fill="#00FFFF" stroke="#000" stroke-width="1.1"/>
<rect x="278.2" y="701.0" width="25.7" height="9.8" fill="#0080FF" stroke="#000" stroke-width="1.1"/>
<rect x="278.2" y="715.3" width="25.7" height="9.8" fill="#0000FF" stroke="#000" stroke-width="1.1"/>
<rect x="581.7" y="586.8" width="26.2" height="9.5" fill="#FF0000" stroke="#000" stroke-width="1.1"/>
<rect x="581.7" y="601.0" width="26.2" height="9.5" fill="#FF8000" stroke="#000" stroke-width="1.1"/>
<rect x="581.7" y="615.2" width="26.2" height="9.5" fill="#FFFF00" stroke="#000" stroke-width="1.1"/>
<rect x="581.7" y="629.5" width="26.2" height="9.5" fill="#80FF00" stroke="#000" stroke-width="1.1"/>
<rect x="581.7" y="643.7" width="26.2" height="9.5" fill="#00FF00" stroke="#000" stroke-width="1.1"/>
<rect x="581.7" y="657.9" width="26.2" height="9.5" fill="#00FF60" stroke="#000" stroke-width="1.1"/>
<rect x="581.7" y="672.1" width="26.2" height="9.5" fill="#00FFA0" stroke="#000" stroke-width="1.1"/>
<rect x="581.7" y="686.3" width="26.2" height="9.5" fill="#00FFFF" stroke="#000" stroke-width="1.1"/>
<rect x="581.7" y="700.6" width="26.2" height="9.5" fill="#0080FF" stroke="#000" stroke-width="1.1"/>
<rect x="581.7" y="714.8" width="26.2" height="9.5" fill="#0000FF" stroke="#000" stroke-width="1.1"/>
<text x="60.4" y="178.7" font-size="9.8" text-anchor="middle" textLength="13.3" lengthAdjust="spacingAndGlyphs">200</text>
<text x="85.1" y="178.7" font-size="9.8" text-anchor="middle" textLength="13.3" lengthAdjust="spacingAndGlyphs">400</text>
<text x="109.9" y="178.7" font-size="9.8" text-anchor="middle" textLength="13.3" lengthAdjust="spacingAndGlyphs">600</text>
<text x="134.7" y="178.7" font-size="9.8" text-anchor="middle" textLength="13.3" lengthAdjust="spacingAndGlyphs">800</text>
<text x="159.4" y="178.7" font-size="9.8" text-anchor="middle" textLength="16.7" lengthAdjust="spacingAndGlyphs">1000</text>
<text x="28.9" y="168.6" font-size="12.2" text-anchor="end" textLength="10.9" lengthAdjust="spacingAndGlyphs">10</text>
<text x="35.7" y="164.5" font-size="7.8" text-anchor="end" textLength="7.0" lengthAdjust="spacingAndGlyphs">18</text>
<text x="28.9" y="119.6" font-size="12.2" text-anchor="end" textLength="10.9" lengthAdjust="spacingAndGlyphs">10</text>
<text x="35.7" y="115.5" font-size="7.8" text-anchor="end" textLength="7.0" lengthAdjust="spacingAndGlyphs">19</text>
<text x="28.9" y="70.7" font-size="12.2" text-anchor="end" textLength="10.9" lengthAdjust="spacingAndGlyphs">10</text>
<text x="35.7" y="66.6" font-size="7.8" text-anchor="end" textLength="7.0" lengthAdjust="spacingAndGlyphs">20</text>
<text x="28.9" y="21.7" font-size="12.2" text-anchor="end" textLength="10.9" lengthAdjust="spacingAndGlyphs">10</text>
<text x="35.7" y="17.6" font-size="7.8" text-anchor="end" textLength="7.0" lengthAdjust="spacingAndGlyphs">21</text>
<text x="287.9" y="178.7" font-size="9.8" text-anchor="middle" textLength="13.3" lengthAdjust="spacingAndGlyphs">200</text>
<text x="312.6" y="178.7" font-size="9.8" text-anchor="middle" textLength="13.3" lengthAdjust="spacingAndGlyphs">400</text>
<text x="337.1" y="178.7" font-size="9.8" text-anchor="middle" textLength="13.3" lengthAdjust="spacingAndGlyphs">600</text>
<text x="361.8" y="178.7" font-size="9.8" text-anchor="middle" textLength="13.3" lengthAdjust="spacingAndGlyphs">800</text>
<text x="386.4" y="178.7" font-size="9.8" text-anchor="middle" textLength="16.7" lengthAdjust="spacingAndGlyphs">1000</text>
<text x="256.6" y="168.6" font-size="12.2" text-anchor="end" textLength="10.9" lengthAdjust="spacingAndGlyphs">10</text>
<text x="263.4" y="164.5" font-size="7.8" text-anchor="end" textLength="7.0" lengthAdjust="spacingAndGlyphs">18</text>
<text x="256.6" y="119.6" font-size="12.2" text-anchor="end" textLength="10.9" lengthAdjust="spacingAndGlyphs">10</text>
<text x="263.4" y="115.5" font-size="7.8" text-anchor="end" textLength="7.0" lengthAdjust="spacingAndGlyphs">19</text>
<text x="256.6" y="70.7" font-size="12.2" text-anchor="end" textLength="10.9" lengthAdjust="spacingAndGlyphs">10</text>
<text x="263.4" y="66.6" font-size="7.8" text-anchor="end" textLength="7.0" lengthAdjust="spacingAndGlyphs">20</text>
<text x="256.6" y="21.7" font-size="12.2" text-anchor="end" textLength="10.9" lengthAdjust="spacingAndGlyphs">10</text>
<text x="263.4" y="17.6" font-size="7.8" text-anchor="end" textLength="7.0" lengthAdjust="spacingAndGlyphs">21</text>
<text x="515.3" y="178.7" font-size="9.8" text-anchor="middle" textLength="13.3" lengthAdjust="spacingAndGlyphs">200</text>
<text x="539.9" y="178.7" font-size="9.8" text-anchor="middle" textLength="13.3" lengthAdjust="spacingAndGlyphs">400</text>
<text x="564.6" y="178.7" font-size="9.8" text-anchor="middle" textLength="13.3" lengthAdjust="spacingAndGlyphs">600</text>
<text x="589.2" y="178.7" font-size="9.8" text-anchor="middle" textLength="13.3" lengthAdjust="spacingAndGlyphs">800</text>
<text x="613.8" y="178.7" font-size="9.8" text-anchor="middle" textLength="16.7" lengthAdjust="spacingAndGlyphs">1000</text>
<text x="483.9" y="168.6" font-size="12.2" text-anchor="end" textLength="10.9" lengthAdjust="spacingAndGlyphs">10</text>
<text x="490.7" y="164.5" font-size="7.8" text-anchor="end" textLength="7.0" lengthAdjust="spacingAndGlyphs">18</text>
<text x="483.9" y="119.6" font-size="12.2" text-anchor="end" textLength="10.9" lengthAdjust="spacingAndGlyphs">10</text>
<text x="490.7" y="115.5" font-size="7.8" text-anchor="end" textLength="7.0" lengthAdjust="spacingAndGlyphs">19</text>
<text x="483.9" y="70.7" font-size="12.2" text-anchor="end" textLength="10.9" lengthAdjust="spacingAndGlyphs">10</text>
<text x="490.7" y="66.6" font-size="7.8" text-anchor="end" textLength="7.0" lengthAdjust="spacingAndGlyphs">20</text>
<text x="483.9" y="21.7" font-size="12.2" text-anchor="end" textLength="10.9" lengthAdjust="spacingAndGlyphs">10</text>
<text x="490.7" y="17.6" font-size="7.8" text-anchor="end" textLength="7.0" lengthAdjust="spacingAndGlyphs">21</text>
<text x="60.6" y="352.6" font-size="9.8" text-anchor="middle" textLength="13.3" lengthAdjust="spacingAndGlyphs">200</text>
<text x="85.3" y="352.6" font-size="9.8" text-anchor="middle" textLength="13.3" lengthAdjust="spacingAndGlyphs">400</text>
<text x="110.0" y="352.6" font-size="9.8" text-anchor="middle" textLength="13.3" lengthAdjust="spacingAndGlyphs">600</text>
<text x="134.8" y="352.6" font-size="9.8" text-anchor="middle" textLength="13.3" lengthAdjust="spacingAndGlyphs">800</text>
<text x="159.5" y="352.6" font-size="9.8" text-anchor="middle" textLength="16.7" lengthAdjust="spacingAndGlyphs">1000</text>
<text x="29.1" y="342.5" font-size="12.2" text-anchor="end" textLength="10.9" lengthAdjust="spacingAndGlyphs">10</text>
<text x="35.9" y="338.4" font-size="7.8" text-anchor="end" textLength="7.0" lengthAdjust="spacingAndGlyphs">19</text>
<text x="29.1" y="300.3" font-size="12.2" text-anchor="end" textLength="10.9" lengthAdjust="spacingAndGlyphs">10</text>
<text x="35.9" y="296.2" font-size="7.8" text-anchor="end" textLength="7.0" lengthAdjust="spacingAndGlyphs">20</text>
<text x="29.1" y="258.1" font-size="12.2" text-anchor="end" textLength="10.9" lengthAdjust="spacingAndGlyphs">10</text>
<text x="35.9" y="254.0" font-size="7.8" text-anchor="end" textLength="7.0" lengthAdjust="spacingAndGlyphs">21</text>
<text x="29.1" y="215.9" font-size="12.2" text-anchor="end" textLength="10.9" lengthAdjust="spacingAndGlyphs">10</text>
<text x="35.9" y="211.8" font-size="7.8" text-anchor="end" textLength="7.0" lengthAdjust="spacingAndGlyphs">22</text>
<text x="287.9" y="352.6" font-size="9.8" text-anchor="middle" textLength="13.3" lengthAdjust="spacingAndGlyphs">200</text>
<text x="312.6" y="352.6" font-size="9.8" text-anchor="middle" textLength="13.3" lengthAdjust="spacingAndGlyphs">400</text>
<text x="337.1" y="352.6" font-size="9.8" text-anchor="middle" textLength="13.3" lengthAdjust="spacingAndGlyphs">600</text>
<text x="361.8" y="352.6" font-size="9.8" text-anchor="middle" textLength="13.3" lengthAdjust="spacingAndGlyphs">800</text>
<text x="386.4" y="352.6" font-size="9.8" text-anchor="middle" textLength="16.7" lengthAdjust="spacingAndGlyphs">1000</text>
<text x="256.6" y="342.5" font-size="12.2" text-anchor="end" textLength="10.9" lengthAdjust="spacingAndGlyphs">10</text>
<text x="263.4" y="338.4" font-size="7.8" text-anchor="end" textLength="7.0" lengthAdjust="spacingAndGlyphs">19</text>
<text x="256.6" y="300.3" font-size="12.2" text-anchor="end" textLength="10.9" lengthAdjust="spacingAndGlyphs">10</text>
<text x="263.4" y="296.2" font-size="7.8" text-anchor="end" textLength="7.0" lengthAdjust="spacingAndGlyphs">20</text>
<text x="256.6" y="258.1" font-size="12.2" text-anchor="end" textLength="10.9" lengthAdjust="spacingAndGlyphs">10</text>
<text x="263.4" y="254.0" font-size="7.8" text-anchor="end" textLength="7.0" lengthAdjust="spacingAndGlyphs">21</text>
<text x="256.6" y="215.9" font-size="12.2" text-anchor="end" textLength="10.9" lengthAdjust="spacingAndGlyphs">10</text>
<text x="263.4" y="211.8" font-size="7.8" text-anchor="end" textLength="7.0" lengthAdjust="spacingAndGlyphs">22</text>
<text x="515.3" y="352.6" font-size="9.8" text-anchor="middle" textLength="13.3" lengthAdjust="spacingAndGlyphs">200</text>
<text x="539.9" y="352.6" font-size="9.8" text-anchor="middle" textLength="13.3" lengthAdjust="spacingAndGlyphs">400</text>
<text x="564.6" y="352.6" font-size="9.8" text-anchor="middle" textLength="13.3" lengthAdjust="spacingAndGlyphs">600</text>
<text x="589.2" y="352.6" font-size="9.8" text-anchor="middle" textLength="13.3" lengthAdjust="spacingAndGlyphs">800</text>
<text x="613.8" y="352.6" font-size="9.8" text-anchor="middle" textLength="16.7" lengthAdjust="spacingAndGlyphs">1000</text>
<text x="483.9" y="342.5" font-size="12.2" text-anchor="end" textLength="10.9" lengthAdjust="spacingAndGlyphs">10</text>
<text x="490.7" y="338.4" font-size="7.8" text-anchor="end" textLength="7.0" lengthAdjust="spacingAndGlyphs">19</text>
<text x="483.9" y="300.3" font-size="12.2" text-anchor="end" textLength="10.9" lengthAdjust="spacingAndGlyphs">10</text>
<text x="490.7" y="296.2" font-size="7.8" text-anchor="end" textLength="7.0" lengthAdjust="spacingAndGlyphs">20</text>
<text x="483.9" y="258.1" font-size="12.2" text-anchor="end" textLength="10.9" lengthAdjust="spacingAndGlyphs">10</text>
<text x="490.7" y="254.0" font-size="7.8" text-anchor="end" textLength="7.0" lengthAdjust="spacingAndGlyphs">21</text>
<text x="483.9" y="215.9" font-size="12.2" text-anchor="end" textLength="10.9" lengthAdjust="spacingAndGlyphs">10</text>
<text x="490.7" y="211.8" font-size="7.8" text-anchor="end" textLength="7.0" lengthAdjust="spacingAndGlyphs">22</text>
<text x="111.1" y="571.2" font-size="11.6" text-anchor="middle" textLength="16.0" lengthAdjust="spacingAndGlyphs">200</text>
<text x="148.2" y="571.2" font-size="11.6" text-anchor="middle" textLength="16.0" lengthAdjust="spacingAndGlyphs">400</text>
<text x="185.3" y="571.2" font-size="11.6" text-anchor="middle" textLength="16.0" lengthAdjust="spacingAndGlyphs">600</text>
<text x="222.3" y="571.2" font-size="11.6" text-anchor="middle" textLength="16.0" lengthAdjust="spacingAndGlyphs">800</text>
<text x="259.4" y="571.2" font-size="11.6" text-anchor="middle" textLength="21.3" lengthAdjust="spacingAndGlyphs">1000</text>
<text x="70.4" y="559.7" font-size="12.2" text-anchor="end" textLength="11.3" lengthAdjust="spacingAndGlyphs">10</text>
<text x="77.2" y="555.2" font-size="7.6" text-anchor="end" textLength="7.3" lengthAdjust="spacingAndGlyphs">18</text>
<text x="70.4" y="510.9" font-size="12.2" text-anchor="end" textLength="11.3" lengthAdjust="spacingAndGlyphs">10</text>
<text x="77.2" y="506.4" font-size="7.6" text-anchor="end" textLength="7.3" lengthAdjust="spacingAndGlyphs">19</text>
<text x="70.4" y="462.2" font-size="12.2" text-anchor="end" textLength="11.3" lengthAdjust="spacingAndGlyphs">10</text>
<text x="77.2" y="457.7" font-size="7.6" text-anchor="end" textLength="7.3" lengthAdjust="spacingAndGlyphs">20</text>
<text x="70.4" y="413.4" font-size="12.2" text-anchor="end" textLength="11.3" lengthAdjust="spacingAndGlyphs">10</text>
<text x="77.2" y="408.9" font-size="7.6" text-anchor="end" textLength="7.3" lengthAdjust="spacingAndGlyphs">21</text>
<text x="417.1" y="571.2" font-size="11.6" text-anchor="middle" textLength="16.0" lengthAdjust="spacingAndGlyphs">200</text>
<text x="454.1" y="571.2" font-size="11.6" text-anchor="middle" textLength="16.0" lengthAdjust="spacingAndGlyphs">400</text>
<text x="491.2" y="571.2" font-size="11.6" text-anchor="middle" textLength="16.0" lengthAdjust="spacingAndGlyphs">600</text>
<text x="528.2" y="571.2" font-size="11.6" text-anchor="middle" textLength="16.0" lengthAdjust="spacingAndGlyphs">800</text>
<text x="565.2" y="571.2" font-size="11.6" text-anchor="middle" textLength="21.3" lengthAdjust="spacingAndGlyphs">1000</text>
<text x="376.4" y="559.7" font-size="12.2" text-anchor="end" textLength="11.3" lengthAdjust="spacingAndGlyphs">10</text>
<text x="383.2" y="555.2" font-size="7.6" text-anchor="end" textLength="7.3" lengthAdjust="spacingAndGlyphs">18</text>
<text x="376.4" y="510.9" font-size="12.2" text-anchor="end" textLength="11.3" lengthAdjust="spacingAndGlyphs">10</text>
<text x="383.2" y="506.4" font-size="7.6" text-anchor="end" textLength="7.3" lengthAdjust="spacingAndGlyphs">19</text>
<text x="376.4" y="462.2" font-size="12.2" text-anchor="end" textLength="11.3" lengthAdjust="spacingAndGlyphs">10</text>
<text x="383.2" y="457.7" font-size="7.6" text-anchor="end" textLength="7.3" lengthAdjust="spacingAndGlyphs">20</text>
<text x="376.4" y="413.4" font-size="12.2" text-anchor="end" textLength="11.3" lengthAdjust="spacingAndGlyphs">10</text>
<text x="383.2" y="408.9" font-size="7.6" text-anchor="end" textLength="7.3" lengthAdjust="spacingAndGlyphs">21</text>
<text x="111.1" y="744.7" font-size="11.6" text-anchor="middle" textLength="16.0" lengthAdjust="spacingAndGlyphs">200</text>
<text x="148.2" y="744.7" font-size="11.6" text-anchor="middle" textLength="16.0" lengthAdjust="spacingAndGlyphs">400</text>
<text x="185.3" y="744.7" font-size="11.6" text-anchor="middle" textLength="16.0" lengthAdjust="spacingAndGlyphs">600</text>
<text x="222.3" y="744.7" font-size="11.6" text-anchor="middle" textLength="16.0" lengthAdjust="spacingAndGlyphs">800</text>
<text x="259.4" y="744.7" font-size="11.6" text-anchor="middle" textLength="21.3" lengthAdjust="spacingAndGlyphs">1000</text>
<text x="70.4" y="733.2" font-size="12.2" text-anchor="end" textLength="11.3" lengthAdjust="spacingAndGlyphs">10</text>
<text x="77.2" y="728.7" font-size="7.6" text-anchor="end" textLength="7.3" lengthAdjust="spacingAndGlyphs">19</text>
<text x="70.4" y="691.2" font-size="12.2" text-anchor="end" textLength="11.3" lengthAdjust="spacingAndGlyphs">10</text>
<text x="77.2" y="686.7" font-size="7.6" text-anchor="end" textLength="7.3" lengthAdjust="spacingAndGlyphs">20</text>
<text x="70.4" y="649.1" font-size="12.2" text-anchor="end" textLength="11.3" lengthAdjust="spacingAndGlyphs">10</text>
<text x="77.2" y="644.6" font-size="7.6" text-anchor="end" textLength="7.3" lengthAdjust="spacingAndGlyphs">21</text>
<text x="70.4" y="607.1" font-size="12.2" text-anchor="end" textLength="11.3" lengthAdjust="spacingAndGlyphs">10</text>
<text x="77.2" y="602.6" font-size="7.6" text-anchor="end" textLength="7.3" lengthAdjust="spacingAndGlyphs">22</text>
<text x="417.1" y="744.7" font-size="11.6" text-anchor="middle" textLength="16.0" lengthAdjust="spacingAndGlyphs">200</text>
<text x="454.1" y="744.7" font-size="11.6" text-anchor="middle" textLength="16.0" lengthAdjust="spacingAndGlyphs">400</text>
<text x="491.2" y="744.7" font-size="11.6" text-anchor="middle" textLength="16.0" lengthAdjust="spacingAndGlyphs">600</text>
<text x="528.2" y="744.7" font-size="11.6" text-anchor="middle" textLength="16.0" lengthAdjust="spacingAndGlyphs">800</text>
<text x="565.2" y="744.7" font-size="11.6" text-anchor="middle" textLength="21.3" lengthAdjust="spacingAndGlyphs">1000</text>
<text x="376.4" y="733.2" font-size="12.2" text-anchor="end" textLength="11.3" lengthAdjust="spacingAndGlyphs">10</text>
<text x="383.2" y="728.7" font-size="7.6" text-anchor="end" textLength="7.3" lengthAdjust="spacingAndGlyphs">19</text>
<text x="376.4" y="691.2" font-size="12.2" text-anchor="end" textLength="11.3" lengthAdjust="spacingAndGlyphs">10</text>
<text x="383.2" y="686.7" font-size="7.6" text-anchor="end" textLength="7.3" lengthAdjust="spacingAndGlyphs">20</text>
<text x="376.4" y="649.1" font-size="12.2" text-anchor="end" textLength="11.3" lengthAdjust="spacingAndGlyphs">10</text>
<text x="383.2" y="644.6" font-size="7.6" text-anchor="end" textLength="7.3" lengthAdjust="spacingAndGlyphs">21</text>
<text x="376.4" y="607.1" font-size="12.2" text-anchor="end" textLength="11.3" lengthAdjust="spacingAndGlyphs">10</text>
<text x="383.2" y="602.6" font-size="7.6" text-anchor="end" textLength="7.3" lengthAdjust="spacingAndGlyphs">22</text>
<text x="11.2" y="87.0" font-size="13" text-anchor="middle" textLength="46.1" lengthAdjust="spacingAndGlyphs" transform="rotate(-90 11.2 87.0)"><tspan font-style="italic">n</tspan> (cm<tspan font-size="8.6" dy="-5.2">-3</tspan><tspan dy="5.2">)</tspan></text>
<text x="241.9" y="85.8" font-size="13" text-anchor="middle" textLength="45.9" lengthAdjust="spacingAndGlyphs" transform="rotate(-90 241.9 85.8)"><tspan font-style="italic">n</tspan> (cm<tspan font-size="8.6" dy="-5.2">-3</tspan><tspan dy="5.2">)</tspan></text>
<text x="472.9" y="88.5" font-size="13" text-anchor="middle" textLength="45.5" lengthAdjust="spacingAndGlyphs" transform="rotate(-90 472.9 88.5)"><tspan font-style="italic">n</tspan> (cm<tspan font-size="8.6" dy="-5.2">-3</tspan><tspan dy="5.2">)</tspan></text>
<text x="12.3" y="262.5" font-size="13" text-anchor="middle" textLength="47.3" lengthAdjust="spacingAndGlyphs" transform="rotate(-90 12.3 262.5)"><tspan font-style="italic">p</tspan> (cm<tspan font-size="8.6" dy="-5.2">-3</tspan><tspan dy="5.2">)</tspan></text>
<text x="241.4" y="259.8" font-size="13" text-anchor="middle" textLength="46.8" lengthAdjust="spacingAndGlyphs" transform="rotate(-90 241.4 259.8)"><tspan font-style="italic">p</tspan> (cm<tspan font-size="8.6" dy="-5.2">-3</tspan><tspan dy="5.2">)</tspan></text>
<text x="469.5" y="262.1" font-size="13" text-anchor="middle" textLength="46.9" lengthAdjust="spacingAndGlyphs" transform="rotate(-90 469.5 262.1)"><tspan font-style="italic">p</tspan> (cm<tspan font-size="8.6" dy="-5.2">-3</tspan><tspan dy="5.2">)</tspan></text>
<text x="56.4" y="477.7" font-size="13" text-anchor="middle" textLength="48.2" lengthAdjust="spacingAndGlyphs" transform="rotate(-90 56.4 477.7)"><tspan font-style="italic">n</tspan> (cm<tspan font-size="8.6" dy="-5.2">-3</tspan><tspan dy="5.2">)</tspan></text>
<text x="361.8" y="477.6" font-size="13" text-anchor="middle" textLength="47.9" lengthAdjust="spacingAndGlyphs" transform="rotate(-90 361.8 477.6)"><tspan font-style="italic">n</tspan> (cm<tspan font-size="8.6" dy="-5.2">-3</tspan><tspan dy="5.2">)</tspan></text>
<text x="56.4" y="651.8" font-size="13" text-anchor="middle" textLength="48.2" lengthAdjust="spacingAndGlyphs" transform="rotate(-90 56.4 651.8)"><tspan font-style="italic">p</tspan> (cm<tspan font-size="8.6" dy="-5.2">-3</tspan><tspan dy="5.2">)</tspan></text>
<text x="361.8" y="651.8" font-size="13" text-anchor="middle" textLength="48.2" lengthAdjust="spacingAndGlyphs" transform="rotate(-90 361.8 651.8)"><tspan font-style="italic">p</tspan> (cm<tspan font-size="8.6" dy="-5.2">-3</tspan><tspan dy="5.2">)</tspan></text>
<text x="69.9" y="369.4" font-size="10.5" font-style="italic" textLength="67.2" lengthAdjust="spacingAndGlyphs">Temperature (K)</text>
<text x="297.4" y="369.4" font-size="10.5" font-style="italic" textLength="67.2" lengthAdjust="spacingAndGlyphs">Temperature (K)</text>
<text x="524.7" y="369.4" font-size="10.5" font-style="italic" textLength="67.2" lengthAdjust="spacingAndGlyphs">Temperature (K)</text>
<text x="136.1" y="765.5" font-size="13.2" font-style="italic" textLength="81.1" lengthAdjust="spacingAndGlyphs">Temperature (K)</text>
<text x="442.1" y="765.5" font-size="13.2" font-style="italic" textLength="81.1" lengthAdjust="spacingAndGlyphs">Temperature (K)</text>
<text x="315.3" y="8.8" font-size="12.2" textLength="36.8" lengthAdjust="spacingAndGlyphs">HgMgO</text>
<text x="352.5" y="14.8" font-size="11.2" textLength="4.8" lengthAdjust="spacingAndGlyphs">2</text>
<text x="460.1" y="398.3" font-size="13.6" textLength="40.0" lengthAdjust="spacingAndGlyphs">HgMgO</text>
<text x="500.4" y="403.6" font-size="11" textLength="6.0" lengthAdjust="spacingAndGlyphs">2</text>
<text x="173.3" y="12.6" font-size="10">S(mV/K)</text>
<text x="203.7" y="30.0" font-size="10.3">0.054</text>
<text x="203.7" y="44.4" font-size="10.3">0.048</text>
<text x="203.7" y="58.8" font-size="10.3">0.042</text>
<text x="203.7" y="73.1" font-size="10.3">0.036</text>
<text x="203.7" y="87.5" font-size="10.3">0.030</text>
<text x="203.7" y="101.9" font-size="10.3">0.024</text>
<text x="203.7" y="116.3" font-size="10.3">0.018</text>
<text x="203.7" y="130.7" font-size="10.3">0.012</text>
<text x="203.7" y="145.0" font-size="10.3">0.006</text>
<text x="203.7" y="159.4" font-size="10.3">0.000</text>
<text x="402.8" y="12.6" font-size="11.5" style="font-family:'Liberation Sans','DejaVu Sans',sans-serif;font-weight:normal">σ/τ</text>
<text x="427.0" y="30.2" font-size="10" textLength="24.3" lengthAdjust="spacingAndGlyphs">7.3x10</text>
<text x="451.5" y="26.5" font-size="7.0" textLength="6.6" lengthAdjust="spacingAndGlyphs">19</text>
<text x="427.0" y="44.6" font-size="10" textLength="24.3" lengthAdjust="spacingAndGlyphs">6.5x10</text>
<text x="451.5" y="40.9" font-size="7.0" textLength="6.6" lengthAdjust="spacingAndGlyphs">19</text>
<text x="427.0" y="59.0" font-size="10" textLength="24.3" lengthAdjust="spacingAndGlyphs">5.8x10</text>
<text x="451.5" y="55.3" font-size="7.0" textLength="6.6" lengthAdjust="spacingAndGlyphs">19</text>
<text x="427.0" y="73.3" font-size="10" textLength="24.3" lengthAdjust="spacingAndGlyphs">5.0x10</text>
<text x="451.5" y="69.6" font-size="7.0" textLength="6.6" lengthAdjust="spacingAndGlyphs">19</text>
<text x="427.0" y="87.7" font-size="10" textLength="24.3" lengthAdjust="spacingAndGlyphs">4.3x10</text>
<text x="451.5" y="84.0" font-size="7.0" textLength="6.6" lengthAdjust="spacingAndGlyphs">19</text>
<text x="427.0" y="102.1" font-size="10" textLength="24.3" lengthAdjust="spacingAndGlyphs">3.5x10</text>
<text x="451.5" y="98.4" font-size="7.0" textLength="6.6" lengthAdjust="spacingAndGlyphs">19</text>
<text x="427.0" y="116.5" font-size="10" textLength="24.3" lengthAdjust="spacingAndGlyphs">2.8x10</text>
<text x="451.5" y="112.8" font-size="7.0" textLength="6.6" lengthAdjust="spacingAndGlyphs">19</text>
<text x="427.0" y="130.9" font-size="10" textLength="24.3" lengthAdjust="spacingAndGlyphs">2.0x10</text>
<text x="451.5" y="127.2" font-size="7.0" textLength="6.6" lengthAdjust="spacingAndGlyphs">19</text>
<text x="427.0" y="145.2" font-size="10" textLength="24.3" lengthAdjust="spacingAndGlyphs">1.3x10</text>
<text x="451.5" y="141.5" font-size="7.0" textLength="6.6" lengthAdjust="spacingAndGlyphs">19</text>
<text x="427.0" y="159.6" font-size="10" textLength="24.3" lengthAdjust="spacingAndGlyphs">5.0x10</text>
<text x="451.5" y="155.9" font-size="7.0" textLength="6.6" lengthAdjust="spacingAndGlyphs">18</text>
<text x="630.3" y="12.2" font-size="11.5" style="font-family:'Liberation Sans','DejaVu Sans',sans-serif;font-weight:normal">κ/τ</text>
<text x="654.9" y="30.2" font-size="10" textLength="24.3" lengthAdjust="spacingAndGlyphs">1.4x10</text>
<text x="679.4" y="26.5" font-size="7.0" textLength="6.6" lengthAdjust="spacingAndGlyphs">15</text>
<text x="654.9" y="44.6" font-size="10" textLength="24.3" lengthAdjust="spacingAndGlyphs">1.2x10</text>
<text x="679.4" y="40.9" font-size="7.0" textLength="6.6" lengthAdjust="spacingAndGlyphs">15</text>
<text x="654.9" y="59.0" font-size="10" textLength="24.3" lengthAdjust="spacingAndGlyphs">1.1x10</text>
<text x="679.4" y="55.3" font-size="7.0" textLength="6.6" lengthAdjust="spacingAndGlyphs">15</text>
<text x="654.9" y="73.3" font-size="10" textLength="24.3" lengthAdjust="spacingAndGlyphs">9.4x10</text>
<text x="679.4" y="69.6" font-size="7.0" textLength="6.6" lengthAdjust="spacingAndGlyphs">14</text>
<text x="654.9" y="87.7" font-size="10" textLength="24.3" lengthAdjust="spacingAndGlyphs">8.0x10</text>
<text x="679.4" y="84.0" font-size="7.0" textLength="6.6" lengthAdjust="spacingAndGlyphs">14</text>
<text x="654.9" y="102.1" font-size="10" textLength="24.3" lengthAdjust="spacingAndGlyphs">6.6x10</text>
<text x="679.4" y="98.4" font-size="7.0" textLength="6.6" lengthAdjust="spacingAndGlyphs">14</text>
<text x="654.9" y="116.5" font-size="10" textLength="24.3" lengthAdjust="spacingAndGlyphs">5.2x10</text>
<text x="679.4" y="112.8" font-size="7.0" textLength="6.6" lengthAdjust="spacingAndGlyphs">14</text>
<text x="654.9" y="130.9" font-size="10" textLength="24.3" lengthAdjust="spacingAndGlyphs">3.8x10</text>
<text x="679.4" y="127.2" font-size="7.0" textLength="6.6" lengthAdjust="spacingAndGlyphs">14</text>
<text x="654.9" y="145.2" font-size="10" textLength="24.3" lengthAdjust="spacingAndGlyphs">2.4x10</text>
<text x="679.4" y="141.5" font-size="7.0" textLength="6.6" lengthAdjust="spacingAndGlyphs">14</text>
<text x="654.9" y="159.6" font-size="10" textLength="24.3" lengthAdjust="spacingAndGlyphs">1.0x10</text>
<text x="679.4" y="155.9" font-size="7.0" textLength="6.6" lengthAdjust="spacingAndGlyphs">14</text>
<text x="285.8" y="405.0" font-size="11" style="font-weight:normal;stroke-width:0.15px" font-style="italic">ZT</text>
<text x="311.2" y="421.6" font-size="10.3">0.18</text>
<text x="311.2" y="435.8" font-size="10.3">0.16</text>
<text x="311.2" y="450.0" font-size="10.3">0.14</text>
<text x="311.2" y="464.3" font-size="10.3">0.12</text>
<text x="311.2" y="478.5" font-size="10.3">0.10</text>
<text x="311.2" y="492.7" font-size="10.3">0.08</text>
<text x="311.2" y="506.9" font-size="10.3">0.06</text>
<text x="311.2" y="521.1" font-size="10.3">0.04</text>
<text x="311.2" y="535.4" font-size="10.3">0.02</text>
<text x="311.2" y="549.6" font-size="10.3">0.00</text>
<text x="589.1" y="404.8" font-size="10">PF</text>
<text x="614.3" y="422.5" font-size="10.6" textLength="26.3" lengthAdjust="spacingAndGlyphs">6.3x10</text>
<text x="640.9" y="417.9" font-size="7.1" textLength="7.6" lengthAdjust="spacingAndGlyphs">10</text>
<text x="614.3" y="436.7" font-size="10.6" textLength="26.3" lengthAdjust="spacingAndGlyphs">5.6x10</text>
<text x="640.9" y="432.1" font-size="7.1" textLength="7.6" lengthAdjust="spacingAndGlyphs">10</text>
<text x="614.3" y="450.9" font-size="10.6" textLength="26.3" lengthAdjust="spacingAndGlyphs">4.9x10</text>
<text x="640.9" y="446.3" font-size="7.1" textLength="7.6" lengthAdjust="spacingAndGlyphs">10</text>
<text x="614.3" y="465.2" font-size="10.6" textLength="26.3" lengthAdjust="spacingAndGlyphs">4.2x10</text>
<text x="640.9" y="460.6" font-size="7.1" textLength="7.6" lengthAdjust="spacingAndGlyphs">10</text>
<text x="614.3" y="479.4" font-size="10.6" textLength="26.3" lengthAdjust="spacingAndGlyphs">3.5x10</text>
<text x="640.9" y="474.8" font-size="7.1" textLength="7.6" lengthAdjust="spacingAndGlyphs">10</text>
<text x="614.3" y="493.6" font-size="10.6" textLength="26.3" lengthAdjust="spacingAndGlyphs">2.8x10</text>
<text x="640.9" y="489.0" font-size="7.1" textLength="7.6" lengthAdjust="spacingAndGlyphs">10</text>
<text x="614.3" y="507.8" font-size="10.6" textLength="26.3" lengthAdjust="spacingAndGlyphs">2.1x10</text>
<text x="640.9" y="503.2" font-size="7.1" textLength="7.6" lengthAdjust="spacingAndGlyphs">10</text>
<text x="614.3" y="522.0" font-size="10.6" textLength="26.3" lengthAdjust="spacingAndGlyphs">1.4x10</text>
<text x="640.9" y="517.4" font-size="7.1" textLength="7.6" lengthAdjust="spacingAndGlyphs">10</text>
<text x="614.3" y="536.3" font-size="10.6" textLength="26.3" lengthAdjust="spacingAndGlyphs">7.0x10</text>
<text x="640.9" y="531.7" font-size="7.1" textLength="3.8" lengthAdjust="spacingAndGlyphs">9</text>
<text x="614.3" y="550.5" font-size="10.3">0.0</text>
<text x="173.3" y="186.8" font-size="10">S(mV/K)</text>
<text x="203.7" y="204.3" font-size="10.3">0.225</text>
<text x="203.7" y="218.7" font-size="10.3">0.200</text>
<text x="203.7" y="233.1" font-size="10.3">0.175</text>
<text x="203.7" y="247.4" font-size="10.3">0.150</text>
<text x="203.7" y="261.8" font-size="10.3">0.125</text>
<text x="203.7" y="276.2" font-size="10.3">0.100</text>
<text x="203.7" y="290.6" font-size="10.3">0.075</text>
<text x="203.7" y="305.0" font-size="10.3">0.050</text>
<text x="203.7" y="319.3" font-size="10.3">0.025</text>
<text x="203.7" y="333.7" font-size="10.3">0.000</text>
<text x="402.8" y="186.8" font-size="11.5" style="font-family:'Liberation Sans','DejaVu Sans',sans-serif;font-weight:normal">σ/τ</text>
<text x="427.0" y="204.4" font-size="10" textLength="24.3" lengthAdjust="spacingAndGlyphs">3.6x10</text>
<text x="451.5" y="200.7" font-size="7.0" textLength="6.6" lengthAdjust="spacingAndGlyphs">20</text>
<text x="427.0" y="218.8" font-size="10" textLength="24.3" lengthAdjust="spacingAndGlyphs">3.2x10</text>
<text x="451.5" y="215.1" font-size="7.0" textLength="6.6" lengthAdjust="spacingAndGlyphs">20</text>
<text x="427.0" y="233.2" font-size="10" textLength="24.3" lengthAdjust="spacingAndGlyphs">2.8x10</text>
<text x="451.5" y="229.5" font-size="7.0" textLength="6.6" lengthAdjust="spacingAndGlyphs">20</text>
<text x="427.0" y="247.5" font-size="10" textLength="24.3" lengthAdjust="spacingAndGlyphs">2.4x10</text>
<text x="451.5" y="243.8" font-size="7.0" textLength="6.6" lengthAdjust="spacingAndGlyphs">20</text>
<text x="427.0" y="261.9" font-size="10" textLength="24.3" lengthAdjust="spacingAndGlyphs">2.0x10</text>
<text x="451.5" y="258.2" font-size="7.0" textLength="6.6" lengthAdjust="spacingAndGlyphs">20</text>
<text x="427.0" y="276.3" font-size="10" textLength="24.3" lengthAdjust="spacingAndGlyphs">1.6x10</text>
<text x="451.5" y="272.6" font-size="7.0" textLength="6.6" lengthAdjust="spacingAndGlyphs">20</text>
<text x="427.0" y="290.7" font-size="10" textLength="24.3" lengthAdjust="spacingAndGlyphs">1.2x10</text>
<text x="451.5" y="287.0" font-size="7.0" textLength="6.6" lengthAdjust="spacingAndGlyphs">20</text>
<text x="427.0" y="305.1" font-size="10" textLength="24.3" lengthAdjust="spacingAndGlyphs">8.1x10</text>
<text x="451.5" y="301.4" font-size="7.0" textLength="6.6" lengthAdjust="spacingAndGlyphs">19</text>
<text x="427.0" y="319.4" font-size="10" textLength="24.3" lengthAdjust="spacingAndGlyphs">4.1x10</text>
<text x="451.5" y="315.7" font-size="7.0" textLength="6.6" lengthAdjust="spacingAndGlyphs">19</text>
<text x="427.0" y="333.8" font-size="10" textLength="24.3" lengthAdjust="spacingAndGlyphs">1.0x10</text>
<text x="451.5" y="330.1" font-size="7.0" textLength="6.6" lengthAdjust="spacingAndGlyphs">18</text>
<text x="630.3" y="186.4" font-size="11.5" style="font-family:'Liberation Sans','DejaVu Sans',sans-serif;font-weight:normal">κ/τ</text>
<text x="654.9" y="204.4" font-size="10" textLength="24.3" lengthAdjust="spacingAndGlyphs">7.2x10</text>
<text x="679.4" y="200.7" font-size="7.0" textLength="6.6" lengthAdjust="spacingAndGlyphs">15</text>
<text x="654.9" y="218.8" font-size="10" textLength="24.3" lengthAdjust="spacingAndGlyphs">6.4x10</text>
<text x="679.4" y="215.1" font-size="7.0" textLength="6.6" lengthAdjust="spacingAndGlyphs">15</text>
<text x="654.9" y="233.2" font-size="10" textLength="24.3" lengthAdjust="spacingAndGlyphs">5.6x10</text>
<text x="679.4" y="229.5" font-size="7.0" textLength="6.6" lengthAdjust="spacingAndGlyphs">15</text>
<text x="654.9" y="247.5" font-size="10" textLength="24.3" lengthAdjust="spacingAndGlyphs">4.8x10</text>
<text x="679.4" y="243.8" font-size="7.0" textLength="6.6" lengthAdjust="spacingAndGlyphs">15</text>
<text x="654.9" y="261.9" font-size="10" textLength="24.3" lengthAdjust="spacingAndGlyphs">4.0x10</text>
<text x="679.4" y="258.2" font-size="7.0" textLength="6.6" lengthAdjust="spacingAndGlyphs">15</text>
<text x="654.9" y="276.3" font-size="10" textLength="24.3" lengthAdjust="spacingAndGlyphs">3.3x10</text>
<text x="679.4" y="272.6" font-size="7.0" textLength="6.6" lengthAdjust="spacingAndGlyphs">15</text>
<text x="654.9" y="290.7" font-size="10" textLength="24.3" lengthAdjust="spacingAndGlyphs">2.5x10</text>
<text x="679.4" y="287.0" font-size="7.0" textLength="6.6" lengthAdjust="spacingAndGlyphs">15</text>
<text x="654.9" y="305.1" font-size="10" textLength="24.3" lengthAdjust="spacingAndGlyphs">1.7x10</text>
<text x="679.4" y="301.4" font-size="7.0" textLength="6.6" lengthAdjust="spacingAndGlyphs">15</text>
<text x="654.9" y="319.4" font-size="10" textLength="24.3" lengthAdjust="spacingAndGlyphs">8.9x10</text>
<text x="679.4" y="315.7" font-size="7.0" textLength="6.6" lengthAdjust="spacingAndGlyphs">14</text>
<text x="654.9" y="333.8" font-size="10" textLength="24.3" lengthAdjust="spacingAndGlyphs">1.0x10</text>
<text x="679.4" y="330.1" font-size="7.0" textLength="6.6" lengthAdjust="spacingAndGlyphs">14</text>
<text x="285.3" y="578.9" font-size="10">ZT</text>
<text x="311.4" y="595.2" font-size="10.3">0.72</text>
<text x="311.4" y="609.5" font-size="10.3">0.64</text>
<text x="311.4" y="623.8" font-size="10.3">0.56</text>
<text x="311.4" y="638.1" font-size="10.3">0.48</text>
<text x="311.4" y="652.4" font-size="10.3">0.40</text>
<text x="311.4" y="666.7" font-size="10.3">0.32</text>
<text x="311.4" y="681.0" font-size="10.3">0.24</text>
<text x="311.4" y="695.3" font-size="10.3">0.16</text>
<text x="311.4" y="709.6" font-size="10.3">0.08</text>
<text x="311.4" y="723.9" font-size="10.3">0.00</text>
<text x="589.1" y="578.3" font-size="10">PF</text>
<text x="614.3" y="596.0" font-size="10.6" textLength="26.3" lengthAdjust="spacingAndGlyphs">2.4x10</text>
<text x="640.9" y="591.4" font-size="7.1" textLength="7.6" lengthAdjust="spacingAndGlyphs">12</text>
<text x="614.3" y="610.2" font-size="10.6" textLength="26.3" lengthAdjust="spacingAndGlyphs">2.1x10</text>
<text x="640.9" y="605.6" font-size="7.1" textLength="7.6" lengthAdjust="spacingAndGlyphs">12</text>
<text x="614.3" y="624.4" font-size="10.6" textLength="26.3" lengthAdjust="spacingAndGlyphs">1.9x10</text>
<text x="640.9" y="619.8" font-size="7.1" textLength="7.6" lengthAdjust="spacingAndGlyphs">12</text>
<text x="614.3" y="638.7" font-size="10.6" textLength="26.3" lengthAdjust="spacingAndGlyphs">1.6x10</text>
<text x="640.9" y="634.1" font-size="7.1" textLength="7.6" lengthAdjust="spacingAndGlyphs">12</text>
<text x="614.3" y="652.9" font-size="10.6" textLength="26.3" lengthAdjust="spacingAndGlyphs">1.3x10</text>
<text x="640.9" y="648.3" font-size="7.1" textLength="7.6" lengthAdjust="spacingAndGlyphs">12</text>
<text x="614.3" y="667.1" font-size="10.6" textLength="26.3" lengthAdjust="spacingAndGlyphs">1.1x10</text>
<text x="640.9" y="662.5" font-size="7.1" textLength="7.6" lengthAdjust="spacingAndGlyphs">12</text>
<text x="614.3" y="681.3" font-size="10.6" textLength="26.3" lengthAdjust="spacingAndGlyphs">8.0x10</text>
<text x="640.9" y="676.7" font-size="7.1" textLength="7.6" lengthAdjust="spacingAndGlyphs">11</text>
<text x="614.3" y="695.5" font-size="10.6" textLength="26.3" lengthAdjust="spacingAndGlyphs">5.3x10</text>
<text x="640.9" y="690.9" font-size="7.1" textLength="7.6" lengthAdjust="spacingAndGlyphs">11</text>
<text x="614.3" y="709.8" font-size="10.6" textLength="26.3" lengthAdjust="spacingAndGlyphs">2.7x10</text>
<text x="640.9" y="705.2" font-size="7.1" textLength="7.6" lengthAdjust="spacingAndGlyphs">11</text>
<text x="614.3" y="724.0" font-size="10.3">0.0</text>
</svg></body></html>
